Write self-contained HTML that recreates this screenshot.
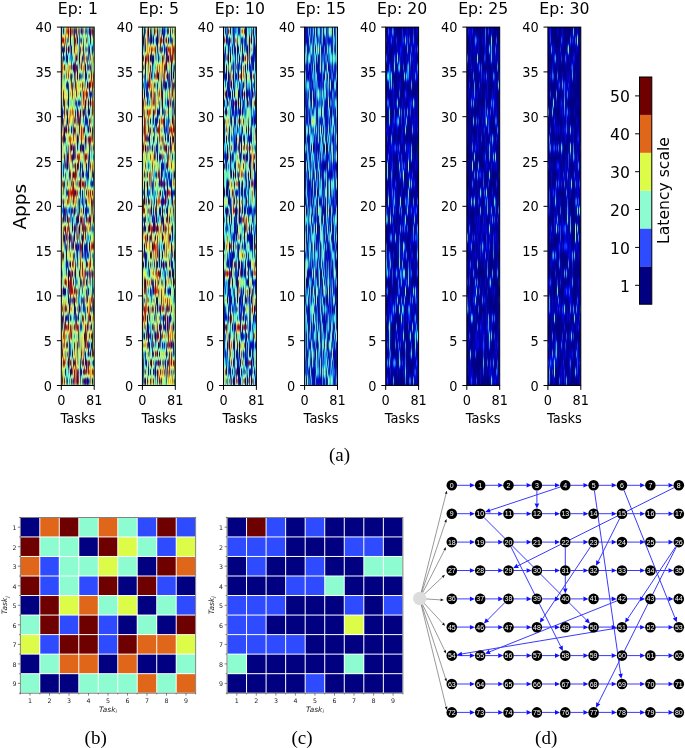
<!DOCTYPE html>
<html><head><meta charset="utf-8"><style>
html,body{margin:0;padding:0;background:#fff;width:685px;height:748px;overflow:hidden}
svg{display:block}
text{font-family:"DejaVu Sans","Liberation Sans",sans-serif;fill:#000}
.t{font-size:12.9px}
.ti{font-size:15.7px}
.tk{font-size:13px}
.ap{font-size:18.4px}
.cb{font-size:15.6px}
.cap{font-family:"Liberation Serif",serif;font-size:19px}
.g{font-size:6.3px;fill:#222}
.gl{font-size:7.4px;font-style:italic;fill:#222}
.n{font-family:"Liberation Sans",sans-serif;font-size:7px;fill:#fff}
</style></head><body>
<svg width="685" height="748" viewBox="0 0 685 748">
<defs>
<filter id="hb" x="-10%" y="-2%" width="120%" height="104%" color-interpolation-filters="sRGB"><feGaussianBlur stdDeviation="0.55 2.2"/><feComponentTransfer result="A"><feFuncR type="table" tableValues="0 0 0 0 0 0 0 0 0 0 0 0 0 0 0 0 0 0.012 0.082 0.149 0.216 0.282 0.349 0.416 0.482 0.553 0.62 0.686 0.753 0.82 0.886 0.953 1 1 1 1 1 1 1 1 1 1 1 0.973 0.878 0.784 0.69 0.596 0.502"/><feFuncG type="table" tableValues="0 0 0 0 0 0 0 0.082 0.165 0.251 0.333 0.416 0.502 0.584 0.667 0.749 0.831 0.918 1 1 1 1 1 1 1 1 1 1 1 1 1 0.976 0.902 0.824 0.745 0.671 0.592 0.514 0.439 0.361 0.282 0.208 0.129 0.051 0 0 0 0 0"/><feFuncB type="table" tableValues="0.502 0.596 0.69 0.784 0.878 0.973 1 1 1 1 1 1 1 1 1 1 1 0.953 0.886 0.82 0.753 0.686 0.62 0.553 0.482 0.416 0.349 0.282 0.216 0.149 0.082 0.012 0 0 0 0 0 0 0 0 0 0 0 0 0 0 0 0 0"/></feComponentTransfer><feColorMatrix in="A" type="matrix" values="0.299 0.587 0.114 0 0 0.299 0.587 0.114 0 0 0.299 0.587 0.114 0 0 0 0 0 1 0" result="L"/><feGaussianBlur in="A" stdDeviation="1.3 1.5" result="AB"/><feColorMatrix in="AB" type="matrix" values="0.299 0.587 0.114 0 0 0.299 0.587 0.114 0 0 0.299 0.587 0.114 0 0 0 0 0 1 0" result="LB"/><feComposite in="L" in2="LB" operator="arithmetic" k1="0" k2="1" k3="-1" k4="0.5" result="D"/><feComposite in="AB" in2="D" operator="arithmetic" k1="0" k2="1" k3="1" k4="-0.5" result="R"/><feGaussianBlur in="R" stdDeviation="0.3 0.3"/><feColorMatrix type="saturate" values="0.8"/></filter>
<filter id="hb2" x="-10%" y="-2%" width="120%" height="104%" color-interpolation-filters="sRGB"><feGaussianBlur stdDeviation="0.55 2.2"/><feComponentTransfer result="A"><feFuncR type="table" tableValues="0 0 0 0 0 0 0 0 0 0 0 0 0 0 0 0 0 0.012 0.082 0.149 0.216 0.282 0.349 0.416 0.482 0.553 0.62 0.686 0.753 0.82 0.886 0.953 1 1 1 1 1 1 1 1 1 1 1 0.973 0.878 0.784 0.69 0.596 0.502"/><feFuncG type="table" tableValues="0 0 0 0 0 0 0 0.082 0.165 0.251 0.333 0.416 0.502 0.584 0.667 0.749 0.831 0.918 1 1 1 1 1 1 1 1 1 1 1 1 1 0.976 0.902 0.824 0.745 0.671 0.592 0.514 0.439 0.361 0.282 0.208 0.129 0.051 0 0 0 0 0"/><feFuncB type="table" tableValues="0.502 0.596 0.69 0.784 0.878 0.973 1 1 1 1 1 1 1 1 1 1 1 0.953 0.886 0.82 0.753 0.686 0.62 0.553 0.482 0.416 0.349 0.282 0.216 0.149 0.082 0.012 0 0 0 0 0 0 0 0 0 0 0 0 0 0 0 0 0"/></feComponentTransfer><feColorMatrix in="A" type="matrix" values="0.299 0.587 0.114 0 0 0.299 0.587 0.114 0 0 0.299 0.587 0.114 0 0 0 0 0 1 0" result="L"/><feGaussianBlur in="A" stdDeviation="1.3 1.5" result="AB"/><feColorMatrix in="AB" type="matrix" values="0.299 0.587 0.114 0 0 0.299 0.587 0.114 0 0 0.299 0.587 0.114 0 0 0 0 0 1 0" result="LB"/><feComposite in="L" in2="LB" operator="arithmetic" k1="0" k2="1" k3="-1" k4="0.5" result="D"/><feComposite in="AB" in2="D" operator="arithmetic" k1="0" k2="1" k3="1" k4="-0.5" result="R"/><feGaussianBlur in="R" stdDeviation="0.3 0.3"/></filter>
<clipPath id="cp0"><rect x="61.3" y="27.1" width="32.9" height="358.4"/></clipPath>
<clipPath id="cp1"><rect x="142.4" y="27.1" width="32.9" height="358.4"/></clipPath>
<clipPath id="cp2"><rect x="223.5" y="27.1" width="32.9" height="358.4"/></clipPath>
<clipPath id="cp3"><rect x="304.6" y="27.1" width="32.9" height="358.4"/></clipPath>
<clipPath id="cp4"><rect x="385.7" y="27.1" width="32.9" height="358.4"/></clipPath>
<clipPath id="cp5"><rect x="466.8" y="27.1" width="32.9" height="358.4"/></clipPath>
<clipPath id="cp6"><rect x="547.9" y="27.1" width="32.9" height="358.4"/></clipPath>
</defs>
<g clip-path="url(#cp0)">
<g filter="url(#hb)"><g transform="translate(61,27.1) scale(1,8.96000)">
<rect x="-2" y="-2" width="37" height="44" fill="rgb(136,136,136)"/>
<path fill="#000000" d="M18 3h1v1h-1zM24 4h1v1h-1zM6 6h1v1h-1zM28 6h1v1h-1zM6 15h1v1h-1zM19 15h1v1h-1zM18 22h1v1h-1zM28 24h1v1h-1zM4 29h1v1h-1zM29 32h1v1h-1zM7 37h1v1h-1zM9 38h1v1h-1zM26 39h1v1h-1z"/>
<path fill="#040404" d="M9 0h1v1h-1zM29 1h1v1h-1zM16 5h1v1h-1zM26 6h1v1h-1zM24 8h1v1h-1zM28 9h1v1h-1zM10 11h1v1h-1zM16 12h1v1h-1zM19 13h1v1h-1zM21 13h2v1h-2zM12 16h1v1h-1zM31 17h1v1h-1zM22 20h1v1h-1zM24 20h1v1h-1zM17 21h1v1h-1zM13 23h1v1h-1zM21 23h1v1h-1zM8 27h1v1h-1zM0 29h1v1h-1zM2 29h1v1h-1zM7 30h1v1h-1zM8 31h1v1h-1zM4 38h1v1h-1z"/>
<path fill="#080808" d="M9 1h1v1h-1zM7 2h1v1h-1zM5 3h2v1h-2zM12 4h1v1h-1zM6 10h1v1h-1zM25 10h1v1h-1zM24 12h1v1h-1zM10 13h1v1h-1zM16 15h1v1h-1zM25 15h1v1h-1zM21 18h1v1h-1zM13 20h1v1h-1zM11 22h1v1h-1zM21 24h1v1h-1zM25 24h1v1h-1zM7 28h1v1h-1zM25 28h1v1h-1zM3 29h1v1h-1zM27 29h1v1h-1zM13 30h1v1h-1zM13 31h1v1h-1z"/>
<path fill="#0c0c0c" d="M16 1h1v1h-1zM10 2h1v1h-1zM27 8h1v1h-1zM16 9h1v1h-1zM24 10h1v1h-1zM3 11h1v1h-1zM27 11h1v1h-1zM3 12h1v1h-1zM12 14h1v1h-1zM21 19h1v1h-1zM25 20h1v1h-1zM3 23h1v1h-1zM8 23h1v1h-1zM6 26h1v1h-1zM9 26h1v1h-1zM7 27h1v1h-1zM25 37h1v1h-1zM32 37h1v1h-1zM24 39h1v1h-1z"/>
<path fill="#101010" d="M28 0h1v1h-1zM1 2h1v1h-1zM31 2h1v1h-1zM0 9h1v1h-1zM27 15h1v1h-1zM22 16h1v1h-1zM19 17h1v1h-1zM6 21h1v1h-1zM16 21h1v1h-1zM15 24h1v1h-1zM17 24h1v1h-1zM5 25h1v1h-1zM24 25h1v1h-1zM5 26h1v1h-1zM0 27h1v1h-1zM14 27h1v1h-1zM18 31h1v1h-1zM5 32h1v1h-1zM9 32h1v1h-1zM10 38h1v1h-1zM20 38h1v1h-1zM31 39h1v1h-1z"/>
<path fill="#141414" d="M28 2h1v1h-1zM15 3h1v1h-1zM13 4h1v1h-1zM24 5h2v1h-2zM29 7h1v1h-1zM7 8h1v1h-1zM19 9h1v1h-1zM27 9h1v1h-1zM13 11h1v1h-1zM11 14h1v1h-1zM21 16h1v1h-1zM14 18h1v1h-1zM0 19h1v1h-1zM3 20h1v1h-1zM20 21h1v1h-1zM28 21h1v1h-1zM4 22h1v1h-1zM24 24h1v1h-1zM18 27h1v1h-1zM30 33h1v1h-1zM23 34h1v1h-1zM30 35h1v1h-1zM27 36h1v1h-1zM16 39h1v1h-1z"/>
<path fill="#181818" d="M20 0h1v1h-1zM7 7h1v1h-1zM22 9h1v1h-1zM5 11h1v1h-1zM29 11h1v1h-1zM0 13h1v1h-1zM28 14h1v1h-1zM27 16h1v1h-1zM6 18h1v1h-1zM8 20h1v1h-1zM13 22h1v1h-1zM12 24h1v1h-1zM16 25h1v1h-1zM21 25h1v1h-1zM25 26h1v1h-1zM11 27h1v1h-1zM22 31h1v1h-1zM11 36h1v1h-1zM24 36h1v1h-1zM24 37h1v1h-1zM23 39h1v1h-1z"/>
<path fill="#1c1c1c" d="M2 0h1v1h-1zM2 2h1v1h-1zM17 8h1v1h-1zM29 8h1v1h-1zM1 9h1v1h-1zM1 10h1v1h-1zM6 14h1v1h-1zM19 18h1v1h-1zM25 19h1v1h-1zM2 21h1v1h-1zM26 25h1v1h-1zM14 31h1v1h-1zM1 32h1v1h-1zM17 32h1v1h-1zM29 36h1v1h-1zM13 37h1v1h-1zM27 39h1v1h-1z"/>
<path fill="#202020" d="M2 3h1v1h-1zM21 3h1v1h-1zM30 7h1v1h-1zM15 8h1v1h-1zM18 8h1v1h-1zM26 10h1v1h-1zM23 11h1v1h-1zM12 13h1v1h-1zM16 13h1v1h-1zM0 16h1v1h-1zM8 16h1v1h-1zM26 16h1v1h-1zM32 16h1v1h-1zM3 17h1v1h-1zM10 20h1v1h-1zM11 21h1v1h-1zM2 25h1v1h-1zM26 33h1v1h-1zM28 35h1v1h-1zM19 38h1v1h-1zM22 38h1v1h-1z"/>
<path fill="#242424" d="M29 0h1v1h-1zM29 4h1v1h-1zM5 6h1v1h-1zM6 9h1v1h-1zM14 9h1v1h-1zM28 12h1v1h-1zM3 14h1v1h-1zM30 17h1v1h-1zM26 20h1v1h-1zM25 21h1v1h-1zM14 22h1v1h-1zM23 24h1v1h-1zM26 27h1v1h-1zM31 27h1v1h-1zM12 28h1v1h-1zM26 30h1v1h-1zM4 32h1v1h-1zM6 32h1v1h-1zM20 33h1v1h-1zM6 35h1v1h-1zM28 37h1v1h-1zM12 39h1v1h-1z"/>
<path fill="#282828" d="M5 2h1v1h-1zM22 2h1v1h-1zM19 5h1v1h-1zM19 7h1v1h-1zM28 13h1v1h-1zM21 15h1v1h-1zM2 16h1v1h-1zM5 18h1v1h-1zM2 19h1v1h-1zM2 20h1v1h-1zM27 20h1v1h-1zM16 24h1v1h-1zM23 31h1v1h-1zM4 33h1v1h-1zM19 33h1v1h-1zM27 35h1v1h-1zM21 37h1v1h-1zM16 38h1v1h-1z"/>
<path fill="#2c2c2c" d="M14 0h1v1h-1zM3 3h1v1h-1zM16 4h1v1h-1zM7 6h1v1h-1zM4 12h1v1h-1zM17 12h1v1h-1zM25 16h1v1h-1zM10 17h1v1h-1zM31 19h1v1h-1zM23 22h1v1h-1zM4 24h2v1h-2zM13 25h1v1h-1zM27 25h1v1h-1zM24 27h1v1h-1zM20 28h1v1h-1zM11 30h1v1h-1zM20 30h1v1h-1zM22 30h1v1h-1zM1 33h1v1h-1zM19 37h1v1h-1zM25 38h1v1h-1zM6 39h1v1h-1z"/>
<path fill="#303030" d="M32 0h1v1h-1zM10 4h1v1h-1zM9 5h1v1h-1zM13 5h1v1h-1zM28 7h1v1h-1zM2 15h1v1h-1zM5 15h1v1h-1zM4 16h1v1h-1zM5 20h1v1h-1zM31 22h1v1h-1zM20 23h1v1h-1zM8 24h1v1h-1zM18 29h1v1h-1zM31 29h2v1h-2zM14 32h1v1h-1zM24 32h1v1h-1zM9 36h1v1h-1z"/>
<path fill="#343434" d="M21 0h1v1h-1zM25 0h1v1h-1zM27 2h1v1h-1zM22 3h1v1h-1zM27 3h1v1h-1zM26 4h1v1h-1zM19 10h1v1h-1zM32 17h1v1h-1zM1 20h1v1h-1zM10 23h1v1h-1zM29 23h1v1h-1zM14 26h1v1h-1zM16 26h1v1h-1zM5 27h1v1h-1zM31 28h1v1h-1zM21 29h1v1h-1zM8 30h1v1h-1zM30 31h1v1h-1zM0 32h1v1h-1z"/>
<path fill="#383838" d="M24 0h1v1h-1zM6 1h1v1h-1zM18 1h2v1h-2zM26 3h1v1h-1zM20 5h1v1h-1zM0 8h1v1h-1zM14 10h1v1h-1zM0 14h1v1h-1zM14 14h1v1h-1zM32 14h1v1h-1zM13 15h1v1h-1zM19 16h1v1h-1zM29 17h1v1h-1zM3 21h1v1h-1zM12 23h1v1h-1zM10 24h1v1h-1zM26 24h1v1h-1zM23 25h1v1h-1zM29 27h1v1h-1zM15 28h1v1h-1zM31 30h1v1h-1zM31 31h1v1h-1zM13 32h1v1h-1zM16 32h1v1h-1zM9 35h1v1h-1z"/>
<path fill="#3c3c3c" d="M32 1h1v1h-1zM18 2h1v1h-1zM11 3h1v1h-1zM28 4h1v1h-1zM24 9h1v1h-1zM5 13h1v1h-1zM0 15h1v1h-1zM3 15h1v1h-1zM18 16h1v1h-1zM23 17h1v1h-1zM17 19h1v1h-1zM7 20h1v1h-1zM31 20h1v1h-1zM8 22h1v1h-1zM32 22h1v1h-1zM16 23h1v1h-1zM27 23h1v1h-1zM32 26h1v1h-1zM7 29h1v1h-1zM14 29h1v1h-1zM10 30h1v1h-1zM24 31h1v1h-1zM31 37h1v1h-1zM5 39h1v1h-1zM19 39h1v1h-1zM21 39h1v1h-1z"/>
<path fill="#404040" d="M12 0h1v1h-1zM18 0h1v1h-1zM22 1h1v1h-1zM25 2h1v1h-1zM32 2h1v1h-1zM10 3h1v1h-1zM3 5h1v1h-1zM2 9h1v1h-1zM16 10h1v1h-1zM22 10h1v1h-1zM25 12h1v1h-1zM24 13h1v1h-1zM27 14h1v1h-1zM12 20h1v1h-1zM23 21h1v1h-1zM0 22h1v1h-1zM18 24h1v1h-1zM31 25h1v1h-1zM14 28h1v1h-1zM17 30h1v1h-1zM23 30h1v1h-1zM14 33h1v1h-1zM28 39h1v1h-1z"/>
<path fill="#444444" d="M24 2h1v1h-1zM11 5h1v1h-1zM21 5h1v1h-1zM26 11h1v1h-1zM20 15h1v1h-1zM24 16h1v1h-1zM16 17h1v1h-1zM26 17h1v1h-1zM18 18h1v1h-1zM20 19h1v1h-1zM22 19h1v1h-1zM9 20h1v1h-1zM9 21h1v1h-1zM22 25h1v1h-1zM32 25h1v1h-1zM27 27h1v1h-1zM29 28h1v1h-1zM0 30h1v1h-1zM13 34h1v1h-1zM2 35h1v1h-1zM23 36h1v1h-1zM8 39h1v1h-1zM11 39h1v1h-1z"/>
<path fill="#484848" d="M26 0h1v1h-1zM9 2h1v1h-1zM9 3h1v1h-1zM27 5h1v1h-1zM0 6h1v1h-1zM12 6h1v1h-1zM0 10h1v1h-1zM14 13h1v1h-1zM11 15h1v1h-1zM28 15h1v1h-1zM30 22h1v1h-1zM4 23h1v1h-1zM7 23h1v1h-1zM15 25h1v1h-1zM25 25h1v1h-1zM26 28h1v1h-1zM6 29h1v1h-1zM26 29h1v1h-1zM17 31h1v1h-1zM10 32h1v1h-1zM7 34h1v1h-1zM18 35h1v1h-1zM26 36h1v1h-1zM6 37h1v1h-1z"/>
<path fill="#4c4c4c" d="M8 11h1v1h-1zM30 13h1v1h-1zM5 14h1v1h-1zM8 15h1v1h-1zM15 17h1v1h-1zM23 18h1v1h-1zM6 20h1v1h-1zM17 20h1v1h-1zM26 23h1v1h-1zM3 24h1v1h-1zM1 27h1v1h-1zM16 28h1v1h-1zM3 31h1v1h-1zM12 32h1v1h-1zM7 38h1v1h-1z"/>
<path fill="#505050" d="M26 1h1v1h-1zM18 4h1v1h-1zM22 6h1v1h-1zM24 6h1v1h-1zM5 10h1v1h-1zM11 19h1v1h-1zM15 20h1v1h-1zM10 21h1v1h-1zM12 21h1v1h-1zM18 23h1v1h-1zM7 26h1v1h-1zM17 29h1v1h-1zM5 34h1v1h-1zM23 35h1v1h-1zM7 36h1v1h-1zM10 37h1v1h-1z"/>
<path fill="#545454" d="M30 2h1v1h-1zM8 3h1v1h-1zM20 8h1v1h-1zM11 11h1v1h-1zM32 11h1v1h-1zM19 19h1v1h-1zM23 19h1v1h-1zM0 20h1v1h-1zM4 26h1v1h-1z"/>
<path fill="#585858" d="M0 3h1v1h-1zM2 5h1v1h-1zM20 7h1v1h-1zM32 7h1v1h-1zM16 8h1v1h-1zM23 10h1v1h-1zM30 10h1v1h-1zM1 11h1v1h-1zM25 13h1v1h-1zM30 14h1v1h-1zM1 18h1v1h-1zM16 22h1v1h-1zM26 22h1v1h-1zM21 28h1v1h-1zM18 30h1v1h-1zM20 31h2v1h-2zM11 33h1v1h-1zM28 33h1v1h-1zM32 34h1v1h-1z"/>
<path fill="#5c5c5c" d="M3 0h1v1h-1zM28 3h1v1h-1zM13 8h1v1h-1zM25 9h1v1h-1zM30 9h1v1h-1zM11 10h1v1h-1zM22 14h1v1h-1zM9 19h1v1h-1zM16 19h1v1h-1zM16 20h1v1h-1zM18 25h1v1h-1zM19 30h1v1h-1zM21 33h1v1h-1zM32 33h1v1h-1zM18 34h1v1h-1zM10 35h1v1h-1zM5 36h1v1h-1zM17 37h1v1h-1z"/>
<path fill="#606060" d="M1 0h1v1h-1zM12 1h1v1h-1zM4 3h1v1h-1zM31 4h1v1h-1zM12 8h1v1h-1zM6 13h1v1h-1zM31 13h1v1h-1zM30 16h1v1h-1zM27 17h1v1h-1zM19 20h1v1h-1zM24 21h1v1h-1zM19 32h2v1h-2zM3 36h1v1h-1zM15 36h1v1h-1zM1 37h1v1h-1z"/>
<path fill="#646464" d="M5 1h1v1h-1zM27 1h1v1h-1zM17 2h1v1h-1zM4 4h1v1h-1zM13 6h1v1h-1zM1 8h1v1h-1zM9 8h1v1h-1zM1 15h1v1h-1zM7 16h1v1h-1zM25 17h1v1h-1zM5 21h1v1h-1zM25 23h1v1h-1zM17 26h1v1h-1zM28 29h1v1h-1zM16 30h1v1h-1zM15 35h1v1h-1zM19 35h1v1h-1zM5 38h1v1h-1z"/>
<path fill="#686868" d="M17 3h1v1h-1zM31 3h1v1h-1zM8 7h1v1h-1zM10 8h1v1h-1zM31 10h1v1h-1zM0 12h1v1h-1zM7 12h1v1h-1zM32 12h1v1h-1zM14 21h1v1h-1zM1 28h1v1h-1zM10 36h1v1h-1z"/>
<path fill="#6c6c6c" d="M16 0h1v1h-1zM8 13h1v1h-1zM8 17h1v1h-1zM26 18h1v1h-1zM28 23h1v1h-1zM28 25h1v1h-1zM24 26h1v1h-1zM26 32h1v1h-1zM18 33h1v1h-1zM15 34h1v1h-1zM11 35h1v1h-1zM30 36h1v1h-1z"/>
<path fill="#707070" d="M6 4h1v1h-1zM31 5h1v1h-1zM7 9h1v1h-1zM15 9h1v1h-1zM17 13h2v1h-2zM0 17h1v1h-1zM28 20h1v1h-1zM13 21h1v1h-1zM31 21h1v1h-1zM11 25h1v1h-1zM14 25h1v1h-1zM8 32h1v1h-1zM11 34h1v1h-1zM16 34h1v1h-1zM29 35h1v1h-1zM0 38h1v1h-1zM3 38h1v1h-1z"/>
<path fill="#747474" d="M30 1h1v1h-1zM13 3h1v1h-1zM13 7h1v1h-1zM4 8h2v1h-2zM26 8h1v1h-1zM4 13h1v1h-1zM1 16h1v1h-1zM5 17h1v1h-1zM22 18h1v1h-1zM23 20h1v1h-1zM4 27h1v1h-1zM24 29h1v1h-1zM0 33h1v1h-1zM19 36h1v1h-1zM30 37h1v1h-1zM18 38h1v1h-1z"/>
<path fill="#787878" d="M17 1h1v1h-1zM21 1h1v1h-1zM9 6h1v1h-1zM27 7h1v1h-1zM8 8h1v1h-1zM27 10h1v1h-1zM32 10h1v1h-1zM17 11h1v1h-1zM1 13h1v1h-1zM26 15h1v1h-1zM5 16h1v1h-1zM16 16h1v1h-1zM4 17h1v1h-1zM4 18h1v1h-1zM4 19h1v1h-1zM1 23h1v1h-1zM8 25h1v1h-1zM3 27h1v1h-1zM5 30h1v1h-1zM29 34h1v1h-1zM7 35h1v1h-1zM17 36h1v1h-1zM2 39h1v1h-1z"/>
<path fill="#7c7c7c" d="M11 1h1v1h-1zM20 2h1v1h-1zM17 4h1v1h-1zM4 5h1v1h-1zM17 6h1v1h-1zM20 9h1v1h-1zM9 11h1v1h-1zM16 11h1v1h-1zM15 14h1v1h-1zM29 14h1v1h-1zM31 14h1v1h-1zM17 16h1v1h-1zM20 22h1v1h-1zM1 24h1v1h-1zM9 24h1v1h-1zM20 26h1v1h-1zM15 27h1v1h-1zM2 28h1v1h-1zM32 28h1v1h-1zM23 29h1v1h-1zM29 29h1v1h-1zM6 31h1v1h-1zM12 34h1v1h-1zM27 34h1v1h-1zM9 39h1v1h-1zM32 39h1v1h-1z"/>
<path fill="#808080" d="M12 2h1v1h-1zM25 4h1v1h-1zM18 6h1v1h-1zM3 7h1v1h-1zM16 7h1v1h-1zM21 10h1v1h-1zM3 18h1v1h-1zM17 25h1v1h-1zM2 26h1v1h-1zM30 28h1v1h-1zM20 29h1v1h-1zM25 31h1v1h-1zM14 35h1v1h-1z"/>
<path fill="#848484" d="M21 4h1v1h-1zM15 5h1v1h-1zM23 5h1v1h-1zM3 6h1v1h-1zM7 17h1v1h-1zM17 18h1v1h-1zM3 26h1v1h-1zM0 34h1v1h-1zM19 34h1v1h-1zM26 34h1v1h-1z"/>
<path fill="#8c8c8c" d="M23 1h1v1h-1zM28 1h1v1h-1zM0 2h1v1h-1zM24 11h2v1h-2zM6 12h1v1h-1zM13 12h1v1h-1zM0 18h1v1h-1zM20 18h1v1h-1zM26 19h1v1h-1zM1 22h1v1h-1zM22 24h1v1h-1zM30 25h1v1h-1zM24 28h1v1h-1zM6 38h1v1h-1z"/>
<path fill="#909090" d="M8 1h1v1h-1zM7 3h1v1h-1zM12 3h1v1h-1zM8 5h1v1h-1zM6 7h1v1h-1zM13 9h1v1h-1zM20 14h1v1h-1zM13 17h1v1h-1zM24 18h1v1h-1zM29 20h1v1h-1zM31 23h1v1h-1zM0 26h1v1h-1zM30 26h1v1h-1zM13 28h1v1h-1zM23 32h1v1h-1zM8 33h1v1h-1zM4 35h1v1h-1zM11 37h1v1h-1zM18 37h1v1h-1z"/>
<path fill="#949494" d="M24 1h1v1h-1zM32 4h1v1h-1zM17 5h1v1h-1zM29 5h1v1h-1zM4 10h1v1h-1zM18 15h1v1h-1zM6 16h1v1h-1zM28 16h1v1h-1zM5 19h1v1h-1zM18 21h1v1h-1zM9 22h2v1h-2zM14 23h1v1h-1zM6 25h1v1h-1zM23 26h1v1h-1zM17 28h1v1h-1zM5 29h1v1h-1zM22 29h1v1h-1zM12 31h1v1h-1zM12 36h1v1h-1zM7 39h1v1h-1z"/>
<path fill="#989898" d="M10 1h1v1h-1zM11 2h1v1h-1zM12 5h1v1h-1zM14 7h1v1h-1zM20 10h1v1h-1zM26 13h1v1h-1zM22 15h1v1h-1zM30 18h1v1h-1zM0 21h1v1h-1zM10 26h1v1h-1zM11 32h1v1h-1zM6 34h1v1h-1zM32 35h1v1h-1z"/>
<path fill="#9c9c9c" d="M6 5h1v1h-1zM26 5h1v1h-1zM8 6h1v1h-1zM10 7h1v1h-1zM10 10h1v1h-1zM11 12h1v1h-1zM19 14h1v1h-1zM10 15h1v1h-1zM16 27h1v1h-1zM1 30h1v1h-1zM6 30h1v1h-1zM30 32h1v1h-1zM18 36h1v1h-1zM18 39h1v1h-1z"/>
<path fill="#a0a0a0" d="M31 1h1v1h-1zM19 3h1v1h-1zM11 8h1v1h-1zM19 11h1v1h-1zM18 12h1v1h-1zM8 14h1v1h-1zM9 15h1v1h-1zM29 16h1v1h-1zM28 17h1v1h-1zM30 23h1v1h-1zM2 27h1v1h-1zM18 28h1v1h-1zM27 30h1v1h-1zM0 31h1v1h-1zM11 31h1v1h-1zM14 34h1v1h-1zM22 34h1v1h-1zM25 36h1v1h-1zM20 39h1v1h-1z"/>
<path fill="#a4a4a4" d="M1 7h1v1h-1zM4 7h1v1h-1zM3 13h1v1h-1zM15 13h1v1h-1zM10 16h1v1h-1zM29 19h1v1h-1zM27 22h1v1h-1zM19 23h1v1h-1zM32 23h1v1h-1zM7 25h1v1h-1zM22 26h1v1h-1zM19 29h1v1h-1zM3 32h1v1h-1zM23 33h1v1h-1z"/>
<path fill="#a8a8a8" d="M14 2h1v1h-1zM29 2h1v1h-1zM16 6h1v1h-1zM25 6h1v1h-1zM9 10h1v1h-1zM15 11h1v1h-1zM30 11h1v1h-1zM27 13h1v1h-1zM5 22h1v1h-1zM13 24h1v1h-1zM27 24h1v1h-1zM0 25h1v1h-1zM10 25h1v1h-1zM6 28h1v1h-1zM27 31h1v1h-1zM22 35h1v1h-1zM0 36h1v1h-1zM14 36h1v1h-1zM15 37h1v1h-1zM12 38h1v1h-1z"/>
<path fill="#acacac" d="M23 2h1v1h-1zM5 4h1v1h-1zM4 6h1v1h-1zM18 7h1v1h-1zM14 12h1v1h-1zM2 13h1v1h-1zM23 15h1v1h-1zM30 15h1v1h-1zM23 16h1v1h-1zM21 20h1v1h-1zM1 26h1v1h-1zM11 28h1v1h-1zM7 31h1v1h-1zM31 33h1v1h-1zM20 34h2v1h-2zM21 35h1v1h-1zM30 38h1v1h-1zM4 39h1v1h-1z"/>
<path fill="#b0b0b0" d="M4 0h1v1h-1zM16 2h1v1h-1zM30 3h1v1h-1zM0 4h1v1h-1zM20 6h1v1h-1zM5 7h1v1h-1zM12 7h1v1h-1zM21 8h1v1h-1zM18 9h1v1h-1zM5 12h1v1h-1zM1 14h1v1h-1zM32 15h1v1h-1zM9 17h1v1h-1zM32 20h1v1h-1zM23 23h1v1h-1zM2 24h1v1h-1zM3 25h1v1h-1zM18 26h1v1h-1zM20 27h1v1h-1zM30 29h1v1h-1zM4 30h1v1h-1zM18 32h1v1h-1zM2 33h1v1h-1zM22 33h1v1h-1zM1 34h1v1h-1zM2 36h1v1h-1zM23 37h1v1h-1z"/>
<path fill="#b4b4b4" d="M23 0h1v1h-1zM15 2h1v1h-1zM1 6h1v1h-1zM8 9h1v1h-1zM10 9h1v1h-1zM3 10h1v1h-1zM21 14h1v1h-1zM15 15h1v1h-1zM3 16h1v1h-1zM32 18h1v1h-1zM0 23h1v1h-1zM27 26h1v1h-1zM31 26h1v1h-1zM2 30h1v1h-1zM8 38h1v1h-1zM21 38h1v1h-1zM30 39h1v1h-1z"/>
<path fill="#b8b8b8" d="M20 3h1v1h-1zM7 4h1v1h-1zM17 7h1v1h-1zM21 7h1v1h-1zM6 11h1v1h-1zM19 12h1v1h-1zM22 12h2v1h-2zM2 14h1v1h-1zM24 15h1v1h-1zM28 18h1v1h-1zM10 19h1v1h-1zM30 21h1v1h-1zM19 22h1v1h-1zM7 24h1v1h-1zM29 24h1v1h-1zM6 27h1v1h-1zM22 27h1v1h-1zM12 29h1v1h-1zM21 36h1v1h-1zM29 37h1v1h-1zM0 39h1v1h-1z"/>
<path fill="#bcbcbc" d="M8 0h1v1h-1zM3 1h1v1h-1zM24 3h1v1h-1zM21 12h1v1h-1zM26 12h1v1h-1zM4 14h1v1h-1zM27 19h1v1h-1zM15 26h1v1h-1zM27 28h1v1h-1zM24 30h1v1h-1zM12 33h1v1h-1zM20 35h1v1h-1zM1 38h1v1h-1zM29 38h1v1h-1z"/>
<path fill="#c0c0c0" d="M15 1h1v1h-1zM2 4h1v1h-1zM19 4h1v1h-1zM22 5h1v1h-1zM0 7h1v1h-1zM9 7h1v1h-1zM23 8h1v1h-1zM25 8h1v1h-1zM26 9h1v1h-1zM21 11h1v1h-1zM14 17h1v1h-1zM3 19h1v1h-1zM13 19h3v1h-3zM28 19h1v1h-1zM0 24h1v1h-1zM19 27h1v1h-1zM29 30h1v1h-1zM31 32h1v1h-1zM25 33h1v1h-1zM22 36h1v1h-1z"/>
<path fill="#c4c4c4" d="M6 2h1v1h-1zM1 5h1v1h-1zM23 6h1v1h-1zM30 6h1v1h-1zM32 9h1v1h-1zM12 10h1v1h-1zM10 12h1v1h-1zM15 12h1v1h-1zM23 13h1v1h-1zM9 14h1v1h-1zM20 16h1v1h-1zM8 19h1v1h-1zM12 22h1v1h-1zM28 28h1v1h-1zM28 30h1v1h-1zM2 31h1v1h-1zM9 31h2v1h-2zM16 37h1v1h-1zM14 38h1v1h-1zM26 38h1v1h-1z"/>
<path fill="#c8c8c8" d="M8 4h2v1h-2zM22 4h1v1h-1zM12 9h1v1h-1zM7 10h1v1h-1zM15 10h1v1h-1zM29 13h1v1h-1zM26 14h1v1h-1zM20 17h1v1h-1zM11 23h1v1h-1zM28 31h1v1h-1zM4 34h1v1h-1zM1 35h1v1h-1zM4 36h1v1h-1zM13 36h1v1h-1zM4 37h1v1h-1zM20 37h1v1h-1z"/>
<path fill="#cccccc" d="M27 0h1v1h-1zM21 2h1v1h-1zM26 2h1v1h-1zM32 3h1v1h-1zM23 4h1v1h-1zM15 6h1v1h-1zM23 7h1v1h-1zM28 8h1v1h-1zM30 8h1v1h-1zM32 8h1v1h-1zM2 11h1v1h-1zM17 17h1v1h-1zM15 23h1v1h-1zM19 25h2v1h-2zM16 29h1v1h-1zM15 30h1v1h-1zM10 33h1v1h-1z"/>
<path fill="#d0d0d0" d="M19 0h1v1h-1zM30 4h1v1h-1zM19 6h1v1h-1zM24 7h1v1h-1zM8 10h1v1h-1zM28 11h1v1h-1zM31 15h1v1h-1zM1 19h1v1h-1zM6 24h1v1h-1zM23 27h1v1h-1zM32 27h1v1h-1zM25 35h1v1h-1zM16 36h1v1h-1zM28 38h1v1h-1zM29 39h1v1h-1z"/>
<path fill="#d4d4d4" d="M5 0h1v1h-1zM22 0h1v1h-1zM11 4h1v1h-1zM14 5h1v1h-1zM32 6h1v1h-1zM6 8h1v1h-1zM9 9h1v1h-1zM21 9h1v1h-1zM7 15h1v1h-1zM21 21h1v1h-1zM28 22h1v1h-1zM6 23h1v1h-1zM17 23h1v1h-1zM9 25h1v1h-1zM29 25h1v1h-1zM28 26h1v1h-1zM3 28h1v1h-1zM1 29h1v1h-1zM25 30h1v1h-1zM16 31h1v1h-1zM32 32h1v1h-1zM27 33h1v1h-1zM17 35h1v1h-1zM14 39h1v1h-1z"/>
<path fill="#d8d8d8" d="M7 1h1v1h-1zM1 3h1v1h-1zM14 3h1v1h-1zM16 3h1v1h-1zM23 3h1v1h-1zM22 8h1v1h-1zM30 12h1v1h-1zM7 13h1v1h-1zM23 14h1v1h-1zM12 15h1v1h-1zM11 17h1v1h-1zM2 18h1v1h-1zM8 18h1v1h-1zM30 20h1v1h-1zM1 21h1v1h-1zM22 21h1v1h-1zM2 22h1v1h-1zM17 22h1v1h-1zM25 22h1v1h-1zM12 26h1v1h-1zM23 28h1v1h-1zM14 30h1v1h-1zM3 34h1v1h-1zM26 37h1v1h-1zM15 38h1v1h-1z"/>
<path fill="#dcdcdc" d="M10 0h1v1h-1zM1 4h1v1h-1zM5 5h1v1h-1zM28 5h1v1h-1zM27 6h1v1h-1zM11 9h1v1h-1zM29 10h1v1h-1zM9 12h1v1h-1zM11 16h1v1h-1zM15 18h1v1h-1zM7 19h1v1h-1zM32 19h1v1h-1zM20 20h1v1h-1zM15 22h1v1h-1zM29 22h1v1h-1zM13 27h1v1h-1zM6 33h1v1h-1zM9 34h1v1h-1zM3 35h1v1h-1zM28 36h1v1h-1zM32 38h1v1h-1z"/>
<path fill="#e0e0e0" d="M6 0h1v1h-1zM11 0h1v1h-1zM17 0h1v1h-1zM30 0h1v1h-1zM4 1h1v1h-1zM8 2h1v1h-1zM25 3h1v1h-1zM29 3h1v1h-1zM31 7h1v1h-1zM2 10h1v1h-1zM1 12h1v1h-1zM8 12h1v1h-1zM1 17h1v1h-1zM26 21h1v1h-1zM8 26h1v1h-1zM10 27h1v1h-1zM30 27h1v1h-1zM19 31h1v1h-1zM29 33h1v1h-1zM8 34h1v1h-1zM8 37h1v1h-1z"/>
<path fill="#e4e4e4" d="M19 8h1v1h-1zM5 9h1v1h-1zM17 9h1v1h-1zM12 12h1v1h-1zM11 13h1v1h-1zM17 14h1v1h-1zM15 16h1v1h-1zM6 17h1v1h-1zM9 18h1v1h-1zM14 20h1v1h-1zM7 21h2v1h-2zM27 21h1v1h-1zM6 22h1v1h-1zM30 24h1v1h-1zM5 28h1v1h-1zM8 28h1v1h-1zM27 32h1v1h-1zM15 33h1v1h-1zM17 33h1v1h-1zM6 36h1v1h-1zM17 38h1v1h-1zM13 39h1v1h-1zM15 39h1v1h-1z"/>
<path fill="#e8e8e8" d="M7 5h1v1h-1zM10 6h1v1h-1zM14 8h1v1h-1zM31 8h1v1h-1zM31 12h1v1h-1zM9 13h1v1h-1zM32 13h1v1h-1zM18 14h1v1h-1zM16 18h1v1h-1zM27 18h1v1h-1zM6 19h1v1h-1zM7 22h1v1h-1zM12 25h1v1h-1zM25 27h1v1h-1zM10 28h1v1h-1zM22 28h1v1h-1zM9 29h1v1h-1zM15 29h1v1h-1zM30 30h1v1h-1zM32 30h1v1h-1zM1 31h1v1h-1zM2 34h1v1h-1zM11 38h1v1h-1zM17 39h1v1h-1z"/>
<path fill="#ececec" d="M25 1h1v1h-1zM32 5h1v1h-1zM11 6h1v1h-1zM13 10h1v1h-1zM0 11h1v1h-1zM14 11h1v1h-1zM20 11h1v1h-1zM22 11h1v1h-1zM13 13h1v1h-1zM10 14h1v1h-1zM29 15h1v1h-1zM24 23h1v1h-1zM19 26h1v1h-1zM9 27h1v1h-1zM0 28h1v1h-1zM8 29h1v1h-1zM9 30h1v1h-1zM5 31h1v1h-1zM2 32h1v1h-1zM22 32h1v1h-1zM3 33h1v1h-1zM5 33h1v1h-1zM17 34h1v1h-1zM28 34h1v1h-1zM5 35h1v1h-1zM24 38h1v1h-1z"/>
<path fill="#f0f0f0" d="M1 1h1v1h-1zM20 1h1v1h-1zM19 2h1v1h-1zM20 4h1v1h-1zM11 7h1v1h-1zM26 7h1v1h-1zM12 11h1v1h-1zM20 12h1v1h-1zM27 12h1v1h-1zM20 13h1v1h-1zM7 14h1v1h-1zM13 14h1v1h-1zM16 14h1v1h-1zM4 15h1v1h-1zM9 16h1v1h-1zM2 17h1v1h-1zM10 18h2v1h-2zM24 19h1v1h-1zM4 20h1v1h-1zM19 21h1v1h-1zM3 22h1v1h-1zM22 22h1v1h-1zM1 25h1v1h-1zM11 26h1v1h-1zM28 27h1v1h-1zM25 29h1v1h-1zM12 30h1v1h-1zM21 30h1v1h-1zM20 36h1v1h-1zM3 37h1v1h-1zM14 37h1v1h-1zM27 38h1v1h-1zM3 39h1v1h-1zM22 39h1v1h-1z"/>
<path fill="#f4f4f4" d="M14 1h1v1h-1zM13 2h1v1h-1zM27 4h1v1h-1zM0 5h1v1h-1zM21 6h1v1h-1zM3 9h1v1h-1zM31 9h1v1h-1zM7 11h1v1h-1zM29 12h1v1h-1zM22 17h1v1h-1zM24 17h1v1h-1zM7 18h1v1h-1zM12 18h1v1h-1zM12 19h1v1h-1zM4 21h1v1h-1zM11 24h1v1h-1zM14 24h1v1h-1zM20 24h1v1h-1zM31 24h1v1h-1zM21 27h1v1h-1zM11 29h1v1h-1zM29 31h1v1h-1zM9 33h1v1h-1zM13 33h1v1h-1zM10 34h1v1h-1zM25 34h1v1h-1zM16 35h1v1h-1zM32 36h1v1h-1zM2 37h1v1h-1zM27 37h1v1h-1zM10 39h1v1h-1z"/>
<path fill="#f8f8f8" d="M0 1h1v1h-1zM30 5h1v1h-1zM14 6h1v1h-1zM29 6h1v1h-1zM2 7h1v1h-1zM15 7h1v1h-1zM2 8h1v1h-1zM17 10h1v1h-1zM25 14h1v1h-1zM14 16h1v1h-1zM24 22h1v1h-1zM22 23h1v1h-1zM32 24h1v1h-1zM21 26h1v1h-1zM26 26h1v1h-1zM10 29h1v1h-1zM4 31h1v1h-1zM15 32h1v1h-1zM28 32h1v1h-1zM16 33h1v1h-1zM24 33h1v1h-1zM0 35h1v1h-1zM8 35h1v1h-1zM13 35h1v1h-1zM26 35h1v1h-1zM31 38h1v1h-1z"/>
<path fill="#fcfcfc" d="M0 0h1v1h-1zM7 0h1v1h-1zM13 0h1v1h-1zM15 0h1v1h-1zM31 0h1v1h-1zM2 1h1v1h-1zM3 2h1v1h-1zM3 4h1v1h-1zM14 4h2v1h-2zM18 5h1v1h-1zM22 7h1v1h-1zM25 7h1v1h-1zM3 8h1v1h-1zM23 9h1v1h-1zM18 10h1v1h-1zM28 10h1v1h-1zM18 11h1v1h-1zM2 12h1v1h-1zM17 15h1v1h-1zM13 16h1v1h-1zM31 16h1v1h-1zM12 17h1v1h-1zM21 17h1v1h-1zM25 18h1v1h-1zM29 18h1v1h-1zM30 19h1v1h-1zM11 20h1v1h-1zM18 20h1v1h-1zM32 21h1v1h-1zM21 22h1v1h-1zM2 23h1v1h-1zM5 23h1v1h-1zM9 23h1v1h-1zM19 24h1v1h-1zM29 26h1v1h-1zM9 28h1v1h-1zM19 28h1v1h-1zM13 29h1v1h-1zM26 31h1v1h-1zM7 32h1v1h-1zM21 32h1v1h-1zM7 33h1v1h-1zM24 34h1v1h-1zM30 34h1v1h-1zM8 36h1v1h-1zM31 36h1v1h-1zM0 37h1v1h-1zM9 37h1v1h-1zM22 37h1v1h-1zM13 38h1v1h-1zM23 38h1v1h-1zM1 39h1v1h-1zM25 39h1v1h-1z"/>
<path fill="#ffffff" d="M13 1h1v1h-1zM10 5h1v1h-1zM31 6h1v1h-1zM4 11h1v1h-1zM31 11h1v1h-1zM24 14h1v1h-1zM14 15h1v1h-1zM18 17h1v1h-1zM13 18h1v1h-1zM31 18h1v1h-1zM18 19h1v1h-1zM15 21h1v1h-1zM29 21h1v1h-1zM4 28h1v1h-1zM32 31h1v1h-1zM31 34h1v1h-1zM24 35h1v1h-1zM31 35h1v1h-1zM1 36h1v1h-1zM12 37h1v1h-1z"/>
</g></g></g>
<g clip-path="url(#cp1)">
<g filter="url(#hb)"><g transform="translate(142,27.1) scale(1,8.96000)">
<rect x="-2" y="-2" width="37" height="44" fill="rgb(128,128,128)"/>
<path fill="#000000" d="M9 1h1v1h-1zM8 3h1v1h-1zM29 4h1v1h-1zM24 6h1v1h-1zM13 10h1v1h-1zM7 12h1v1h-1zM3 13h1v1h-1zM19 15h1v1h-1zM2 19h1v1h-1zM18 20h1v1h-1zM25 20h1v1h-1zM14 21h1v1h-1zM7 22h1v1h-1zM20 23h1v1h-1zM17 25h1v1h-1zM20 25h1v1h-1zM15 26h1v1h-1zM17 26h1v1h-1zM21 26h1v1h-1zM30 27h2v1h-2zM31 28h1v1h-1zM28 29h1v1h-1zM14 30h1v1h-1zM21 32h1v1h-1zM6 34h1v1h-1zM13 34h1v1h-1zM6 38h1v1h-1zM13 38h1v1h-1z"/>
<path fill="#040404" d="M6 0h1v1h-1zM20 0h1v1h-1zM15 1h1v1h-1zM3 4h1v1h-1zM16 5h1v1h-1zM23 6h1v1h-1zM2 7h1v1h-1zM20 8h1v1h-1zM15 9h1v1h-1zM11 10h1v1h-1zM26 12h1v1h-1zM28 17h1v1h-1zM29 18h1v1h-1zM20 20h1v1h-1zM12 22h1v1h-1zM30 23h1v1h-1zM30 26h1v1h-1zM7 27h1v1h-1zM15 30h1v1h-1zM18 31h1v1h-1zM7 35h1v1h-1zM16 35h1v1h-1zM29 35h1v1h-1zM9 37h1v1h-1zM23 37h1v1h-1zM8 38h1v1h-1zM11 38h1v1h-1z"/>
<path fill="#080808" d="M1 1h1v1h-1zM11 1h1v1h-1zM14 1h1v1h-1zM10 3h1v1h-1zM30 10h1v1h-1zM31 12h1v1h-1zM14 13h1v1h-1zM15 14h1v1h-1zM21 15h1v1h-1zM32 16h1v1h-1zM2 17h1v1h-1zM5 17h1v1h-1zM21 19h1v1h-1zM17 20h1v1h-1zM0 24h1v1h-1zM29 24h1v1h-1zM3 25h1v1h-1zM32 25h1v1h-1zM3 26h1v1h-1zM27 27h1v1h-1zM3 28h1v1h-1zM6 31h1v1h-1zM5 32h1v1h-1zM28 32h1v1h-1zM5 33h1v1h-1zM17 33h1v1h-1zM2 34h1v1h-1zM20 35h1v1h-1zM3 39h1v1h-1z"/>
<path fill="#0c0c0c" d="M2 0h1v1h-1zM26 1h1v1h-1zM11 3h1v1h-1zM26 3h1v1h-1zM29 5h1v1h-1zM31 5h1v1h-1zM14 10h1v1h-1zM19 16h1v1h-1zM25 17h1v1h-1zM2 18h1v1h-1zM5 18h1v1h-1zM9 20h1v1h-1zM10 21h1v1h-1zM20 21h1v1h-1zM3 22h1v1h-1zM11 22h1v1h-1zM21 22h1v1h-1zM5 23h1v1h-1zM10 24h1v1h-1zM8 29h1v1h-1zM32 29h1v1h-1z"/>
<path fill="#101010" d="M22 0h1v1h-1zM21 1h1v1h-1zM24 4h1v1h-1zM25 5h1v1h-1zM8 10h1v1h-1zM11 12h1v1h-1zM10 13h1v1h-1zM24 13h1v1h-1zM18 14h1v1h-1zM18 18h1v1h-1zM30 22h1v1h-1zM2 24h1v1h-1zM8 25h1v1h-1zM19 26h1v1h-1zM29 26h1v1h-1zM15 36h1v1h-1zM24 36h1v1h-1zM4 37h1v1h-1z"/>
<path fill="#141414" d="M22 2h1v1h-1zM24 2h1v1h-1zM16 3h1v1h-1zM26 8h1v1h-1zM17 9h1v1h-1zM23 18h1v1h-1zM25 18h1v1h-1zM32 18h1v1h-1zM24 20h1v1h-1zM15 22h1v1h-1zM28 23h1v1h-1zM11 29h1v1h-1zM26 29h1v1h-1zM27 32h1v1h-1zM23 33h1v1h-1zM25 33h1v1h-1zM31 33h1v1h-1zM18 34h1v1h-1zM22 35h1v1h-1zM17 36h1v1h-1zM16 37h1v1h-1z"/>
<path fill="#181818" d="M0 5h1v1h-1zM20 7h1v1h-1zM25 8h1v1h-1zM16 9h1v1h-1zM20 9h1v1h-1zM0 10h1v1h-1zM22 11h1v1h-1zM28 12h1v1h-1zM20 15h1v1h-1zM26 16h2v1h-2zM17 17h1v1h-1zM19 17h1v1h-1zM23 19h1v1h-1zM30 19h1v1h-1zM2 21h1v1h-1zM12 21h1v1h-1zM8 23h1v1h-1zM13 23h1v1h-1zM21 24h1v1h-1zM1 26h1v1h-1zM23 28h1v1h-1zM15 31h1v1h-1zM25 32h1v1h-1zM31 35h1v1h-1zM15 38h1v1h-1z"/>
<path fill="#1c1c1c" d="M9 5h1v1h-1zM15 6h1v1h-1zM4 7h1v1h-1zM11 9h1v1h-1zM6 12h1v1h-1zM23 12h1v1h-1zM15 13h1v1h-1zM17 14h1v1h-1zM25 15h1v1h-1zM29 17h1v1h-1zM6 19h1v1h-1zM19 19h1v1h-1zM26 19h1v1h-1zM21 21h1v1h-1zM2 22h1v1h-1zM4 25h1v1h-1zM24 26h1v1h-1zM18 27h1v1h-1zM27 29h1v1h-1zM22 33h1v1h-1zM10 36h2v1h-2zM18 37h1v1h-1z"/>
<path fill="#202020" d="M5 6h1v1h-1zM15 10h1v1h-1zM22 10h1v1h-1zM24 11h1v1h-1zM28 13h1v1h-1zM30 14h1v1h-1zM22 17h1v1h-1zM22 18h1v1h-1zM30 18h2v1h-2zM20 19h1v1h-1zM6 33h1v1h-1zM18 33h1v1h-1zM6 35h1v1h-1zM26 37h1v1h-1z"/>
<path fill="#242424" d="M15 0h1v1h-1zM25 0h1v1h-1zM20 2h1v1h-1zM3 3h1v1h-1zM5 7h1v1h-1zM5 8h1v1h-1zM26 10h1v1h-1zM14 16h1v1h-1zM23 16h1v1h-1zM21 17h1v1h-1zM11 20h1v1h-1zM25 21h1v1h-1zM2 25h1v1h-1zM6 26h1v1h-1zM10 28h1v1h-1zM23 29h1v1h-1zM23 32h1v1h-1zM8 34h1v1h-1zM27 35h1v1h-1zM31 36h1v1h-1zM14 37h1v1h-1zM5 39h1v1h-1z"/>
<path fill="#282828" d="M28 0h1v1h-1zM28 1h2v1h-2zM15 2h1v1h-1zM24 3h1v1h-1zM3 5h1v1h-1zM21 6h1v1h-1zM30 8h1v1h-1zM4 12h1v1h-1zM10 17h1v1h-1zM27 17h1v1h-1zM7 18h1v1h-1zM10 18h1v1h-1zM12 19h1v1h-1zM14 19h1v1h-1zM12 26h1v1h-1zM0 28h1v1h-1zM17 31h1v1h-1zM26 31h1v1h-1zM21 33h1v1h-1zM3 36h1v1h-1z"/>
<path fill="#2c2c2c" d="M21 0h1v1h-1zM19 2h1v1h-1zM32 4h1v1h-1zM26 6h1v1h-1zM21 9h1v1h-1zM26 9h1v1h-1zM32 9h1v1h-1zM15 12h1v1h-1zM25 12h1v1h-1zM6 15h1v1h-1zM17 16h1v1h-1zM20 18h1v1h-1zM14 20h1v1h-1zM11 21h1v1h-1zM23 27h1v1h-1zM11 28h1v1h-1zM16 28h1v1h-1zM12 32h1v1h-1zM10 34h1v1h-1zM1 37h1v1h-1zM3 37h1v1h-1zM1 38h1v1h-1z"/>
<path fill="#303030" d="M29 3h1v1h-1zM10 4h1v1h-1zM26 5h1v1h-1zM4 6h1v1h-1zM32 6h1v1h-1zM6 7h1v1h-1zM12 11h1v1h-1zM5 13h1v1h-1zM20 16h1v1h-1zM24 16h1v1h-1zM11 17h1v1h-1zM1 18h1v1h-1zM4 19h1v1h-1zM1 21h1v1h-1zM0 22h1v1h-1zM2 30h1v1h-1zM14 34h1v1h-1zM13 37h1v1h-1zM15 39h1v1h-1z"/>
<path fill="#343434" d="M30 0h1v1h-1zM12 5h1v1h-1zM1 6h1v1h-1zM3 6h1v1h-1zM8 7h1v1h-1zM12 7h1v1h-1zM23 11h1v1h-1zM25 14h1v1h-1zM13 16h1v1h-1zM29 16h1v1h-1zM6 18h1v1h-1zM4 26h1v1h-1zM3 29h1v1h-1zM11 31h1v1h-1zM11 33h1v1h-1zM27 33h1v1h-1zM19 34h1v1h-1zM9 35h2v1h-2z"/>
<path fill="#383838" d="M3 0h1v1h-1zM7 1h1v1h-1zM23 2h1v1h-1zM0 3h1v1h-1zM1 4h1v1h-1zM7 8h1v1h-1zM23 8h1v1h-1zM12 12h1v1h-1zM13 14h1v1h-1zM16 21h1v1h-1zM24 22h1v1h-1zM29 25h1v1h-1zM22 27h1v1h-1zM9 29h1v1h-1zM9 30h1v1h-1zM19 32h1v1h-1zM18 35h1v1h-1zM25 36h1v1h-1zM12 38h1v1h-1zM29 38h1v1h-1zM24 39h1v1h-1zM32 39h1v1h-1z"/>
<path fill="#3c3c3c" d="M6 1h1v1h-1zM2 5h1v1h-1zM28 6h1v1h-1zM12 8h1v1h-1zM17 8h1v1h-1zM22 9h1v1h-1zM0 11h1v1h-1zM25 11h1v1h-1zM20 14h1v1h-1zM22 20h1v1h-1zM6 21h1v1h-1zM17 24h1v1h-1zM19 28h1v1h-1zM10 29h1v1h-1zM32 30h1v1h-1zM1 31h1v1h-1zM20 32h1v1h-1zM0 34h2v1h-2zM5 34h1v1h-1zM24 35h1v1h-1zM20 37h1v1h-1zM31 38h1v1h-1zM1 39h1v1h-1z"/>
<path fill="#404040" d="M9 0h1v1h-1zM10 1h1v1h-1zM24 10h2v1h-2zM27 10h1v1h-1zM14 11h1v1h-1zM8 13h1v1h-1zM13 18h1v1h-1zM9 19h1v1h-1zM19 24h1v1h-1zM22 26h1v1h-1zM6 29h1v1h-1zM25 29h1v1h-1zM18 32h1v1h-1zM29 32h1v1h-1zM6 37h1v1h-1zM18 39h1v1h-1z"/>
<path fill="#444444" d="M23 0h1v1h-1zM0 2h1v1h-1zM31 4h1v1h-1zM21 5h1v1h-1zM13 6h1v1h-1zM30 9h1v1h-1zM5 10h1v1h-1zM19 13h1v1h-1zM22 15h1v1h-1zM24 17h1v1h-1zM0 18h1v1h-1zM15 18h1v1h-1zM29 19h1v1h-1zM7 20h1v1h-1zM32 23h1v1h-1zM29 28h1v1h-1zM3 33h1v1h-1zM13 35h1v1h-1zM1 36h1v1h-1zM22 37h1v1h-1zM24 38h1v1h-1z"/>
<path fill="#484848" d="M2 1h1v1h-1zM13 1h1v1h-1zM17 3h1v1h-1zM2 6h1v1h-1zM0 9h1v1h-1zM7 11h1v1h-1zM0 12h1v1h-1zM7 13h1v1h-1zM21 13h1v1h-1zM8 16h1v1h-1zM11 18h1v1h-1zM29 21h1v1h-1zM16 25h1v1h-1zM13 27h1v1h-1zM5 30h1v1h-1zM14 32h1v1h-1zM2 36h1v1h-1zM32 36h1v1h-1z"/>
<path fill="#4c4c4c" d="M17 0h1v1h-1zM10 5h1v1h-1zM10 10h1v1h-1zM26 11h1v1h-1zM21 12h1v1h-1zM0 15h1v1h-1zM22 16h1v1h-1zM0 21h1v1h-1zM15 21h1v1h-1zM5 27h2v1h-2zM20 27h1v1h-1zM25 27h1v1h-1zM1 30h1v1h-1zM31 30h1v1h-1zM7 33h1v1h-1zM21 35h1v1h-1zM7 36h1v1h-1zM0 38h1v1h-1zM2 38h1v1h-1zM23 38h1v1h-1z"/>
<path fill="#505050" d="M27 1h1v1h-1zM2 2h1v1h-1zM14 3h1v1h-1zM13 4h1v1h-1zM20 6h1v1h-1zM15 7h1v1h-1zM25 7h1v1h-1zM29 7h1v1h-1zM19 11h1v1h-1zM13 13h1v1h-1zM7 15h1v1h-1zM23 15h1v1h-1zM3 16h1v1h-1zM8 17h1v1h-1zM16 17h1v1h-1zM12 18h1v1h-1zM5 20h1v1h-1zM32 21h1v1h-1zM16 24h1v1h-1zM26 25h1v1h-1zM28 25h1v1h-1zM10 26h1v1h-1zM23 31h1v1h-1zM8 33h1v1h-1zM0 35h1v1h-1zM13 39h1v1h-1z"/>
<path fill="#545454" d="M22 1h1v1h-1zM1 2h1v1h-1zM27 13h1v1h-1zM12 15h1v1h-1zM11 16h2v1h-2zM28 26h1v1h-1zM22 31h1v1h-1zM30 36h1v1h-1zM0 39h1v1h-1zM9 39h1v1h-1z"/>
<path fill="#585858" d="M18 0h1v1h-1zM24 0h1v1h-1zM22 3h1v1h-1zM29 6h1v1h-1zM23 7h1v1h-1zM29 8h1v1h-1zM32 8h1v1h-1zM22 14h1v1h-1zM24 14h1v1h-1zM17 15h1v1h-1zM4 16h1v1h-1zM30 16h1v1h-1zM8 18h1v1h-1zM25 19h1v1h-1zM18 21h1v1h-1zM32 24h1v1h-1zM9 26h1v1h-1zM12 30h1v1h-1zM8 31h1v1h-1zM32 33h1v1h-1zM9 34h1v1h-1zM12 35h1v1h-1zM23 35h1v1h-1z"/>
<path fill="#5c5c5c" d="M18 3h1v1h-1zM11 4h1v1h-1zM6 8h1v1h-1zM24 8h1v1h-1zM4 9h1v1h-1zM18 12h1v1h-1zM25 16h1v1h-1zM7 21h1v1h-1zM16 26h1v1h-1zM21 27h1v1h-1zM17 29h1v1h-1zM10 32h1v1h-1zM25 34h1v1h-1zM12 37h1v1h-1z"/>
<path fill="#606060" d="M1 0h1v1h-1zM17 1h1v1h-1zM28 5h1v1h-1zM18 8h1v1h-1zM9 12h1v1h-1zM28 14h1v1h-1zM32 14h1v1h-1zM5 15h1v1h-1zM8 15h1v1h-1zM11 19h1v1h-1zM17 23h1v1h-1zM31 23h1v1h-1zM23 25h1v1h-1zM32 26h1v1h-1zM8 32h1v1h-1zM9 33h1v1h-1zM19 38h1v1h-1z"/>
<path fill="#646464" d="M16 2h1v1h-1zM25 4h1v1h-1zM28 4h1v1h-1zM5 5h1v1h-1zM18 5h1v1h-1zM14 6h1v1h-1zM12 10h1v1h-1zM13 11h1v1h-1zM20 11h1v1h-1zM16 13h1v1h-1zM32 20h1v1h-1zM28 21h1v1h-1zM5 25h1v1h-1zM21 28h1v1h-1zM5 29h1v1h-1zM14 35h1v1h-1z"/>
<path fill="#686868" d="M25 6h1v1h-1zM2 8h1v1h-1zM10 11h1v1h-1zM5 14h1v1h-1zM1 15h1v1h-1zM28 19h1v1h-1zM5 21h1v1h-1zM30 21h1v1h-1zM32 22h1v1h-1zM31 32h1v1h-1zM28 38h1v1h-1zM23 39h1v1h-1z"/>
<path fill="#6c6c6c" d="M11 0h1v1h-1zM31 1h1v1h-1zM5 4h1v1h-1zM21 18h1v1h-1zM8 19h1v1h-1zM9 21h1v1h-1zM31 22h1v1h-1zM18 26h1v1h-1zM24 27h1v1h-1zM23 34h1v1h-1zM4 35h1v1h-1zM5 36h1v1h-1zM8 36h1v1h-1z"/>
<path fill="#707070" d="M10 0h1v1h-1zM7 3h1v1h-1zM12 3h1v1h-1zM15 3h1v1h-1zM11 5h1v1h-1zM29 9h1v1h-1zM18 10h1v1h-1zM11 13h1v1h-1zM0 16h1v1h-1zM28 16h1v1h-1zM26 17h1v1h-1zM25 23h1v1h-1zM29 23h1v1h-1zM12 25h1v1h-1zM19 25h1v1h-1zM1 33h1v1h-1zM32 35h1v1h-1z"/>
<path fill="#747474" d="M14 2h1v1h-1zM16 6h1v1h-1zM18 6h1v1h-1zM10 9h1v1h-1zM31 14h1v1h-1zM21 16h1v1h-1zM6 17h1v1h-1zM4 18h1v1h-1zM19 20h1v1h-1zM30 20h1v1h-1zM17 21h1v1h-1zM27 22h1v1h-1zM31 25h1v1h-1zM22 28h1v1h-1zM31 29h1v1h-1zM14 31h1v1h-1zM28 31h1v1h-1zM14 33h1v1h-1zM11 34h1v1h-1zM19 35h1v1h-1zM21 36h1v1h-1zM26 36h1v1h-1zM2 37h1v1h-1zM7 38h1v1h-1z"/>
<path fill="#787878" d="M12 1h1v1h-1zM7 4h1v1h-1zM10 6h1v1h-1zM16 12h1v1h-1zM2 14h1v1h-1zM14 14h1v1h-1zM15 15h1v1h-1zM20 22h1v1h-1zM25 24h1v1h-1zM8 27h1v1h-1zM7 30h1v1h-1zM10 30h1v1h-1zM31 31h1v1h-1zM4 32h1v1h-1zM24 37h1v1h-1zM9 38h1v1h-1z"/>
<path fill="#7c7c7c" d="M9 4h1v1h-1zM12 4h1v1h-1zM8 8h1v1h-1zM28 9h1v1h-1zM4 10h1v1h-1zM23 10h1v1h-1zM29 10h1v1h-1zM27 19h1v1h-1zM20 24h1v1h-1zM25 26h1v1h-1zM32 27h1v1h-1zM7 29h1v1h-1zM8 30h1v1h-1z"/>
<path fill="#848484" d="M0 6h1v1h-1zM3 7h1v1h-1zM10 20h1v1h-1zM17 22h1v1h-1zM18 24h1v1h-1zM29 27h1v1h-1zM6 28h1v1h-1zM30 30h1v1h-1zM0 36h1v1h-1zM12 39h1v1h-1zM14 39h1v1h-1z"/>
<path fill="#888888" d="M4 2h1v1h-1zM19 3h1v1h-1zM22 8h1v1h-1zM9 15h1v1h-1zM27 15h1v1h-1zM15 17h1v1h-1zM14 18h1v1h-1zM0 19h1v1h-1zM29 20h1v1h-1zM4 21h1v1h-1zM23 21h1v1h-1zM4 27h1v1h-1zM8 28h1v1h-1zM20 29h1v1h-1zM30 31h1v1h-1zM16 32h1v1h-1zM13 33h1v1h-1zM28 36h1v1h-1zM4 38h1v1h-1zM22 39h1v1h-1z"/>
<path fill="#8c8c8c" d="M32 1h1v1h-1zM21 4h1v1h-1zM21 7h1v1h-1zM7 10h1v1h-1zM27 12h1v1h-1zM17 13h1v1h-1zM1 14h1v1h-1zM6 14h1v1h-1zM13 19h1v1h-1zM26 20h1v1h-1zM4 22h1v1h-1zM9 24h1v1h-1zM23 24h1v1h-1zM10 25h1v1h-1zM2 26h1v1h-1zM13 26h1v1h-1zM9 32h1v1h-1zM31 34h1v1h-1zM8 35h1v1h-1zM5 38h1v1h-1z"/>
<path fill="#909090" d="M32 5h1v1h-1zM14 7h1v1h-1zM21 8h1v1h-1zM25 13h1v1h-1zM9 14h1v1h-1zM18 15h1v1h-1zM4 20h1v1h-1zM12 20h1v1h-1zM15 20h2v1h-2zM5 22h1v1h-1zM18 23h1v1h-1zM7 26h1v1h-1zM9 27h1v1h-1zM1 28h1v1h-1zM14 28h1v1h-1zM30 29h1v1h-1zM22 30h1v1h-1zM3 34h1v1h-1zM21 39h1v1h-1z"/>
<path fill="#949494" d="M1 7h1v1h-1zM22 7h1v1h-1zM27 9h1v1h-1zM9 10h1v1h-1zM8 12h1v1h-1zM22 12h1v1h-1zM14 17h1v1h-1zM3 20h1v1h-1zM15 35h1v1h-1zM12 36h1v1h-1z"/>
<path fill="#989898" d="M6 2h1v1h-1zM18 7h1v1h-1zM14 9h1v1h-1zM18 9h1v1h-1zM1 10h1v1h-1zM29 12h1v1h-1zM3 14h1v1h-1zM7 14h1v1h-1zM2 15h1v1h-1zM27 20h1v1h-1zM11 23h1v1h-1zM6 24h1v1h-1zM7 25h1v1h-1zM5 26h1v1h-1zM0 27h2v1h-2zM12 28h1v1h-1zM18 28h1v1h-1zM21 29h1v1h-1zM26 30h1v1h-1zM12 31h1v1h-1zM29 39h1v1h-1z"/>
<path fill="#9c9c9c" d="M29 2h1v1h-1zM4 5h1v1h-1zM19 9h1v1h-1zM14 15h1v1h-1zM32 15h1v1h-1zM6 16h1v1h-1zM19 18h1v1h-1zM22 21h1v1h-1zM14 23h1v1h-1zM22 23h1v1h-1zM25 28h1v1h-1zM18 30h1v1h-1zM24 30h1v1h-1zM11 32h1v1h-1zM15 32h1v1h-1zM22 36h1v1h-1zM5 37h1v1h-1zM7 37h1v1h-1zM27 39h1v1h-1z"/>
<path fill="#a0a0a0" d="M27 0h1v1h-1zM29 0h1v1h-1zM4 1h1v1h-1zM4 4h1v1h-1zM7 7h1v1h-1zM32 7h1v1h-1zM1 12h1v1h-1zM13 12h1v1h-1zM31 13h1v1h-1zM28 15h1v1h-1zM1 17h1v1h-1zM2 27h1v1h-1zM1 29h1v1h-1zM29 29h1v1h-1zM13 30h1v1h-1zM32 32h1v1h-1zM16 33h1v1h-1zM20 33h1v1h-1zM28 33h1v1h-1zM19 37h1v1h-1z"/>
<path fill="#a4a4a4" d="M0 0h1v1h-1zM7 0h1v1h-1zM2 3h1v1h-1zM16 4h1v1h-1zM26 4h1v1h-1zM23 5h1v1h-1zM26 7h1v1h-1zM14 12h1v1h-1zM30 13h1v1h-1zM10 14h1v1h-1zM16 14h1v1h-1zM11 15h1v1h-1zM31 15h1v1h-1zM30 17h1v1h-1zM16 23h1v1h-1zM24 23h1v1h-1zM28 24h1v1h-1zM26 26h1v1h-1zM12 27h1v1h-1zM19 27h1v1h-1zM28 30h1v1h-1zM10 37h1v1h-1zM10 38h1v1h-1zM17 38h1v1h-1z"/>
<path fill="#a8a8a8" d="M4 0h1v1h-1zM8 2h1v1h-1zM18 4h1v1h-1zM17 6h1v1h-1zM24 7h1v1h-1zM5 11h1v1h-1zM29 14h1v1h-1zM30 15h1v1h-1zM5 19h1v1h-1zM5 24h1v1h-1zM6 25h1v1h-1zM30 28h1v1h-1zM18 29h1v1h-1zM16 30h1v1h-1zM30 32h1v1h-1zM29 34h1v1h-1zM4 39h1v1h-1zM7 39h1v1h-1zM25 39h1v1h-1z"/>
<path fill="#acacac" d="M6 5h1v1h-1zM9 9h1v1h-1zM3 18h1v1h-1zM9 18h1v1h-1zM27 25h1v1h-1zM11 26h1v1h-1zM17 34h1v1h-1zM9 36h1v1h-1zM18 36h1v1h-1z"/>
<path fill="#b0b0b0" d="M25 1h1v1h-1zM14 4h1v1h-1zM19 4h1v1h-1zM30 4h1v1h-1zM10 12h1v1h-1zM20 13h1v1h-1zM16 18h1v1h-1zM25 22h1v1h-1zM28 22h1v1h-1zM1 23h1v1h-1zM8 24h1v1h-1zM27 24h1v1h-1zM18 25h1v1h-1zM25 25h1v1h-1zM3 27h1v1h-1zM24 32h1v1h-1zM16 36h1v1h-1zM16 39h1v1h-1z"/>
<path fill="#b4b4b4" d="M31 0h1v1h-1zM27 4h1v1h-1zM10 7h1v1h-1zM28 7h1v1h-1zM15 8h1v1h-1zM28 10h1v1h-1zM18 11h1v1h-1zM24 12h1v1h-1zM16 15h1v1h-1zM8 21h1v1h-1zM19 23h1v1h-1zM23 23h1v1h-1zM3 24h1v1h-1zM31 24h1v1h-1zM21 25h1v1h-1zM21 34h1v1h-1zM4 36h1v1h-1zM20 36h1v1h-1zM10 39h1v1h-1z"/>
<path fill="#b8b8b8" d="M23 3h1v1h-1zM30 5h1v1h-1zM21 11h1v1h-1zM2 13h1v1h-1zM13 15h1v1h-1zM18 16h1v1h-1zM32 17h1v1h-1zM26 21h1v1h-1zM26 27h1v1h-1zM17 28h1v1h-1zM0 30h1v1h-1zM32 31h1v1h-1zM21 38h1v1h-1zM6 39h1v1h-1z"/>
<path fill="#bcbcbc" d="M14 0h1v1h-1zM5 2h1v1h-1zM27 3h1v1h-1zM17 5h1v1h-1zM11 6h1v1h-1zM31 7h1v1h-1zM25 9h1v1h-1zM1 16h1v1h-1zM31 19h1v1h-1zM13 21h1v1h-1zM2 23h1v1h-1zM0 25h1v1h-1zM14 25h1v1h-1zM10 27h1v1h-1zM4 28h1v1h-1zM28 28h1v1h-1zM3 30h1v1h-1zM4 33h1v1h-1zM24 33h1v1h-1zM24 34h1v1h-1zM27 34h1v1h-1zM26 39h1v1h-1zM28 39h1v1h-1z"/>
<path fill="#c0c0c0" d="M16 0h1v1h-1zM11 2h1v1h-1zM0 4h1v1h-1zM19 5h1v1h-1zM4 8h1v1h-1zM32 12h1v1h-1zM9 13h1v1h-1zM27 14h1v1h-1zM10 16h1v1h-1zM15 16h1v1h-1zM31 21h1v1h-1zM12 23h1v1h-1zM22 25h1v1h-1zM7 31h1v1h-1zM30 38h1v1h-1zM31 39h1v1h-1z"/>
<path fill="#c4c4c4" d="M19 0h1v1h-1zM0 1h1v1h-1zM31 3h1v1h-1zM2 4h1v1h-1zM8 5h1v1h-1zM9 6h1v1h-1zM16 7h1v1h-1zM9 8h1v1h-1zM27 8h1v1h-1zM11 14h1v1h-1zM26 15h1v1h-1zM9 16h1v1h-1zM10 19h1v1h-1zM30 24h1v1h-1zM11 25h1v1h-1zM26 28h1v1h-1zM19 31h1v1h-1zM2 32h1v1h-1zM2 35h2v1h-2zM28 37h1v1h-1z"/>
<path fill="#c8c8c8" d="M32 0h1v1h-1zM13 3h1v1h-1zM32 3h1v1h-1zM1 5h1v1h-1zM20 5h1v1h-1zM11 7h1v1h-1zM10 8h1v1h-1zM16 8h1v1h-1zM19 8h1v1h-1zM32 10h1v1h-1zM4 13h1v1h-1zM3 19h1v1h-1zM15 19h1v1h-1zM19 22h1v1h-1zM26 24h1v1h-1zM0 26h1v1h-1zM15 28h1v1h-1zM21 30h1v1h-1zM16 31h1v1h-1zM1 35h1v1h-1zM23 36h1v1h-1zM14 38h1v1h-1zM26 38h1v1h-1zM32 38h1v1h-1z"/>
<path fill="#cccccc" d="M20 1h1v1h-1zM12 2h1v1h-1zM17 2h1v1h-1zM20 4h1v1h-1zM8 6h1v1h-1zM4 14h1v1h-1zM4 17h1v1h-1zM31 17h1v1h-1zM21 20h1v1h-1zM4 23h1v1h-1zM24 24h1v1h-1zM4 30h1v1h-1zM11 30h1v1h-1zM9 31h1v1h-1zM29 33h1v1h-1zM22 34h1v1h-1zM28 34h1v1h-1z"/>
<path fill="#d0d0d0" d="M13 0h1v1h-1zM5 1h1v1h-1zM23 1h1v1h-1zM6 4h1v1h-1zM13 7h1v1h-1zM3 8h1v1h-1zM31 9h1v1h-1zM1 11h1v1h-1zM30 11h1v1h-1zM2 12h1v1h-1zM23 17h1v1h-1zM28 18h1v1h-1zM18 19h1v1h-1zM24 19h1v1h-1zM32 19h1v1h-1zM26 23h1v1h-1zM14 24h1v1h-1zM13 25h1v1h-1zM11 27h1v1h-1zM24 28h1v1h-1zM0 31h1v1h-1zM13 32h1v1h-1zM26 32h1v1h-1zM30 33h1v1h-1zM30 34h1v1h-1zM32 34h1v1h-1zM20 38h1v1h-1zM30 39h1v1h-1z"/>
<path fill="#d4d4d4" d="M15 4h1v1h-1zM13 8h1v1h-1zM6 9h1v1h-1zM13 9h1v1h-1zM19 12h1v1h-1zM12 13h1v1h-1zM0 14h1v1h-1zM31 16h1v1h-1zM17 18h1v1h-1zM0 23h1v1h-1zM7 24h1v1h-1zM15 27h1v1h-1zM7 28h1v1h-1zM4 29h1v1h-1zM15 29h1v1h-1zM27 30h1v1h-1zM4 31h2v1h-2zM2 33h1v1h-1zM12 33h1v1h-1zM16 38h1v1h-1z"/>
<path fill="#d8d8d8" d="M7 2h1v1h-1zM10 2h1v1h-1zM25 2h1v1h-1zM30 2h1v1h-1zM27 7h1v1h-1zM1 9h2v1h-2zM23 9h1v1h-1zM20 10h1v1h-1zM21 14h1v1h-1zM7 17h1v1h-1zM16 19h2v1h-2zM18 22h1v1h-1zM22 29h1v1h-1zM17 32h1v1h-1z"/>
<path fill="#dcdcdc" d="M5 0h1v1h-1zM3 1h1v1h-1zM5 3h1v1h-1zM17 4h1v1h-1zM13 5h2v1h-2zM24 5h1v1h-1zM8 9h1v1h-1zM3 10h1v1h-1zM6 10h1v1h-1zM18 13h1v1h-1zM0 17h1v1h-1zM24 18h1v1h-1zM28 20h1v1h-1zM8 22h1v1h-1zM22 22h1v1h-1zM26 22h1v1h-1zM7 23h1v1h-1zM15 24h1v1h-1zM24 25h1v1h-1zM20 28h1v1h-1zM6 30h1v1h-1zM23 30h1v1h-1zM6 36h1v1h-1zM14 36h1v1h-1zM11 37h1v1h-1z"/>
<path fill="#e0e0e0" d="M16 1h1v1h-1zM27 2h1v1h-1zM32 2h1v1h-1zM21 3h1v1h-1zM22 5h1v1h-1zM3 11h1v1h-1zM6 13h1v1h-1zM9 17h1v1h-1zM13 17h1v1h-1zM6 20h1v1h-1zM8 20h1v1h-1zM13 24h1v1h-1zM14 27h1v1h-1zM5 28h1v1h-1zM12 34h1v1h-1zM21 37h1v1h-1zM32 37h1v1h-1z"/>
<path fill="#e4e4e4" d="M28 2h1v1h-1zM17 7h1v1h-1zM19 10h1v1h-1zM31 10h1v1h-1zM28 11h1v1h-1zM20 12h1v1h-1zM32 13h1v1h-1zM0 20h1v1h-1zM16 22h1v1h-1zM1 25h1v1h-1zM14 29h1v1h-1zM16 29h1v1h-1zM19 29h1v1h-1zM3 31h1v1h-1zM27 31h1v1h-1zM15 33h1v1h-1zM26 33h1v1h-1zM26 35h1v1h-1zM27 37h1v1h-1zM22 38h1v1h-1zM25 38h1v1h-1z"/>
<path fill="#e8e8e8" d="M30 1h1v1h-1zM4 3h1v1h-1zM7 9h1v1h-1zM12 9h1v1h-1zM17 12h1v1h-1zM8 14h1v1h-1zM26 14h1v1h-1zM3 15h1v1h-1zM10 15h1v1h-1zM7 16h1v1h-1zM27 18h1v1h-1zM1 22h1v1h-1zM9 22h1v1h-1zM21 23h1v1h-1zM20 26h1v1h-1zM12 29h1v1h-1zM25 30h1v1h-1zM20 31h2v1h-2zM0 32h1v1h-1zM20 34h1v1h-1zM28 35h1v1h-1zM3 38h1v1h-1zM27 38h1v1h-1z"/>
<path fill="#ececec" d="M30 6h1v1h-1zM11 8h1v1h-1zM17 11h1v1h-1zM32 11h1v1h-1zM26 13h1v1h-1zM29 13h1v1h-1zM29 15h1v1h-1zM7 19h1v1h-1zM31 20h1v1h-1zM29 22h1v1h-1zM15 23h1v1h-1zM4 24h1v1h-1zM30 25h1v1h-1zM8 26h1v1h-1zM24 31h1v1h-1zM5 35h1v1h-1zM11 35h1v1h-1zM25 35h1v1h-1zM30 35h1v1h-1zM29 36h1v1h-1zM15 37h1v1h-1zM17 37h1v1h-1z"/>
<path fill="#f0f0f0" d="M18 1h1v1h-1zM9 2h1v1h-1zM13 2h1v1h-1zM26 2h1v1h-1zM31 2h1v1h-1zM27 5h1v1h-1zM12 6h1v1h-1zM0 7h1v1h-1zM0 8h2v1h-2zM28 8h1v1h-1zM2 10h1v1h-1zM3 12h1v1h-1zM5 12h1v1h-1zM0 13h1v1h-1zM19 14h1v1h-1zM26 18h1v1h-1zM13 22h1v1h-1zM23 22h1v1h-1zM3 23h1v1h-1zM9 23h1v1h-1zM15 25h1v1h-1zM9 28h1v1h-1zM2 29h1v1h-1zM13 29h1v1h-1zM1 32h1v1h-1zM7 32h1v1h-1zM7 34h1v1h-1zM26 34h1v1h-1z"/>
<path fill="#f4f4f4" d="M8 0h1v1h-1zM3 2h1v1h-1zM28 3h1v1h-1zM30 3h1v1h-1zM22 4h2v1h-2zM7 6h1v1h-1zM9 7h1v1h-1zM30 7h1v1h-1zM17 10h1v1h-1zM27 11h1v1h-1zM22 13h1v1h-1zM1 20h1v1h-1zM10 22h1v1h-1zM11 24h1v1h-1zM14 26h1v1h-1zM32 28h1v1h-1zM2 31h1v1h-1zM10 31h1v1h-1zM27 36h1v1h-1zM0 37h1v1h-1zM2 39h1v1h-1z"/>
<path fill="#f8f8f8" d="M26 0h1v1h-1zM19 1h1v1h-1zM18 2h1v1h-1zM1 3h1v1h-1zM8 4h1v1h-1zM7 5h1v1h-1zM31 8h1v1h-1zM5 9h1v1h-1zM6 11h1v1h-1zM11 11h1v1h-1zM15 11h2v1h-2zM29 11h1v1h-1zM2 16h1v1h-1zM16 16h1v1h-1zM18 17h1v1h-1zM22 19h1v1h-1zM24 21h1v1h-1zM12 24h1v1h-1zM23 26h1v1h-1zM28 27h1v1h-1zM19 30h1v1h-1zM13 31h1v1h-1zM3 32h1v1h-1zM22 32h1v1h-1zM0 33h1v1h-1zM19 33h1v1h-1zM16 34h1v1h-1zM17 35h1v1h-1zM13 36h1v1h-1zM31 37h1v1h-1zM18 38h1v1h-1zM8 39h1v1h-1zM11 39h1v1h-1zM19 39h1v1h-1z"/>
<path fill="#fcfcfc" d="M8 1h1v1h-1zM24 1h1v1h-1zM6 3h1v1h-1zM9 3h1v1h-1zM15 5h1v1h-1zM6 6h1v1h-1zM19 6h1v1h-1zM22 6h1v1h-1zM27 6h1v1h-1zM31 6h1v1h-1zM19 7h1v1h-1zM21 10h1v1h-1zM2 11h1v1h-1zM8 11h1v1h-1zM31 11h1v1h-1zM30 12h1v1h-1zM1 13h1v1h-1zM12 14h1v1h-1zM24 15h1v1h-1zM5 16h1v1h-1zM20 17h1v1h-1zM1 19h1v1h-1zM2 20h1v1h-1zM13 20h1v1h-1zM3 21h1v1h-1zM19 21h1v1h-1zM27 21h1v1h-1zM6 22h1v1h-1zM14 22h1v1h-1zM27 23h1v1h-1zM9 25h1v1h-1zM27 26h1v1h-1zM16 27h2v1h-2zM2 28h1v1h-1zM13 28h1v1h-1zM0 29h1v1h-1zM25 31h1v1h-1zM29 31h1v1h-1zM10 33h1v1h-1zM4 34h1v1h-1zM15 34h1v1h-1zM8 37h1v1h-1zM25 37h1v1h-1zM29 37h1v1h-1zM17 39h1v1h-1z"/>
<path fill="#ffffff" d="M12 0h1v1h-1zM20 3h1v1h-1zM25 3h1v1h-1zM23 13h1v1h-1zM22 24h1v1h-1z"/>
</g></g></g>
<g clip-path="url(#cp2)">
<g filter="url(#hb)"><g transform="translate(224,27.1) scale(1,8.96000)">
<rect x="-2" y="-2" width="37" height="44" fill="rgb(76,76,76)"/>
<path fill="#000000" d="M9 0h1v1h-1zM32 0h1v1h-1zM21 1h1v1h-1zM27 1h1v1h-1zM4 2h1v1h-1zM8 2h1v1h-1zM4 3h1v1h-1zM6 3h1v1h-1zM19 3h1v1h-1zM0 4h1v1h-1zM9 4h1v1h-1zM7 6h1v1h-1zM27 6h1v1h-1zM2 7h1v1h-1zM6 7h1v1h-1zM10 7h1v1h-1zM14 7h1v1h-1zM18 7h1v1h-1zM16 8h1v1h-1zM23 8h1v1h-1zM8 9h1v1h-1zM28 10h1v1h-1zM30 10h1v1h-1zM18 11h1v1h-1zM2 12h1v1h-1zM12 12h1v1h-1zM17 12h1v1h-1zM27 12h1v1h-1zM10 13h1v1h-1zM3 14h1v1h-1zM8 14h1v1h-1zM16 14h1v1h-1zM22 14h2v1h-2zM30 15h1v1h-1zM7 16h1v1h-1zM11 16h1v1h-1zM26 16h1v1h-1zM32 16h1v1h-1zM3 17h1v1h-1zM3 18h1v1h-1zM12 18h1v1h-1zM5 21h1v1h-1zM6 22h1v1h-1zM13 22h1v1h-1zM27 22h1v1h-1zM12 23h1v1h-1zM24 23h1v1h-1zM26 23h1v1h-1zM30 23h1v1h-1zM0 24h1v1h-1zM5 24h1v1h-1zM8 25h1v1h-1zM4 26h1v1h-1zM7 26h1v1h-1zM21 26h1v1h-1zM14 27h1v1h-1zM32 27h1v1h-1zM4 28h2v1h-2zM8 28h1v1h-1zM23 28h1v1h-1zM4 29h1v1h-1zM25 29h1v1h-1zM15 30h1v1h-1zM27 30h1v1h-1zM30 31h1v1h-1zM6 32h1v1h-1zM31 32h1v1h-1zM17 34h1v1h-1zM22 34h1v1h-1zM15 35h1v1h-1zM21 35h1v1h-1zM12 36h1v1h-1zM16 37h1v1h-1zM22 37h1v1h-1zM15 38h1v1h-1zM25 38h2v1h-2zM21 39h1v1h-1z"/>
<path fill="#040404" d="M18 2h1v1h-1zM23 2h1v1h-1zM15 3h1v1h-1zM21 4h1v1h-1zM2 5h1v1h-1zM4 5h1v1h-1zM9 5h1v1h-1zM14 5h1v1h-1zM17 5h1v1h-1zM9 6h1v1h-1zM15 6h1v1h-1zM4 7h2v1h-2zM8 7h1v1h-1zM15 7h1v1h-1zM25 7h1v1h-1zM0 8h1v1h-1zM14 8h1v1h-1zM31 8h1v1h-1zM16 9h1v1h-1zM15 10h1v1h-1zM31 10h1v1h-1zM20 12h1v1h-1zM25 12h1v1h-1zM6 14h1v1h-1zM32 14h1v1h-1zM15 17h1v1h-1zM18 17h1v1h-1zM25 17h1v1h-1zM5 18h1v1h-1zM17 18h1v1h-1zM21 18h1v1h-1zM4 19h1v1h-1zM22 19h1v1h-1zM18 20h1v1h-1zM23 20h1v1h-1zM25 20h2v1h-2zM7 21h1v1h-1zM15 21h1v1h-1zM11 22h1v1h-1zM9 23h1v1h-1zM23 23h1v1h-1zM9 24h1v1h-1zM6 26h1v1h-1zM15 26h1v1h-1zM7 30h1v1h-1zM21 30h1v1h-1zM8 33h1v1h-1zM18 34h1v1h-1zM13 36h1v1h-1zM25 36h2v1h-2zM21 37h1v1h-1zM27 37h1v1h-1zM6 38h1v1h-1zM14 38h1v1h-1zM17 38h1v1h-1zM9 39h1v1h-1zM23 39h1v1h-1zM27 39h1v1h-1zM32 39h1v1h-1z"/>
<path fill="#080808" d="M21 0h1v1h-1zM18 1h1v1h-1zM13 2h1v1h-1zM19 6h1v1h-1zM28 7h1v1h-1zM7 10h1v1h-1zM26 12h1v1h-1zM17 13h1v1h-1zM9 16h1v1h-1zM31 17h1v1h-1zM0 18h1v1h-1zM2 18h1v1h-1zM10 21h1v1h-1zM25 23h1v1h-1zM28 23h1v1h-1zM27 24h1v1h-1zM17 26h1v1h-1zM24 26h1v1h-1zM13 28h1v1h-1zM24 28h1v1h-1zM31 28h1v1h-1zM5 30h2v1h-2zM10 30h1v1h-1zM16 30h1v1h-1zM18 30h1v1h-1zM0 33h1v1h-1zM26 33h1v1h-1zM9 35h1v1h-1zM26 35h1v1h-1zM21 36h1v1h-1zM2 38h1v1h-1zM13 38h1v1h-1z"/>
<path fill="#0c0c0c" d="M5 1h1v1h-1zM25 1h1v1h-1zM31 3h1v1h-1zM17 4h1v1h-1zM29 4h1v1h-1zM12 5h1v1h-1zM23 7h1v1h-1zM18 9h1v1h-1zM0 11h1v1h-1zM26 14h1v1h-1zM5 19h1v1h-1zM12 20h1v1h-1zM15 20h1v1h-1zM20 23h1v1h-1zM27 23h1v1h-1zM32 23h1v1h-1zM20 24h1v1h-1zM26 24h1v1h-1zM6 25h1v1h-1zM9 25h1v1h-1zM7 27h1v1h-1zM20 27h1v1h-1zM12 28h1v1h-1zM13 30h1v1h-1zM16 32h1v1h-1zM29 32h1v1h-1zM15 36h1v1h-1zM28 36h1v1h-1zM13 37h1v1h-1zM29 37h1v1h-1z"/>
<path fill="#101010" d="M14 0h1v1h-1zM30 2h1v1h-1zM0 3h1v1h-1zM29 3h1v1h-1zM0 5h1v1h-1zM20 7h1v1h-1zM7 8h1v1h-1zM9 8h1v1h-1zM19 8h1v1h-1zM27 8h1v1h-1zM2 9h1v1h-1zM15 9h1v1h-1zM5 11h1v1h-1zM24 11h1v1h-1zM0 12h1v1h-1zM6 15h1v1h-1zM25 15h1v1h-1zM24 16h1v1h-1zM22 17h1v1h-1zM30 17h1v1h-1zM13 18h1v1h-1zM18 18h1v1h-1zM20 18h1v1h-1zM2 20h2v1h-2zM20 20h1v1h-1zM16 21h1v1h-1zM28 21h1v1h-1zM10 22h1v1h-1zM10 23h1v1h-1zM14 24h1v1h-1zM26 26h1v1h-1zM17 27h1v1h-1zM6 29h1v1h-1zM3 30h1v1h-1zM0 31h1v1h-1zM19 32h1v1h-1zM11 33h1v1h-1zM25 33h1v1h-1zM23 35h1v1h-1zM9 37h1v1h-1zM15 39h2v1h-2z"/>
<path fill="#141414" d="M6 0h1v1h-1zM2 1h1v1h-1zM10 2h1v1h-1zM25 4h1v1h-1zM31 4h1v1h-1zM11 5h1v1h-1zM3 6h1v1h-1zM12 8h1v1h-1zM12 9h1v1h-1zM16 12h1v1h-1zM3 13h1v1h-1zM11 13h1v1h-1zM1 14h1v1h-1zM19 14h1v1h-1zM2 15h1v1h-1zM11 15h1v1h-1zM21 16h1v1h-1zM15 18h1v1h-1zM15 19h1v1h-1zM11 20h1v1h-1zM21 20h1v1h-1zM32 22h1v1h-1zM16 23h1v1h-1zM3 26h1v1h-1zM21 27h1v1h-1zM0 32h1v1h-1zM21 32h1v1h-1zM5 35h1v1h-1zM28 35h2v1h-2zM10 36h1v1h-1zM10 39h1v1h-1z"/>
<path fill="#181818" d="M22 0h1v1h-1zM29 0h1v1h-1zM14 2h1v1h-1zM2 4h1v1h-1zM14 4h1v1h-1zM1 5h1v1h-1zM22 5h1v1h-1zM27 5h1v1h-1zM30 6h1v1h-1zM3 8h1v1h-1zM11 8h1v1h-1zM9 9h1v1h-1zM10 10h2v1h-2zM13 11h1v1h-1zM6 19h1v1h-1zM10 19h1v1h-1zM27 20h1v1h-1zM20 22h1v1h-1zM25 26h1v1h-1zM0 28h1v1h-1zM28 28h1v1h-1zM19 29h1v1h-1zM17 31h1v1h-1zM19 31h1v1h-1zM10 33h1v1h-1zM3 35h1v1h-1zM10 35h1v1h-1zM27 35h1v1h-1zM31 35h1v1h-1zM1 36h1v1h-1zM19 36h1v1h-1zM31 39h1v1h-1z"/>
<path fill="#1c1c1c" d="M1 0h1v1h-1zM15 0h1v1h-1zM17 1h1v1h-1zM1 2h1v1h-1zM11 2h1v1h-1zM11 3h1v1h-1zM18 3h1v1h-1zM27 3h1v1h-1zM23 4h1v1h-1zM22 7h1v1h-1zM1 9h1v1h-1zM11 9h1v1h-1zM24 12h1v1h-1zM32 12h1v1h-1zM25 13h1v1h-1zM31 16h1v1h-1zM4 17h1v1h-1zM32 19h1v1h-1zM30 20h1v1h-1zM28 24h1v1h-1zM22 25h1v1h-1zM17 29h1v1h-1zM1 32h1v1h-1zM5 34h1v1h-1zM27 38h1v1h-1zM30 38h1v1h-1z"/>
<path fill="#202020" d="M9 1h1v1h-1zM30 1h1v1h-1zM25 2h1v1h-1zM31 2h1v1h-1zM28 3h1v1h-1zM26 4h1v1h-1zM26 5h1v1h-1zM32 7h1v1h-1zM22 11h1v1h-1zM10 15h1v1h-1zM10 17h1v1h-1zM30 18h1v1h-1zM25 22h1v1h-1zM21 24h1v1h-1zM14 25h1v1h-1zM24 25h1v1h-1zM18 27h1v1h-1zM28 27h1v1h-1zM29 28h1v1h-1zM31 29h1v1h-1zM22 30h1v1h-1zM6 31h1v1h-1zM8 31h1v1h-1zM15 31h1v1h-1zM2 32h1v1h-1zM4 32h1v1h-1zM16 33h1v1h-1zM18 33h1v1h-1zM19 34h1v1h-1zM0 35h1v1h-1zM14 37h1v1h-1zM8 38h1v1h-1z"/>
<path fill="#242424" d="M3 1h1v1h-1zM6 2h1v1h-1zM28 4h1v1h-1zM4 6h1v1h-1zM24 7h1v1h-1zM32 9h1v1h-1zM0 10h1v1h-1zM10 12h1v1h-1zM15 12h1v1h-1zM19 12h1v1h-1zM0 14h1v1h-1zM28 17h1v1h-1zM1 20h1v1h-1zM12 21h1v1h-1zM18 24h1v1h-1zM30 24h1v1h-1zM10 25h1v1h-1zM14 26h1v1h-1zM5 27h1v1h-1zM22 28h1v1h-1zM5 29h1v1h-1zM4 31h1v1h-1zM20 31h1v1h-1zM21 33h1v1h-1zM0 34h1v1h-1zM13 35h1v1h-1zM32 35h1v1h-1zM5 37h1v1h-1zM23 37h1v1h-1zM5 38h1v1h-1zM14 39h1v1h-1z"/>
<path fill="#282828" d="M22 2h1v1h-1zM5 5h1v1h-1zM14 9h1v1h-1zM9 11h1v1h-1zM32 11h1v1h-1zM7 12h1v1h-1zM15 13h1v1h-1zM31 13h1v1h-1zM2 14h1v1h-1zM14 16h1v1h-1zM24 18h1v1h-1zM24 20h1v1h-1zM31 20h1v1h-1zM2 21h1v1h-1zM3 22h1v1h-1zM15 24h1v1h-1zM18 26h1v1h-1zM23 26h1v1h-1zM0 27h1v1h-1zM27 27h1v1h-1zM30 28h1v1h-1zM32 28h1v1h-1zM1 29h1v1h-1zM13 29h1v1h-1zM25 30h1v1h-1zM32 31h1v1h-1zM15 32h1v1h-1zM22 32h1v1h-1zM28 33h1v1h-1zM24 34h1v1h-1zM29 34h1v1h-1zM10 37h1v1h-1zM24 37h1v1h-1z"/>
<path fill="#2c2c2c" d="M22 6h1v1h-1zM26 8h1v1h-1zM31 9h1v1h-1zM27 10h1v1h-1zM5 12h1v1h-1zM12 13h1v1h-1zM9 14h1v1h-1zM14 17h1v1h-1zM11 18h1v1h-1zM6 20h2v1h-2zM17 21h1v1h-1zM2 22h1v1h-1zM31 22h1v1h-1zM7 25h1v1h-1zM11 26h1v1h-1zM31 26h1v1h-1zM11 27h2v1h-2zM24 27h1v1h-1zM25 32h1v1h-1zM3 36h1v1h-1zM32 38h1v1h-1zM25 39h1v1h-1z"/>
<path fill="#303030" d="M4 1h1v1h-1zM20 1h1v1h-1zM29 2h1v1h-1zM23 3h1v1h-1zM30 3h1v1h-1zM5 6h1v1h-1zM29 6h1v1h-1zM8 8h1v1h-1zM6 9h1v1h-1zM6 10h1v1h-1zM27 11h1v1h-1zM4 12h1v1h-1zM15 14h1v1h-1zM26 15h1v1h-1zM32 15h1v1h-1zM6 16h1v1h-1zM30 16h1v1h-1zM11 21h1v1h-1zM24 21h1v1h-1zM12 22h1v1h-1zM7 24h1v1h-1zM8 26h1v1h-1zM13 27h1v1h-1zM1 31h1v1h-1zM5 31h1v1h-1zM12 31h1v1h-1zM21 34h1v1h-1zM23 36h1v1h-1zM4 38h1v1h-1zM7 39h1v1h-1z"/>
<path fill="#343434" d="M3 0h1v1h-1zM10 0h1v1h-1zM10 1h1v1h-1zM3 3h1v1h-1zM13 3h1v1h-1zM7 4h1v1h-1zM13 4h1v1h-1zM15 4h1v1h-1zM1 6h1v1h-1zM17 7h1v1h-1zM21 9h1v1h-1zM5 13h1v1h-1zM2 17h1v1h-1zM24 19h1v1h-1zM8 23h1v1h-1zM13 24h1v1h-1zM3 25h1v1h-1zM5 25h1v1h-1zM12 26h1v1h-1zM9 29h2v1h-2zM11 30h1v1h-1zM9 31h1v1h-1zM11 31h1v1h-1zM26 31h1v1h-1zM30 32h1v1h-1zM2 37h1v1h-1z"/>
<path fill="#383838" d="M11 0h1v1h-1zM31 0h1v1h-1zM22 1h1v1h-1zM20 2h1v1h-1zM30 5h1v1h-1zM32 5h1v1h-1zM26 7h2v1h-2zM20 8h1v1h-1zM27 9h1v1h-1zM29 9h1v1h-1zM26 11h1v1h-1zM11 12h1v1h-1zM20 13h1v1h-1zM7 14h1v1h-1zM4 15h1v1h-1zM13 16h1v1h-1zM18 19h1v1h-1zM13 20h1v1h-1zM29 20h1v1h-1zM29 21h1v1h-1zM7 23h1v1h-1zM13 25h1v1h-1zM30 25h1v1h-1zM17 30h1v1h-1zM25 31h1v1h-1zM13 32h1v1h-1zM26 32h1v1h-1zM1 34h1v1h-1zM20 34h1v1h-1zM25 35h1v1h-1zM0 36h1v1h-1zM20 36h1v1h-1zM22 36h1v1h-1zM11 38h1v1h-1zM20 38h1v1h-1zM28 38h1v1h-1z"/>
<path fill="#3c3c3c" d="M27 0h1v1h-1zM16 2h1v1h-1zM1 3h1v1h-1zM25 3h1v1h-1zM8 4h1v1h-1zM16 4h1v1h-1zM27 4h1v1h-1zM10 6h1v1h-1zM16 6h1v1h-1zM18 6h1v1h-1zM16 7h1v1h-1zM30 7h1v1h-1zM13 9h1v1h-1zM30 9h1v1h-1zM24 10h1v1h-1zM29 10h1v1h-1zM32 10h1v1h-1zM23 12h1v1h-1zM23 13h1v1h-1zM17 14h1v1h-1zM21 14h1v1h-1zM17 17h1v1h-1zM32 17h1v1h-1zM0 21h1v1h-1zM1 22h1v1h-1zM29 22h1v1h-1zM28 25h1v1h-1zM2 26h1v1h-1zM5 26h1v1h-1zM29 29h1v1h-1zM32 29h1v1h-1zM18 31h1v1h-1zM17 32h1v1h-1zM10 34h1v1h-1zM25 34h1v1h-1zM19 38h1v1h-1z"/>
<path fill="#404040" d="M13 1h1v1h-1zM3 7h1v1h-1zM31 7h1v1h-1zM19 9h1v1h-1zM14 11h1v1h-1zM9 12h1v1h-1zM25 14h1v1h-1zM1 15h1v1h-1zM24 17h1v1h-1zM14 18h1v1h-1zM12 19h1v1h-1zM31 19h1v1h-1zM26 27h1v1h-1zM24 30h1v1h-1zM3 32h1v1h-1zM6 34h1v1h-1zM16 34h1v1h-1zM2 36h1v1h-1zM29 39h1v1h-1z"/>
<path fill="#444444" d="M29 1h1v1h-1zM21 2h1v1h-1zM11 4h1v1h-1zM13 6h1v1h-1zM25 8h1v1h-1zM10 9h1v1h-1zM20 9h1v1h-1zM17 11h1v1h-1zM8 12h1v1h-1zM30 13h1v1h-1zM19 16h1v1h-1zM23 18h1v1h-1zM21 19h1v1h-1zM28 20h1v1h-1zM2 28h1v1h-1zM10 31h1v1h-1zM23 33h1v1h-1zM10 38h1v1h-1zM3 39h1v1h-1z"/>
<path fill="#484848" d="M2 0h1v1h-1zM8 0h1v1h-1zM19 1h1v1h-1zM5 2h1v1h-1zM28 6h1v1h-1zM18 8h1v1h-1zM1 13h1v1h-1zM20 16h1v1h-1zM22 16h1v1h-1zM17 23h1v1h-1zM11 24h1v1h-1zM19 26h1v1h-1zM10 27h1v1h-1zM19 27h1v1h-1zM3 29h1v1h-1zM16 29h1v1h-1zM18 29h1v1h-1zM32 30h1v1h-1zM16 31h1v1h-1zM9 32h1v1h-1zM23 32h1v1h-1zM3 33h1v1h-1zM6 33h1v1h-1zM29 36h1v1h-1zM28 37h1v1h-1z"/>
<path fill="#505050" d="M12 0h1v1h-1zM16 0h1v1h-1zM17 3h1v1h-1zM24 6h1v1h-1zM5 8h1v1h-1zM10 11h2v1h-2zM9 13h1v1h-1zM13 13h1v1h-1zM21 15h1v1h-1zM21 17h1v1h-1zM4 18h1v1h-1zM7 19h1v1h-1zM26 19h1v1h-1zM4 22h1v1h-1zM18 22h2v1h-2zM0 23h1v1h-1zM25 24h1v1h-1zM11 28h1v1h-1zM0 29h1v1h-1zM21 29h1v1h-1zM26 30h1v1h-1zM20 32h1v1h-1zM9 33h1v1h-1zM32 33h1v1h-1zM30 35h1v1h-1zM5 36h1v1h-1zM3 37h2v1h-2zM15 37h1v1h-1zM18 38h1v1h-1z"/>
<path fill="#545454" d="M7 1h1v1h-1zM21 5h1v1h-1zM11 6h1v1h-1zM7 9h1v1h-1zM22 9h1v1h-1zM1 11h1v1h-1zM16 15h1v1h-1zM20 21h1v1h-1zM1 28h1v1h-1zM3 28h1v1h-1zM24 33h1v1h-1zM22 35h1v1h-1zM22 38h1v1h-1zM31 38h1v1h-1z"/>
<path fill="#585858" d="M24 0h2v1h-2zM0 2h1v1h-1zM9 3h1v1h-1zM32 4h1v1h-1zM23 6h1v1h-1zM2 8h1v1h-1zM13 10h1v1h-1zM29 12h1v1h-1zM31 14h1v1h-1zM16 18h1v1h-1zM17 20h1v1h-1zM30 22h1v1h-1zM6 23h1v1h-1zM4 25h1v1h-1zM21 28h1v1h-1zM0 30h1v1h-1zM32 32h1v1h-1zM29 33h2v1h-2zM9 34h1v1h-1zM18 36h1v1h-1zM18 39h1v1h-1z"/>
<path fill="#5c5c5c" d="M13 0h1v1h-1zM22 8h1v1h-1zM4 9h1v1h-1zM0 13h1v1h-1zM7 15h1v1h-1zM30 21h1v1h-1zM1 25h1v1h-1zM12 25h1v1h-1zM28 34h1v1h-1z"/>
<path fill="#606060" d="M9 2h1v1h-1zM10 3h1v1h-1zM20 4h1v1h-1zM26 9h1v1h-1zM7 11h1v1h-1zM12 11h1v1h-1zM19 18h1v1h-1zM22 18h1v1h-1zM27 18h1v1h-1zM23 22h1v1h-1zM26 22h1v1h-1zM2 23h1v1h-1zM31 23h1v1h-1zM20 26h1v1h-1zM8 29h1v1h-1zM27 29h1v1h-1zM19 37h1v1h-1zM1 39h1v1h-1zM22 39h1v1h-1z"/>
<path fill="#646464" d="M1 8h1v1h-1zM21 10h1v1h-1zM4 11h1v1h-1zM11 14h1v1h-1zM0 17h1v1h-1zM27 19h1v1h-1zM22 20h1v1h-1zM3 21h1v1h-1zM13 23h1v1h-1zM2 31h1v1h-1zM14 32h1v1h-1zM13 34h1v1h-1z"/>
<path fill="#686868" d="M26 0h1v1h-1zM7 2h1v1h-1zM26 2h1v1h-1zM8 3h1v1h-1zM24 4h1v1h-1zM10 5h1v1h-1zM31 5h1v1h-1zM5 9h1v1h-1zM17 10h1v1h-1zM20 10h1v1h-1zM16 11h1v1h-1zM29 13h1v1h-1zM5 15h1v1h-1zM0 16h1v1h-1zM3 16h1v1h-1zM8 17h1v1h-1zM10 18h1v1h-1zM9 21h1v1h-1zM5 22h1v1h-1zM18 23h1v1h-1zM2 29h1v1h-1zM20 30h1v1h-1zM8 36h1v1h-1z"/>
<path fill="#6c6c6c" d="M8 1h1v1h-1zM31 1h1v1h-1zM6 8h1v1h-1zM17 8h1v1h-1zM30 11h1v1h-1zM22 15h1v1h-1zM2 16h1v1h-1zM20 17h1v1h-1zM20 19h1v1h-1zM7 22h2v1h-2zM22 23h1v1h-1zM16 24h1v1h-1zM19 25h1v1h-1zM8 30h2v1h-2zM4 33h1v1h-1zM27 33h1v1h-1zM1 35h1v1h-1zM24 35h1v1h-1zM12 37h1v1h-1zM20 37h1v1h-1zM7 38h1v1h-1z"/>
<path fill="#707070" d="M32 3h1v1h-1zM3 10h1v1h-1zM6 13h1v1h-1zM28 16h1v1h-1zM17 22h1v1h-1zM22 24h2v1h-2zM21 25h1v1h-1zM23 25h1v1h-1zM19 28h1v1h-1zM29 30h1v1h-1zM14 31h1v1h-1zM31 33h1v1h-1zM14 34h1v1h-1zM30 37h1v1h-1zM32 37h1v1h-1zM24 38h1v1h-1z"/>
<path fill="#747474" d="M3 2h1v1h-1zM28 9h1v1h-1zM22 12h1v1h-1zM12 14h1v1h-1zM8 15h2v1h-2zM28 15h1v1h-1zM9 17h1v1h-1zM32 18h1v1h-1zM19 19h1v1h-1zM5 20h1v1h-1zM32 20h1v1h-1zM25 21h1v1h-1zM4 23h1v1h-1zM21 23h1v1h-1zM24 29h1v1h-1zM4 30h1v1h-1zM11 32h1v1h-1zM3 34h1v1h-1zM27 34h1v1h-1zM6 37h1v1h-1z"/>
<path fill="#787878" d="M30 0h1v1h-1zM28 2h1v1h-1zM14 3h1v1h-1zM14 6h1v1h-1zM21 8h1v1h-1zM29 8h1v1h-1zM22 10h1v1h-1zM29 11h1v1h-1zM21 12h1v1h-1zM3 15h1v1h-1zM7 18h1v1h-1zM25 18h1v1h-1zM14 19h1v1h-1zM30 19h1v1h-1zM9 22h1v1h-1zM5 23h1v1h-1zM25 25h1v1h-1zM29 25h1v1h-1zM25 27h1v1h-1zM16 28h1v1h-1zM11 36h1v1h-1zM4 39h1v1h-1z"/>
<path fill="#7c7c7c" d="M7 0h1v1h-1zM12 3h1v1h-1zM11 7h1v1h-1zM25 10h1v1h-1zM27 13h1v1h-1zM4 16h1v1h-1zM23 17h1v1h-1zM26 18h1v1h-1zM25 19h1v1h-1zM19 20h1v1h-1zM29 26h1v1h-1zM22 27h1v1h-1zM7 29h1v1h-1zM7 31h1v1h-1zM22 31h1v1h-1zM10 32h1v1h-1zM17 35h1v1h-1zM9 36h1v1h-1zM30 36h1v1h-1zM11 37h1v1h-1z"/>
<path fill="#808080" d="M23 1h1v1h-1zM7 5h1v1h-1zM21 6h1v1h-1zM25 9h1v1h-1zM12 10h1v1h-1zM13 21h1v1h-1zM31 21h1v1h-1zM1 24h1v1h-1zM12 29h1v1h-1zM30 29h1v1h-1zM15 34h1v1h-1z"/>
<path fill="#848484" d="M0 0h1v1h-1zM31 6h1v1h-1zM9 10h1v1h-1zM19 11h1v1h-1zM28 12h1v1h-1zM2 13h1v1h-1zM10 14h1v1h-1zM13 15h1v1h-1zM23 15h1v1h-1zM12 16h1v1h-1zM11 25h1v1h-1zM24 31h1v1h-1zM27 36h1v1h-1zM0 37h1v1h-1zM3 38h1v1h-1zM9 38h1v1h-1zM11 39h1v1h-1z"/>
<path fill="#888888" d="M23 0h1v1h-1zM5 10h1v1h-1zM29 16h1v1h-1zM8 21h1v1h-1zM27 21h1v1h-1zM15 22h1v1h-1zM29 23h1v1h-1zM10 24h1v1h-1zM29 24h1v1h-1zM26 25h1v1h-1zM1 26h1v1h-1zM8 27h1v1h-1zM15 27h1v1h-1zM27 28h1v1h-1zM5 33h1v1h-1zM30 39h1v1h-1z"/>
<path fill="#8c8c8c" d="M19 2h1v1h-1zM25 5h1v1h-1zM2 6h1v1h-1zM32 8h1v1h-1zM24 9h1v1h-1zM14 14h1v1h-1zM18 14h1v1h-1zM24 14h1v1h-1zM26 17h1v1h-1zM8 19h1v1h-1zM1 23h1v1h-1zM7 28h1v1h-1zM9 28h1v1h-1zM17 28h1v1h-1zM12 32h1v1h-1zM7 36h1v1h-1zM16 36h1v1h-1zM17 39h1v1h-1z"/>
<path fill="#909090" d="M15 1h1v1h-1zM28 1h1v1h-1zM2 2h1v1h-1zM8 6h1v1h-1zM9 7h1v1h-1zM28 11h1v1h-1zM6 12h1v1h-1zM8 13h1v1h-1zM5 14h1v1h-1zM1 16h1v1h-1zM8 16h1v1h-1zM3 19h1v1h-1zM2 25h1v1h-1zM27 25h1v1h-1zM10 28h1v1h-1zM15 28h1v1h-1zM28 32h1v1h-1zM7 33h1v1h-1zM7 34h1v1h-1zM26 34h1v1h-1zM2 35h1v1h-1zM11 35h1v1h-1zM19 35h1v1h-1z"/>
<path fill="#949494" d="M26 6h1v1h-1zM20 11h1v1h-1zM32 13h1v1h-1zM17 15h1v1h-1zM1 17h1v1h-1zM6 18h1v1h-1zM0 19h1v1h-1zM29 19h1v1h-1zM6 21h1v1h-1zM16 22h1v1h-1zM12 30h1v1h-1zM11 34h1v1h-1zM31 36h1v1h-1z"/>
<path fill="#989898" d="M15 2h1v1h-1zM5 4h1v1h-1zM18 4h1v1h-1zM30 4h1v1h-1zM12 6h1v1h-1zM23 9h1v1h-1zM26 10h1v1h-1zM23 11h1v1h-1zM16 13h1v1h-1zM18 15h1v1h-1zM31 15h1v1h-1zM16 16h1v1h-1zM0 22h1v1h-1zM27 32h1v1h-1zM12 35h1v1h-1zM18 35h1v1h-1zM4 36h1v1h-1zM24 36h1v1h-1z"/>
<path fill="#9c9c9c" d="M0 6h1v1h-1zM30 12h1v1h-1zM12 15h1v1h-1zM5 16h1v1h-1zM6 17h1v1h-1zM16 17h1v1h-1zM0 20h1v1h-1zM32 24h1v1h-1zM20 28h1v1h-1zM25 28h1v1h-1zM8 34h1v1h-1zM31 34h1v1h-1zM8 35h1v1h-1z"/>
<path fill="#a0a0a0" d="M19 0h1v1h-1zM17 2h1v1h-1zM22 3h1v1h-1zM1 4h1v1h-1zM28 8h1v1h-1zM21 11h1v1h-1zM1 12h1v1h-1zM18 12h1v1h-1zM20 15h1v1h-1zM16 19h1v1h-1zM14 22h1v1h-1zM18 28h1v1h-1zM11 29h1v1h-1z"/>
<path fill="#a4a4a4" d="M14 1h1v1h-1zM12 2h1v1h-1zM7 7h1v1h-1zM8 20h1v1h-1zM4 24h1v1h-1zM15 25h2v1h-2zM0 26h1v1h-1zM17 33h1v1h-1z"/>
<path fill="#a8a8a8" d="M3 5h1v1h-1zM28 14h1v1h-1zM1 19h1v1h-1zM23 21h1v1h-1zM22 26h1v1h-1zM27 26h1v1h-1zM14 30h1v1h-1zM19 30h1v1h-1zM30 30h1v1h-1zM3 31h1v1h-1zM8 32h1v1h-1zM24 32h1v1h-1zM8 37h1v1h-1z"/>
<path fill="#acacac" d="M5 3h1v1h-1zM22 4h1v1h-1zM18 5h1v1h-1zM23 5h1v1h-1zM12 7h2v1h-2zM18 10h1v1h-1zM3 12h1v1h-1zM14 12h1v1h-1zM18 13h1v1h-1zM4 21h1v1h-1zM9 26h1v1h-1zM16 26h1v1h-1zM26 28h1v1h-1zM20 29h1v1h-1zM23 31h1v1h-1zM0 38h1v1h-1zM16 38h1v1h-1z"/>
<path fill="#b0b0b0" d="M7 3h1v1h-1zM3 4h1v1h-1zM24 5h1v1h-1zM6 11h1v1h-1zM8 11h1v1h-1zM21 13h1v1h-1zM25 16h1v1h-1zM29 18h1v1h-1zM2 19h1v1h-1zM11 19h1v1h-1zM1 21h1v1h-1zM17 25h1v1h-1zM13 26h1v1h-1zM28 26h1v1h-1zM2 30h1v1h-1zM29 31h1v1h-1zM6 35h1v1h-1zM26 39h1v1h-1z"/>
<path fill="#b4b4b4" d="M24 1h1v1h-1zM6 4h1v1h-1zM28 5h1v1h-1zM32 6h1v1h-1zM15 8h1v1h-1zM2 10h1v1h-1zM8 10h1v1h-1zM4 13h1v1h-1zM23 16h1v1h-1zM1 18h1v1h-1zM26 21h1v1h-1zM3 24h1v1h-1zM8 24h1v1h-1zM2 34h1v1h-1zM32 34h1v1h-1zM17 37h1v1h-1zM0 39h1v1h-1z"/>
<path fill="#b8b8b8" d="M21 7h1v1h-1zM23 10h1v1h-1zM13 12h1v1h-1zM27 15h1v1h-1zM19 17h1v1h-1zM24 24h1v1h-1zM22 29h1v1h-1zM1 30h1v1h-1zM14 35h1v1h-1z"/>
<path fill="#bcbcbc" d="M12 1h1v1h-1zM26 3h1v1h-1zM20 5h1v1h-1zM0 7h1v1h-1zM3 11h1v1h-1zM25 11h1v1h-1zM24 15h1v1h-1zM27 16h1v1h-1zM11 17h1v1h-1zM28 19h1v1h-1zM14 20h1v1h-1zM9 27h1v1h-1zM12 33h1v1h-1zM31 37h1v1h-1zM29 38h1v1h-1z"/>
<path fill="#c0c0c0" d="M5 0h1v1h-1zM17 0h1v1h-1zM24 2h1v1h-1zM16 3h1v1h-1zM13 8h1v1h-1zM21 21h1v1h-1zM15 23h1v1h-1zM19 23h1v1h-1zM17 24h1v1h-1z"/>
<path fill="#c4c4c4" d="M17 9h1v1h-1zM4 10h1v1h-1zM24 13h1v1h-1zM13 14h1v1h-1zM28 22h1v1h-1zM27 31h1v1h-1z"/>
<path fill="#c8c8c8" d="M1 1h1v1h-1zM26 1h1v1h-1zM27 2h1v1h-1zM15 5h1v1h-1zM20 6h1v1h-1zM0 9h1v1h-1zM3 9h1v1h-1zM31 12h1v1h-1zM23 19h1v1h-1zM14 21h1v1h-1zM24 22h1v1h-1zM0 25h1v1h-1zM29 27h1v1h-1zM6 28h1v1h-1z"/>
<path fill="#cccccc" d="M32 2h1v1h-1zM20 3h1v1h-1zM24 3h1v1h-1zM8 5h1v1h-1zM5 17h1v1h-1zM20 25h1v1h-1zM32 25h1v1h-1zM30 26h1v1h-1zM14 29h1v1h-1zM23 34h1v1h-1zM16 35h1v1h-1zM8 39h1v1h-1zM19 39h1v1h-1z"/>
<path fill="#d0d0d0" d="M19 5h1v1h-1zM1 10h1v1h-1zM10 16h1v1h-1zM17 19h1v1h-1zM14 23h1v1h-1zM12 24h1v1h-1zM15 29h1v1h-1zM28 30h1v1h-1zM21 31h1v1h-1zM5 32h1v1h-1z"/>
<path fill="#d4d4d4" d="M28 0h1v1h-1zM11 1h1v1h-1zM2 3h1v1h-1zM19 7h1v1h-1zM28 13h1v1h-1zM4 14h1v1h-1zM29 14h1v1h-1zM15 15h1v1h-1zM12 17h1v1h-1zM3 23h1v1h-1zM2 24h1v1h-1zM31 27h1v1h-1zM26 29h1v1h-1zM23 30h1v1h-1zM31 30h1v1h-1zM13 31h1v1h-1zM4 34h1v1h-1zM13 39h1v1h-1zM24 39h1v1h-1z"/>
<path fill="#d8d8d8" d="M18 0h1v1h-1zM19 4h1v1h-1zM14 15h1v1h-1zM18 16h1v1h-1zM7 17h1v1h-1zM13 17h1v1h-1zM28 18h1v1h-1zM9 19h1v1h-1zM13 19h1v1h-1zM30 27h1v1h-1zM18 32h1v1h-1zM4 35h1v1h-1zM18 37h1v1h-1zM2 39h1v1h-1z"/>
<path fill="#dcdcdc" d="M12 4h1v1h-1zM4 8h1v1h-1zM14 10h1v1h-1zM16 10h1v1h-1zM2 11h1v1h-1zM27 14h1v1h-1zM29 17h1v1h-1zM9 18h1v1h-1zM22 22h1v1h-1zM4 27h1v1h-1zM23 27h1v1h-1zM23 29h1v1h-1zM30 34h1v1h-1zM7 35h1v1h-1zM21 38h1v1h-1zM5 39h1v1h-1z"/>
<path fill="#e0e0e0" d="M6 5h1v1h-1zM29 7h1v1h-1zM19 13h1v1h-1zM22 13h1v1h-1zM26 13h1v1h-1zM15 16h1v1h-1zM32 21h1v1h-1zM32 26h1v1h-1zM20 39h1v1h-1zM28 39h1v1h-1z"/>
<path fill="#e4e4e4" d="M6 6h1v1h-1zM10 8h1v1h-1zM24 8h1v1h-1zM17 16h1v1h-1zM4 20h1v1h-1zM16 20h1v1h-1zM18 21h1v1h-1zM22 21h1v1h-1zM18 25h1v1h-1zM1 27h2v1h-2zM19 33h1v1h-1zM20 35h1v1h-1zM17 36h1v1h-1zM1 38h1v1h-1zM12 39h1v1h-1z"/>
<path fill="#e8e8e8" d="M6 1h1v1h-1zM16 5h1v1h-1zM30 8h1v1h-1zM7 13h1v1h-1zM13 33h1v1h-1zM22 33h1v1h-1zM6 36h1v1h-1zM7 37h1v1h-1z"/>
<path fill="#ececec" d="M0 1h1v1h-1zM31 11h1v1h-1zM29 15h1v1h-1zM27 17h1v1h-1zM10 20h1v1h-1zM31 24h1v1h-1zM16 27h1v1h-1zM31 31h1v1h-1z"/>
<path fill="#f0f0f0" d="M29 5h1v1h-1zM19 10h1v1h-1zM14 13h1v1h-1zM9 20h1v1h-1zM19 21h1v1h-1zM14 28h1v1h-1zM15 33h1v1h-1zM12 34h1v1h-1zM26 37h1v1h-1z"/>
<path fill="#f4f4f4" d="M21 3h1v1h-1zM30 14h1v1h-1zM6 24h1v1h-1zM3 27h1v1h-1zM7 32h1v1h-1zM1 33h1v1h-1zM14 33h1v1h-1zM25 37h1v1h-1zM12 38h1v1h-1z"/>
<path fill="#f8f8f8" d="M4 0h1v1h-1zM20 0h1v1h-1zM32 1h1v1h-1zM1 7h1v1h-1zM0 15h1v1h-1zM6 27h1v1h-1zM20 33h1v1h-1z"/>
<path fill="#fcfcfc" d="M20 14h1v1h-1zM19 15h1v1h-1zM8 18h1v1h-1zM21 22h1v1h-1zM10 26h1v1h-1zM28 29h1v1h-1zM28 31h1v1h-1z"/>
<path fill="#ffffff" d="M2 33h1v1h-1z"/>
</g></g></g>
<g clip-path="url(#cp3)">
<g filter="url(#hb)"><g transform="translate(305,27.1) scale(1,8.96000)">
<rect x="-2" y="-2" width="37" height="44" fill="rgb(52,52,52)"/>
<path fill="#000000" d="M11 0h1v1h-1zM32 0h1v1h-1zM18 1h2v1h-2zM13 3h1v1h-1zM4 4h1v1h-1zM11 4h1v1h-1zM23 4h1v1h-1zM3 5h1v1h-1zM7 6h1v1h-1zM5 7h1v1h-1zM8 7h1v1h-1zM26 7h1v1h-1zM24 8h1v1h-1zM1 9h1v1h-1zM25 9h2v1h-2zM12 10h1v1h-1zM0 12h1v1h-1zM21 12h1v1h-1zM8 13h1v1h-1zM13 13h1v1h-1zM18 13h1v1h-1zM21 13h2v1h-2zM18 15h3v1h-3zM22 15h1v1h-1zM8 16h1v1h-1zM17 16h1v1h-1zM26 16h1v1h-1zM4 17h1v1h-1zM7 17h1v1h-1zM18 17h1v1h-1zM0 19h1v1h-1zM3 19h1v1h-1zM6 19h1v1h-1zM1 20h1v1h-1zM7 20h1v1h-1zM12 20h1v1h-1zM17 20h1v1h-1zM20 20h1v1h-1zM6 21h1v1h-1zM13 21h1v1h-1zM27 21h1v1h-1zM1 22h1v1h-1zM7 22h1v1h-1zM12 22h1v1h-1zM19 23h1v1h-1zM15 24h1v1h-1zM20 24h1v1h-1zM28 24h1v1h-1zM12 26h1v1h-1zM24 26h1v1h-1zM27 26h1v1h-1zM31 26h1v1h-1zM3 27h1v1h-1zM15 27h2v1h-2zM1 28h2v1h-2zM32 28h1v1h-1zM17 29h1v1h-1zM24 29h1v1h-1zM10 30h1v1h-1zM12 30h1v1h-1zM19 30h1v1h-1zM21 30h2v1h-2zM30 30h1v1h-1zM3 31h1v1h-1zM13 31h1v1h-1zM27 31h1v1h-1zM29 31h1v1h-1zM31 31h1v1h-1zM8 32h1v1h-1zM17 32h1v1h-1zM19 32h1v1h-1zM3 33h1v1h-1zM6 33h1v1h-1zM15 33h1v1h-1zM20 33h1v1h-1zM12 34h1v1h-1zM15 34h1v1h-1zM12 35h1v1h-1zM22 35h1v1h-1zM10 36h1v1h-1zM23 36h1v1h-1zM29 37h1v1h-1zM4 38h1v1h-1zM7 38h1v1h-1zM16 38h1v1h-1zM9 39h1v1h-1zM16 39h1v1h-1z"/>
<path fill="#0c0c0c" d="M1 5h1v1h-1zM28 12h1v1h-1zM19 13h1v1h-1zM12 18h1v1h-1zM25 18h1v1h-1zM20 19h1v1h-1zM11 24h1v1h-1zM23 24h1v1h-1zM6 29h1v1h-1zM4 32h1v1h-1zM19 33h1v1h-1zM6 37h1v1h-1zM32 38h1v1h-1z"/>
<path fill="#101010" d="M0 0h1v1h-1zM15 1h1v1h-1zM30 4h1v1h-1zM13 5h1v1h-1zM27 6h2v1h-2zM32 6h1v1h-1zM21 7h1v1h-1zM9 8h1v1h-1zM19 9h1v1h-1zM30 9h1v1h-1zM15 10h1v1h-1zM21 10h1v1h-1zM16 11h1v1h-1zM18 11h1v1h-1zM3 12h1v1h-1zM11 13h1v1h-1zM28 13h1v1h-1zM1 14h1v1h-1zM21 14h1v1h-1zM0 15h1v1h-1zM31 15h1v1h-1zM3 16h1v1h-1zM11 16h1v1h-1zM0 17h1v1h-1zM3 17h1v1h-1zM22 17h1v1h-1zM25 17h1v1h-1zM6 18h1v1h-1zM15 19h1v1h-1zM18 19h1v1h-1zM18 20h1v1h-1zM25 20h1v1h-1zM17 21h1v1h-1zM19 21h2v1h-2zM10 22h1v1h-1zM14 22h1v1h-1zM25 22h1v1h-1zM28 22h1v1h-1zM1 23h1v1h-1zM12 23h1v1h-1zM21 23h1v1h-1zM6 24h1v1h-1zM15 25h1v1h-1zM21 25h1v1h-1zM23 25h1v1h-1zM30 25h1v1h-1zM20 26h1v1h-1zM12 27h1v1h-1zM24 27h1v1h-1zM27 27h1v1h-1zM7 28h1v1h-1zM30 29h1v1h-1zM32 29h1v1h-1zM23 31h1v1h-1zM2 32h1v1h-1zM13 32h1v1h-1zM21 32h1v1h-1zM24 34h1v1h-1zM4 35h1v1h-1zM2 36h1v1h-1zM16 36h1v1h-1zM18 36h1v1h-1zM28 36h1v1h-1zM30 37h2v1h-2zM9 38h1v1h-1zM21 39h1v1h-1z"/>
<path fill="#141414" d="M4 0h1v1h-1zM18 0h1v1h-1zM27 0h1v1h-1zM2 1h1v1h-1zM24 1h1v1h-1zM20 2h1v1h-1zM6 3h1v1h-1zM11 3h1v1h-1zM27 4h1v1h-1zM12 5h1v1h-1zM15 5h1v1h-1zM19 5h1v1h-1zM25 5h1v1h-1zM28 5h1v1h-1zM14 6h1v1h-1zM26 6h1v1h-1zM6 8h1v1h-1zM20 9h1v1h-1zM5 10h1v1h-1zM20 10h1v1h-1zM26 10h1v1h-1zM32 11h1v1h-1zM4 12h1v1h-1zM9 12h1v1h-1zM25 13h1v1h-1zM0 14h1v1h-1zM5 14h1v1h-1zM15 14h1v1h-1zM2 15h1v1h-1zM0 16h1v1h-1zM24 16h1v1h-1zM32 16h1v1h-1zM9 18h1v1h-1zM14 19h1v1h-1zM22 19h1v1h-1zM26 19h1v1h-1zM28 19h1v1h-1zM28 20h1v1h-1zM24 21h1v1h-1zM27 23h1v1h-1zM2 24h1v1h-1zM32 25h1v1h-1zM7 26h1v1h-1zM32 26h1v1h-1zM5 27h1v1h-1zM15 28h1v1h-1zM28 28h1v1h-1zM24 30h1v1h-1zM8 33h1v1h-1zM25 33h1v1h-1zM28 33h1v1h-1zM28 34h1v1h-1zM29 35h1v1h-1zM30 36h1v1h-1zM2 37h1v1h-1zM24 37h1v1h-1zM7 39h1v1h-1z"/>
<path fill="#181818" d="M9 0h1v1h-1zM3 2h1v1h-1zM10 2h1v1h-1zM30 2h1v1h-1zM22 3h1v1h-1zM32 3h1v1h-1zM1 4h1v1h-1zM7 4h1v1h-1zM12 4h2v1h-2zM6 7h1v1h-1zM25 7h1v1h-1zM21 8h1v1h-1zM16 9h1v1h-1zM17 10h1v1h-1zM22 10h1v1h-1zM32 10h1v1h-1zM3 11h1v1h-1zM12 11h1v1h-1zM24 11h1v1h-1zM28 11h1v1h-1zM14 12h1v1h-1zM6 13h1v1h-1zM11 14h1v1h-1zM22 14h1v1h-1zM17 15h1v1h-1zM28 15h1v1h-1zM30 15h1v1h-1zM22 16h2v1h-2zM25 16h1v1h-1zM13 18h1v1h-1zM30 18h2v1h-2zM12 19h1v1h-1zM16 19h1v1h-1zM31 19h1v1h-1zM10 20h1v1h-1zM29 20h1v1h-1zM27 22h1v1h-1zM11 23h1v1h-1zM13 23h1v1h-1zM28 23h1v1h-1zM32 23h1v1h-1zM22 24h1v1h-1zM22 26h1v1h-1zM4 27h1v1h-1zM20 27h1v1h-1zM3 28h1v1h-1zM8 28h1v1h-1zM12 28h1v1h-1zM4 29h1v1h-1zM28 29h1v1h-1zM31 29h1v1h-1zM3 30h1v1h-1zM18 30h1v1h-1zM32 30h1v1h-1zM14 32h1v1h-1zM6 34h1v1h-1zM23 34h1v1h-1zM32 34h1v1h-1zM1 35h1v1h-1zM9 35h1v1h-1zM31 35h1v1h-1zM14 37h1v1h-1zM8 38h1v1h-1zM8 39h1v1h-1zM11 39h1v1h-1zM15 39h1v1h-1zM18 39h1v1h-1zM29 39h1v1h-1z"/>
<path fill="#1c1c1c" d="M1 0h2v1h-2zM15 0h1v1h-1zM0 1h2v1h-2zM8 1h1v1h-1zM12 1h1v1h-1zM2 2h1v1h-1zM17 2h1v1h-1zM5 4h1v1h-1zM16 4h1v1h-1zM20 4h1v1h-1zM2 5h1v1h-1zM5 5h2v1h-2zM14 5h1v1h-1zM22 5h1v1h-1zM13 6h1v1h-1zM18 6h1v1h-1zM10 7h1v1h-1zM24 7h1v1h-1zM12 8h1v1h-1zM20 8h1v1h-1zM12 9h1v1h-1zM1 10h2v1h-2zM4 10h1v1h-1zM0 11h1v1h-1zM2 12h1v1h-1zM17 12h1v1h-1zM27 12h1v1h-1zM32 12h1v1h-1zM3 13h1v1h-1zM13 14h1v1h-1zM15 16h1v1h-1zM13 17h1v1h-1zM22 18h1v1h-1zM8 19h1v1h-1zM19 20h1v1h-1zM12 21h1v1h-1zM3 23h1v1h-1zM30 23h1v1h-1zM31 24h1v1h-1zM24 25h1v1h-1zM2 27h1v1h-1zM11 27h1v1h-1zM26 27h1v1h-1zM31 27h2v1h-2zM6 30h1v1h-1zM1 31h1v1h-1zM25 31h1v1h-1zM18 33h1v1h-1zM29 33h1v1h-1zM1 34h1v1h-1zM3 34h1v1h-1zM5 35h1v1h-1zM1 36h1v1h-1zM16 37h1v1h-1zM30 38h1v1h-1zM12 39h2v1h-2zM19 39h1v1h-1z"/>
<path fill="#202020" d="M6 0h1v1h-1zM29 0h1v1h-1zM3 1h1v1h-1zM23 1h1v1h-1zM18 2h1v1h-1zM26 2h2v1h-2zM2 4h1v1h-1zM9 4h1v1h-1zM19 4h1v1h-1zM24 4h1v1h-1zM32 4h1v1h-1zM16 5h1v1h-1zM18 5h1v1h-1zM31 6h1v1h-1zM30 7h1v1h-1zM2 8h1v1h-1zM22 8h1v1h-1zM4 9h1v1h-1zM7 9h1v1h-1zM11 9h1v1h-1zM21 9h1v1h-1zM24 10h1v1h-1zM30 10h1v1h-1zM11 12h1v1h-1zM9 13h1v1h-1zM12 13h1v1h-1zM14 13h1v1h-1zM32 13h1v1h-1zM23 14h1v1h-1zM10 15h2v1h-2zM16 15h1v1h-1zM26 15h1v1h-1zM32 15h1v1h-1zM29 16h1v1h-1zM9 17h1v1h-1zM7 18h1v1h-1zM10 18h1v1h-1zM32 19h1v1h-1zM30 20h1v1h-1zM32 20h1v1h-1zM9 21h2v1h-2zM4 22h1v1h-1zM23 22h1v1h-1zM32 22h1v1h-1zM22 23h1v1h-1zM9 24h1v1h-1zM29 24h1v1h-1zM13 25h1v1h-1zM25 25h1v1h-1zM14 26h1v1h-1zM30 26h1v1h-1zM6 27h1v1h-1zM18 27h1v1h-1zM21 28h1v1h-1zM22 29h1v1h-1zM27 30h1v1h-1zM4 31h1v1h-1zM10 31h1v1h-1zM16 31h1v1h-1zM3 32h1v1h-1zM18 32h1v1h-1zM4 33h1v1h-1zM27 34h1v1h-1zM8 35h1v1h-1zM11 35h1v1h-1zM16 35h1v1h-1zM29 36h1v1h-1zM31 36h1v1h-1zM9 37h1v1h-1zM22 37h1v1h-1zM6 38h1v1h-1zM1 39h1v1h-1zM14 39h1v1h-1z"/>
<path fill="#242424" d="M21 0h1v1h-1zM6 1h1v1h-1zM25 1h2v1h-2zM16 2h1v1h-1zM21 2h1v1h-1zM14 3h1v1h-1zM24 5h1v1h-1zM29 5h2v1h-2zM0 7h1v1h-1zM0 8h1v1h-1zM10 8h1v1h-1zM32 8h1v1h-1zM28 9h1v1h-1zM11 10h1v1h-1zM29 10h1v1h-1zM6 11h1v1h-1zM22 11h1v1h-1zM4 14h1v1h-1zM5 15h1v1h-1zM15 15h1v1h-1zM29 15h1v1h-1zM13 16h1v1h-1zM27 16h1v1h-1zM5 17h1v1h-1zM17 17h1v1h-1zM20 17h1v1h-1zM3 18h1v1h-1zM17 18h1v1h-1zM24 20h1v1h-1zM3 22h1v1h-1zM13 22h1v1h-1zM18 22h1v1h-1zM21 22h1v1h-1zM14 23h1v1h-1zM26 23h1v1h-1zM13 24h1v1h-1zM3 25h1v1h-1zM20 25h1v1h-1zM5 26h1v1h-1zM17 26h1v1h-1zM26 29h1v1h-1zM0 30h1v1h-1zM14 31h1v1h-1zM28 31h1v1h-1zM31 32h1v1h-1zM9 33h1v1h-1zM7 34h1v1h-1zM19 35h1v1h-1zM27 37h1v1h-1zM10 38h1v1h-1zM24 38h1v1h-1zM22 39h1v1h-1z"/>
<path fill="#282828" d="M20 1h1v1h-1zM27 1h1v1h-1zM30 1h1v1h-1zM19 3h1v1h-1zM29 4h1v1h-1zM5 6h1v1h-1zM16 6h1v1h-1zM24 6h1v1h-1zM3 7h1v1h-1zM29 7h1v1h-1zM1 8h1v1h-1zM2 9h1v1h-1zM16 10h1v1h-1zM10 11h1v1h-1zM14 11h1v1h-1zM21 11h1v1h-1zM30 11h1v1h-1zM12 12h1v1h-1zM4 13h1v1h-1zM28 14h1v1h-1zM12 15h1v1h-1zM21 15h1v1h-1zM18 16h1v1h-1zM2 17h1v1h-1zM10 17h1v1h-1zM30 17h1v1h-1zM2 18h1v1h-1zM4 18h1v1h-1zM4 19h1v1h-1zM27 19h1v1h-1zM16 21h1v1h-1zM5 23h1v1h-1zM0 25h1v1h-1zM9 25h1v1h-1zM22 25h1v1h-1zM17 28h1v1h-1zM10 29h1v1h-1zM14 29h1v1h-1zM13 30h1v1h-1zM31 30h1v1h-1zM2 31h1v1h-1zM11 31h1v1h-1zM11 33h1v1h-1zM13 33h1v1h-1zM31 33h2v1h-2zM3 38h1v1h-1zM23 38h1v1h-1zM32 39h1v1h-1z"/>
<path fill="#2c2c2c" d="M5 1h1v1h-1zM22 1h1v1h-1zM4 2h1v1h-1zM8 2h1v1h-1zM2 3h1v1h-1zM4 5h1v1h-1zM15 6h1v1h-1zM17 6h1v1h-1zM1 7h1v1h-1zM31 7h2v1h-2zM17 8h1v1h-1zM27 8h1v1h-1zM8 9h1v1h-1zM22 9h1v1h-1zM20 12h1v1h-1zM30 12h1v1h-1zM10 13h1v1h-1zM30 13h1v1h-1zM10 14h1v1h-1zM24 15h1v1h-1zM11 19h1v1h-1zM22 20h1v1h-1zM19 22h1v1h-1zM24 24h1v1h-1zM27 24h1v1h-1zM15 26h1v1h-1zM8 27h1v1h-1zM16 28h1v1h-1zM19 28h1v1h-1zM9 29h1v1h-1zM29 29h1v1h-1zM9 31h1v1h-1zM32 31h1v1h-1zM24 32h1v1h-1zM19 34h1v1h-1zM30 34h1v1h-1zM27 35h1v1h-1zM12 36h1v1h-1zM15 36h1v1h-1zM24 36h1v1h-1zM26 36h1v1h-1zM5 37h1v1h-1zM14 38h1v1h-1zM21 38h1v1h-1zM28 39h1v1h-1zM30 39h1v1h-1z"/>
<path fill="#303030" d="M29 2h1v1h-1zM16 3h1v1h-1zM0 4h1v1h-1zM14 4h1v1h-1zM25 4h1v1h-1zM6 6h1v1h-1zM21 6h1v1h-1zM22 7h1v1h-1zM8 8h1v1h-1zM29 9h1v1h-1zM14 10h1v1h-1zM8 11h1v1h-1zM23 12h1v1h-1zM9 14h1v1h-1zM8 15h1v1h-1zM25 15h1v1h-1zM16 16h1v1h-1zM5 18h1v1h-1zM18 18h2v1h-2zM29 19h2v1h-2zM4 20h1v1h-1zM2 25h1v1h-1zM19 26h1v1h-1zM22 27h1v1h-1zM13 28h1v1h-1zM25 28h1v1h-1zM30 28h1v1h-1zM14 30h1v1h-1zM24 31h1v1h-1zM22 32h1v1h-1zM24 33h1v1h-1zM20 34h1v1h-1zM22 34h1v1h-1zM3 35h1v1h-1zM25 36h1v1h-1zM8 37h1v1h-1zM25 37h1v1h-1zM0 38h2v1h-2zM5 39h1v1h-1z"/>
<path fill="#383838" d="M16 0h1v1h-1zM22 0h1v1h-1zM30 0h1v1h-1zM13 1h1v1h-1zM32 1h1v1h-1zM23 2h1v1h-1zM17 3h1v1h-1zM26 4h1v1h-1zM26 5h1v1h-1zM9 7h1v1h-1zM16 7h1v1h-1zM18 7h1v1h-1zM5 8h1v1h-1zM28 8h1v1h-1zM7 11h1v1h-1zM31 11h1v1h-1zM15 12h1v1h-1zM26 12h1v1h-1zM1 13h1v1h-1zM24 13h1v1h-1zM24 14h1v1h-1zM32 14h1v1h-1zM27 15h1v1h-1zM1 16h1v1h-1zM5 16h1v1h-1zM9 16h1v1h-1zM19 17h1v1h-1zM29 17h1v1h-1zM2 20h1v1h-1zM11 21h1v1h-1zM5 22h1v1h-1zM8 22h1v1h-1zM30 22h2v1h-2zM1 24h1v1h-1zM12 24h1v1h-1zM32 24h1v1h-1zM9 26h1v1h-1zM25 27h1v1h-1zM24 28h1v1h-1zM26 28h1v1h-1zM2 29h1v1h-1zM20 30h1v1h-1zM25 30h2v1h-2zM19 31h1v1h-1zM26 31h1v1h-1zM10 32h2v1h-2zM8 34h1v1h-1zM26 35h1v1h-1zM32 35h1v1h-1zM9 36h1v1h-1zM18 37h1v1h-1zM3 39h1v1h-1z"/>
<path fill="#3c3c3c" d="M9 1h1v1h-1zM14 1h1v1h-1zM7 2h1v1h-1zM18 3h1v1h-1zM31 4h1v1h-1zM2 7h1v1h-1zM28 7h1v1h-1zM13 8h1v1h-1zM29 8h1v1h-1zM25 11h1v1h-1zM10 12h1v1h-1zM29 12h1v1h-1zM26 14h1v1h-1zM2 16h1v1h-1zM7 16h1v1h-1zM28 16h1v1h-1zM32 17h1v1h-1zM29 18h1v1h-1zM32 18h1v1h-1zM1 19h1v1h-1zM5 19h1v1h-1zM23 21h1v1h-1zM32 21h1v1h-1zM20 22h1v1h-1zM19 25h1v1h-1zM8 26h1v1h-1zM26 26h1v1h-1zM21 27h1v1h-1zM1 29h1v1h-1zM16 29h1v1h-1zM12 31h1v1h-1zM17 31h1v1h-1zM25 32h2v1h-2zM23 35h1v1h-1zM3 36h1v1h-1zM5 36h1v1h-1zM21 36h1v1h-1zM10 37h1v1h-1zM17 37h1v1h-1zM28 38h2v1h-2zM4 39h1v1h-1z"/>
<path fill="#404040" d="M16 1h1v1h-1zM23 3h2v1h-2zM6 4h1v1h-1zM8 6h1v1h-1zM11 8h1v1h-1zM15 8h1v1h-1zM26 8h1v1h-1zM23 9h1v1h-1zM27 9h1v1h-1zM23 10h1v1h-1zM20 14h1v1h-1zM29 14h1v1h-1zM6 15h1v1h-1zM27 20h1v1h-1zM8 21h1v1h-1zM22 21h1v1h-1zM18 23h1v1h-1zM3 24h1v1h-1zM7 24h1v1h-1zM18 24h1v1h-1zM5 25h3v1h-3zM26 25h1v1h-1zM28 27h1v1h-1zM6 28h1v1h-1zM29 28h1v1h-1zM15 32h1v1h-1zM7 33h1v1h-1zM11 34h1v1h-1zM7 35h1v1h-1zM15 35h1v1h-1zM28 35h1v1h-1zM6 36h1v1h-1zM12 37h2v1h-2zM28 37h1v1h-1z"/>
<path fill="#444444" d="M12 0h1v1h-1zM0 2h1v1h-1zM20 3h1v1h-1zM3 4h1v1h-1zM10 6h1v1h-1zM12 6h1v1h-1zM22 6h1v1h-1zM23 7h1v1h-1zM31 10h1v1h-1zM30 14h1v1h-1zM12 16h1v1h-1zM30 16h1v1h-1zM6 17h1v1h-1zM11 17h1v1h-1zM23 18h1v1h-1zM19 19h1v1h-1zM24 19h1v1h-1zM16 20h1v1h-1zM29 21h1v1h-1zM0 22h1v1h-1zM24 22h1v1h-1zM16 24h1v1h-1zM1 25h1v1h-1zM29 25h1v1h-1zM3 26h2v1h-2zM10 26h1v1h-1zM21 26h1v1h-1zM23 26h1v1h-1zM13 27h1v1h-1zM10 28h1v1h-1zM27 28h1v1h-1zM21 31h1v1h-1zM28 32h1v1h-1zM21 33h1v1h-1zM19 37h1v1h-1z"/>
<path fill="#484848" d="M23 0h1v1h-1zM5 3h1v1h-1zM27 3h1v1h-1zM17 5h1v1h-1zM21 5h1v1h-1zM27 5h1v1h-1zM0 6h1v1h-1zM9 6h1v1h-1zM11 6h1v1h-1zM15 7h1v1h-1zM0 9h1v1h-1zM5 9h1v1h-1zM25 10h1v1h-1zM4 15h1v1h-1zM7 15h1v1h-1zM20 16h1v1h-1zM15 17h1v1h-1zM26 18h1v1h-1zM23 19h1v1h-1zM3 20h1v1h-1zM9 20h1v1h-1zM11 20h1v1h-1zM10 24h1v1h-1zM30 24h1v1h-1zM6 26h1v1h-1zM21 29h1v1h-1zM4 30h2v1h-2zM6 32h1v1h-1zM27 32h1v1h-1zM16 33h1v1h-1zM0 34h1v1h-1zM5 34h1v1h-1zM17 34h1v1h-1zM17 39h1v1h-1z"/>
<path fill="#4c4c4c" d="M7 1h1v1h-1zM12 2h1v1h-1zM1 3h1v1h-1zM9 3h1v1h-1zM21 3h1v1h-1zM1 6h1v1h-1zM20 6h1v1h-1zM11 7h1v1h-1zM14 7h1v1h-1zM25 8h1v1h-1zM6 9h1v1h-1zM19 10h1v1h-1zM5 11h1v1h-1zM8 12h1v1h-1zM18 12h1v1h-1zM7 14h1v1h-1zM12 14h1v1h-1zM19 14h1v1h-1zM12 17h1v1h-1zM23 17h1v1h-1zM7 19h1v1h-1zM26 21h1v1h-1zM10 23h1v1h-1zM25 24h1v1h-1zM16 25h1v1h-1zM11 26h1v1h-1zM9 28h1v1h-1zM20 28h1v1h-1zM20 29h1v1h-1zM25 29h1v1h-1zM5 32h1v1h-1zM12 32h1v1h-1zM14 33h1v1h-1zM22 33h1v1h-1zM0 35h1v1h-1zM10 35h1v1h-1zM21 35h1v1h-1zM20 36h1v1h-1zM22 36h1v1h-1zM20 37h1v1h-1zM18 38h1v1h-1zM25 38h1v1h-1zM27 38h1v1h-1zM10 39h1v1h-1z"/>
<path fill="#505050" d="M5 0h1v1h-1zM19 2h1v1h-1zM28 4h1v1h-1zM8 5h1v1h-1zM27 7h1v1h-1zM3 8h1v1h-1zM3 10h1v1h-1zM13 10h1v1h-1zM1 12h1v1h-1zM16 13h1v1h-1zM2 14h1v1h-1zM14 14h1v1h-1zM25 14h1v1h-1zM14 17h1v1h-1zM25 19h1v1h-1zM4 23h1v1h-1zM14 25h1v1h-1zM18 26h1v1h-1zM28 26h1v1h-1zM22 28h1v1h-1zM0 29h1v1h-1zM18 29h1v1h-1zM15 30h1v1h-1zM23 30h1v1h-1zM1 33h1v1h-1zM4 34h1v1h-1zM30 35h1v1h-1zM13 36h2v1h-2zM20 39h1v1h-1z"/>
<path fill="#545454" d="M11 1h1v1h-1zM12 3h1v1h-1zM30 3h1v1h-1zM17 4h1v1h-1zM7 5h1v1h-1zM13 11h1v1h-1zM7 12h1v1h-1zM27 18h1v1h-1zM6 20h1v1h-1zM8 20h1v1h-1zM28 21h1v1h-1zM16 22h1v1h-1zM2 23h1v1h-1zM6 23h1v1h-1zM9 23h1v1h-1zM23 23h2v1h-2zM21 24h1v1h-1zM31 28h1v1h-1zM7 30h1v1h-1zM0 33h1v1h-1zM18 34h1v1h-1zM8 36h1v1h-1zM17 36h1v1h-1zM19 36h1v1h-1zM13 38h1v1h-1zM31 39h1v1h-1z"/>
<path fill="#585858" d="M3 0h1v1h-1zM17 1h1v1h-1zM28 1h2v1h-2zM5 2h1v1h-1zM10 5h1v1h-1zM32 5h1v1h-1zM23 6h1v1h-1zM3 14h1v1h-1zM1 17h1v1h-1zM16 18h1v1h-1zM9 19h1v1h-1zM17 19h1v1h-1zM2 21h1v1h-1zM21 21h1v1h-1zM29 22h1v1h-1zM20 23h1v1h-1zM4 24h1v1h-1zM12 25h1v1h-1zM29 26h1v1h-1zM19 27h1v1h-1zM5 28h1v1h-1zM11 28h1v1h-1zM0 32h1v1h-1zM32 32h1v1h-1zM27 33h1v1h-1zM10 34h1v1h-1zM12 38h1v1h-1zM20 38h1v1h-1zM6 39h1v1h-1zM25 39h1v1h-1z"/>
<path fill="#5c5c5c" d="M19 7h1v1h-1zM31 8h1v1h-1zM9 9h1v1h-1zM19 11h1v1h-1zM26 11h1v1h-1zM22 12h1v1h-1zM15 13h1v1h-1zM16 14h1v1h-1zM8 18h1v1h-1zM4 21h1v1h-1zM14 24h1v1h-1zM10 25h1v1h-1zM13 26h1v1h-1zM23 27h1v1h-1zM1 30h1v1h-1zM23 32h1v1h-1zM29 34h1v1h-1zM0 36h1v1h-1zM23 37h1v1h-1z"/>
<path fill="#606060" d="M8 0h1v1h-1zM24 2h1v1h-1zM3 3h1v1h-1zM10 4h1v1h-1zM31 5h1v1h-1zM12 7h1v1h-1zM18 9h1v1h-1zM10 10h1v1h-1zM27 11h1v1h-1zM5 12h1v1h-1zM2 13h1v1h-1zM5 13h1v1h-1zM17 13h1v1h-1zM21 16h1v1h-1zM14 18h1v1h-1zM2 19h1v1h-1zM19 24h1v1h-1zM31 25h1v1h-1zM4 28h1v1h-1zM5 31h1v1h-1zM20 31h1v1h-1zM30 31h1v1h-1zM30 32h1v1h-1zM2 35h1v1h-1zM4 37h1v1h-1zM15 38h1v1h-1z"/>
<path fill="#646464" d="M14 0h1v1h-1zM19 0h1v1h-1zM25 2h1v1h-1zM11 11h1v1h-1zM0 13h1v1h-1zM9 15h1v1h-1zM27 17h1v1h-1zM1 21h1v1h-1zM31 21h1v1h-1zM6 22h1v1h-1zM17 22h1v1h-1zM29 23h1v1h-1zM30 27h1v1h-1zM27 29h1v1h-1zM0 31h1v1h-1zM16 32h1v1h-1zM2 33h1v1h-1zM14 34h1v1h-1zM25 34h1v1h-1zM27 39h1v1h-1z"/>
<path fill="#686868" d="M10 1h1v1h-1zM31 1h1v1h-1zM31 2h1v1h-1zM25 3h1v1h-1zM31 3h1v1h-1zM11 5h1v1h-1zM2 6h1v1h-1zM29 6h1v1h-1zM30 8h1v1h-1zM10 9h1v1h-1zM32 9h1v1h-1zM18 10h1v1h-1zM29 11h1v1h-1zM27 13h1v1h-1zM6 14h1v1h-1zM8 14h1v1h-1zM19 16h1v1h-1zM15 18h1v1h-1zM21 19h1v1h-1zM15 20h1v1h-1zM7 21h1v1h-1zM14 21h1v1h-1zM15 23h1v1h-1zM31 23h1v1h-1zM5 24h1v1h-1zM8 25h1v1h-1zM0 26h1v1h-1zM3 29h1v1h-1zM5 29h1v1h-1zM1 32h1v1h-1zM5 33h1v1h-1zM17 33h1v1h-1zM23 33h1v1h-1zM11 37h1v1h-1zM24 39h1v1h-1z"/>
<path fill="#6c6c6c" d="M13 0h1v1h-1zM17 0h1v1h-1zM26 0h1v1h-1zM31 0h1v1h-1zM1 2h1v1h-1zM29 3h1v1h-1zM8 4h1v1h-1zM0 5h1v1h-1zM4 7h1v1h-1zM7 7h1v1h-1zM20 7h1v1h-1zM13 9h1v1h-1zM24 12h1v1h-1zM23 13h1v1h-1zM26 13h1v1h-1zM3 15h1v1h-1zM23 15h1v1h-1zM6 16h1v1h-1zM16 17h1v1h-1zM1 18h1v1h-1zM10 19h1v1h-1zM31 20h1v1h-1zM2 22h1v1h-1zM7 23h1v1h-1zM17 23h1v1h-1zM17 25h1v1h-1zM28 25h1v1h-1zM29 30h1v1h-1zM6 31h1v1h-1zM29 32h1v1h-1zM12 33h1v1h-1zM21 34h1v1h-1zM18 35h1v1h-1zM26 37h1v1h-1zM5 38h1v1h-1zM17 38h1v1h-1z"/>
<path fill="#707070" d="M28 2h1v1h-1zM18 4h1v1h-1zM3 6h1v1h-1zM17 7h1v1h-1zM18 8h1v1h-1zM14 9h1v1h-1zM24 9h1v1h-1zM31 9h1v1h-1zM6 10h1v1h-1zM2 11h1v1h-1zM9 11h1v1h-1zM5 20h1v1h-1zM26 24h1v1h-1zM27 25h1v1h-1zM14 27h1v1h-1zM17 30h1v1h-1zM15 31h1v1h-1zM21 37h1v1h-1z"/>
<path fill="#747474" d="M9 2h1v1h-1zM32 2h1v1h-1zM10 3h1v1h-1zM15 3h1v1h-1zM26 3h1v1h-1zM28 10h1v1h-1zM17 11h1v1h-1zM13 12h1v1h-1zM8 17h1v1h-1zM1 27h1v1h-1zM17 27h1v1h-1zM9 30h1v1h-1zM18 31h1v1h-1zM2 34h1v1h-1zM9 34h1v1h-1zM11 38h1v1h-1z"/>
<path fill="#787878" d="M4 1h1v1h-1zM27 10h1v1h-1zM6 12h1v1h-1zM24 17h1v1h-1zM26 17h1v1h-1zM28 17h1v1h-1zM13 19h1v1h-1zM14 20h1v1h-1zM9 22h1v1h-1zM8 23h1v1h-1zM11 25h1v1h-1zM2 26h1v1h-1zM16 26h1v1h-1zM7 32h1v1h-1zM10 33h1v1h-1zM26 33h1v1h-1zM17 35h1v1h-1zM4 36h1v1h-1zM15 37h1v1h-1z"/>
<path fill="#7c7c7c" d="M22 2h1v1h-1zM19 6h1v1h-1zM30 6h1v1h-1zM23 11h1v1h-1zM16 12h1v1h-1zM31 12h1v1h-1zM13 15h1v1h-1zM21 17h1v1h-1zM26 20h1v1h-1zM0 21h1v1h-1zM18 21h1v1h-1zM17 24h1v1h-1zM24 35h1v1h-1zM3 37h1v1h-1zM22 38h1v1h-1z"/>
<path fill="#808080" d="M10 0h1v1h-1zM0 3h1v1h-1zM4 11h1v1h-1zM14 16h1v1h-1zM20 18h1v1h-1zM4 25h1v1h-1zM23 28h1v1h-1zM12 29h1v1h-1zM28 30h1v1h-1zM32 37h1v1h-1z"/>
<path fill="#848484" d="M28 3h1v1h-1zM15 9h1v1h-1zM1 15h1v1h-1zM4 16h1v1h-1zM31 17h1v1h-1zM22 22h1v1h-1zM0 23h1v1h-1zM13 34h1v1h-1zM6 35h1v1h-1zM7 37h1v1h-1z"/>
<path fill="#888888" d="M20 0h1v1h-1zM1 11h1v1h-1zM21 20h1v1h-1zM7 27h1v1h-1zM2 30h1v1h-1zM11 30h1v1h-1z"/>
<path fill="#8c8c8c" d="M25 0h1v1h-1zM4 8h1v1h-1zM19 12h1v1h-1zM5 21h1v1h-1zM15 21h1v1h-1zM30 21h1v1h-1zM15 22h1v1h-1zM18 25h1v1h-1zM8 31h1v1h-1zM9 32h1v1h-1zM30 33h1v1h-1zM26 34h1v1h-1zM2 39h1v1h-1z"/>
<path fill="#909090" d="M4 3h1v1h-1zM15 4h1v1h-1zM23 5h1v1h-1zM11 18h1v1h-1zM21 18h1v1h-1zM26 22h1v1h-1zM14 28h1v1h-1zM7 31h1v1h-1z"/>
<path fill="#949494" d="M28 0h1v1h-1zM6 2h1v1h-1zM11 2h1v1h-1zM8 10h1v1h-1zM27 14h1v1h-1zM31 14h1v1h-1zM0 24h1v1h-1zM1 26h1v1h-1zM0 28h1v1h-1zM14 35h1v1h-1zM11 36h1v1h-1zM0 39h1v1h-1z"/>
<path fill="#989898" d="M15 2h1v1h-1zM20 5h1v1h-1zM16 23h1v1h-1zM11 29h1v1h-1zM25 35h1v1h-1zM26 39h1v1h-1z"/>
<path fill="#9c9c9c" d="M22 4h1v1h-1zM9 10h1v1h-1zM10 16h1v1h-1zM24 18h1v1h-1zM18 28h1v1h-1zM31 34h1v1h-1zM7 36h1v1h-1zM23 39h1v1h-1z"/>
<path fill="#a0a0a0" d="M13 2h1v1h-1zM25 6h1v1h-1zM17 9h1v1h-1zM0 27h1v1h-1zM29 27h1v1h-1zM8 29h1v1h-1zM23 29h1v1h-1z"/>
<path fill="#a4a4a4" d="M13 7h1v1h-1zM13 20h1v1h-1zM11 22h1v1h-1zM9 27h1v1h-1z"/>
<path fill="#a8a8a8" d="M7 8h1v1h-1zM23 8h1v1h-1zM15 11h1v1h-1zM0 20h1v1h-1zM8 24h1v1h-1z"/>
<path fill="#acacac" d="M24 0h1v1h-1zM7 13h1v1h-1z"/>
<path fill="#b0b0b0" d="M20 13h1v1h-1zM25 23h1v1h-1zM20 35h1v1h-1z"/>
<path fill="#b4b4b4" d="M7 10h1v1h-1zM19 29h1v1h-1zM27 36h1v1h-1zM19 38h1v1h-1z"/>
<path fill="#b8b8b8" d="M23 20h1v1h-1z"/>
</g></g></g>
<g clip-path="url(#cp4)">
<g filter="url(#hb2)"><g transform="translate(386,27.1) scale(1,8.96000)">
<rect x="-2" y="-2" width="37" height="44" fill="rgb(0,0,0)"/>
<path fill="#040404" d="M5 0h1v1h-1zM9 0h1v1h-1zM14 0h1v1h-1zM3 2h1v1h-1zM26 2h1v1h-1zM10 3h1v1h-1zM18 3h1v1h-1zM23 3h1v1h-1zM0 5h1v1h-1zM23 6h1v1h-1zM0 7h1v1h-1zM25 7h1v1h-1zM6 8h1v1h-1zM23 10h1v1h-1zM9 11h1v1h-1zM27 12h1v1h-1zM7 13h1v1h-1zM5 14h1v1h-1zM8 14h1v1h-1zM10 16h1v1h-1zM15 16h1v1h-1zM28 16h1v1h-1zM30 16h1v1h-1zM8 17h1v1h-1zM12 17h1v1h-1zM15 17h1v1h-1zM7 18h1v1h-1zM9 18h1v1h-1zM11 18h1v1h-1zM18 18h1v1h-1zM32 19h1v1h-1zM26 20h1v1h-1zM22 21h1v1h-1zM25 21h1v1h-1zM29 21h1v1h-1zM2 22h1v1h-1zM12 23h1v1h-1zM7 24h1v1h-1zM15 24h1v1h-1zM26 24h1v1h-1zM10 25h1v1h-1zM14 25h1v1h-1zM2 26h1v1h-1zM27 27h1v1h-1zM29 28h1v1h-1zM5 29h2v1h-2zM18 33h1v1h-1zM24 33h1v1h-1zM26 34h1v1h-1zM18 35h1v1h-1zM22 35h1v1h-1zM26 37h1v1h-1zM28 37h1v1h-1zM18 38h1v1h-1zM13 39h1v1h-1zM28 39h1v1h-1z"/>
<path fill="#080808" d="M2 1h1v1h-1zM11 1h1v1h-1zM15 1h1v1h-1zM17 2h1v1h-1zM24 5h1v1h-1zM21 7h1v1h-1zM24 7h1v1h-1zM19 8h1v1h-1zM1 10h1v1h-1zM13 10h1v1h-1zM10 11h1v1h-1zM23 11h1v1h-1zM4 12h1v1h-1zM22 12h1v1h-1zM0 13h1v1h-1zM4 13h1v1h-1zM12 13h1v1h-1zM1 14h1v1h-1zM13 14h1v1h-1zM11 15h1v1h-1zM28 15h1v1h-1zM3 17h1v1h-1zM28 18h1v1h-1zM23 19h1v1h-1zM32 20h1v1h-1zM23 21h1v1h-1zM26 21h1v1h-1zM10 23h1v1h-1zM15 23h1v1h-1zM10 24h1v1h-1zM25 24h1v1h-1zM21 26h1v1h-1zM29 26h1v1h-1zM7 27h1v1h-1zM20 27h1v1h-1zM5 28h1v1h-1zM11 28h1v1h-1zM21 28h1v1h-1zM8 29h1v1h-1zM10 30h1v1h-1zM20 30h1v1h-1zM12 31h1v1h-1zM18 31h1v1h-1zM27 33h1v1h-1zM5 35h1v1h-1zM10 37h1v1h-1zM1 38h1v1h-1zM7 38h1v1h-1zM22 38h1v1h-1z"/>
<path fill="#0c0c0c" d="M4 0h1v1h-1zM12 1h1v1h-1zM7 2h1v1h-1zM10 2h1v1h-1zM11 5h1v1h-1zM14 5h1v1h-1zM20 6h1v1h-1zM18 8h1v1h-1zM22 8h1v1h-1zM2 9h1v1h-1zM15 11h1v1h-1zM27 11h1v1h-1zM6 12h1v1h-1zM0 14h1v1h-1zM0 16h1v1h-1zM25 16h1v1h-1zM2 17h1v1h-1zM1 18h1v1h-1zM19 18h1v1h-1zM2 20h1v1h-1zM10 20h1v1h-1zM14 20h1v1h-1zM23 20h1v1h-1zM12 21h1v1h-1zM31 21h1v1h-1zM6 22h1v1h-1zM30 22h1v1h-1zM11 25h1v1h-1zM10 29h1v1h-1zM25 29h1v1h-1zM8 30h1v1h-1zM21 30h1v1h-1zM19 32h1v1h-1zM28 33h1v1h-1zM0 34h1v1h-1zM13 34h1v1h-1zM4 35h1v1h-1zM17 35h1v1h-1zM2 37h1v1h-1zM13 38h1v1h-1zM30 38h1v1h-1zM4 39h1v1h-1z"/>
<path fill="#101010" d="M23 0h1v1h-1zM30 0h1v1h-1zM20 1h1v1h-1zM12 2h1v1h-1zM16 2h1v1h-1zM28 2h1v1h-1zM6 3h1v1h-1zM29 3h1v1h-1zM9 4h1v1h-1zM11 6h1v1h-1zM1 7h1v1h-1zM6 7h1v1h-1zM8 7h1v1h-1zM18 7h1v1h-1zM31 7h1v1h-1zM17 9h1v1h-1zM6 10h1v1h-1zM24 10h1v1h-1zM10 12h1v1h-1zM4 14h1v1h-1zM16 14h1v1h-1zM4 15h1v1h-1zM8 15h1v1h-1zM21 16h1v1h-1zM18 17h1v1h-1zM5 19h1v1h-1zM9 19h2v1h-2zM3 23h1v1h-1zM20 23h1v1h-1zM16 25h1v1h-1zM30 25h1v1h-1zM12 26h1v1h-1zM17 28h1v1h-1zM19 28h1v1h-1zM17 29h1v1h-1zM25 31h1v1h-1zM30 31h1v1h-1zM0 37h1v1h-1zM6 37h1v1h-1zM18 37h1v1h-1zM2 39h1v1h-1zM29 39h1v1h-1z"/>
<path fill="#141414" d="M20 0h1v1h-1zM7 1h1v1h-1zM28 1h1v1h-1zM11 2h1v1h-1zM24 2h1v1h-1zM28 3h1v1h-1zM7 4h1v1h-1zM28 4h1v1h-1zM4 6h1v1h-1zM31 9h1v1h-1zM29 10h1v1h-1zM7 11h1v1h-1zM17 13h1v1h-1zM22 13h1v1h-1zM20 14h1v1h-1zM24 14h1v1h-1zM19 15h1v1h-1zM31 15h1v1h-1zM10 18h1v1h-1zM1 20h1v1h-1zM9 21h1v1h-1zM17 21h1v1h-1zM16 29h1v1h-1zM5 31h1v1h-1zM15 31h1v1h-1zM20 31h1v1h-1zM6 32h1v1h-1zM1 34h1v1h-1zM12 36h1v1h-1zM21 38h1v1h-1z"/>
<path fill="#181818" d="M26 1h1v1h-1zM16 3h1v1h-1zM25 5h1v1h-1zM13 6h1v1h-1zM7 7h1v1h-1zM3 8h1v1h-1zM23 9h1v1h-1zM2 10h1v1h-1zM28 10h1v1h-1zM31 10h1v1h-1zM1 11h2v1h-2zM27 14h1v1h-1zM30 14h1v1h-1zM32 15h1v1h-1zM6 17h1v1h-1zM10 17h1v1h-1zM24 17h1v1h-1zM21 18h1v1h-1zM24 20h1v1h-1zM27 20h1v1h-1zM26 23h1v1h-1zM16 27h1v1h-1zM18 28h1v1h-1zM28 29h1v1h-1zM2 31h2v1h-2zM8 31h1v1h-1zM14 31h1v1h-1zM7 32h1v1h-1zM20 32h1v1h-1zM14 33h1v1h-1zM31 33h1v1h-1zM14 34h1v1h-1zM28 36h1v1h-1zM30 39h1v1h-1z"/>
<path fill="#1c1c1c" d="M3 0h1v1h-1zM21 0h1v1h-1zM31 0h1v1h-1zM1 3h1v1h-1zM22 3h1v1h-1zM27 5h1v1h-1zM14 6h1v1h-1zM20 7h1v1h-1zM23 8h1v1h-1zM31 8h1v1h-1zM28 9h1v1h-1zM19 10h1v1h-1zM26 10h1v1h-1zM11 11h1v1h-1zM5 13h1v1h-1zM6 14h1v1h-1zM5 15h1v1h-1zM20 15h1v1h-1zM22 16h2v1h-2zM13 19h1v1h-1zM11 22h1v1h-1zM19 22h1v1h-1zM11 24h1v1h-1zM14 24h1v1h-1zM2 25h1v1h-1zM19 25h1v1h-1zM1 26h1v1h-1zM6 26h1v1h-1zM28 26h1v1h-1zM2 27h1v1h-1zM30 27h1v1h-1zM24 28h1v1h-1zM5 30h1v1h-1zM27 31h1v1h-1zM29 33h1v1h-1zM31 35h1v1h-1zM4 37h1v1h-1zM31 37h1v1h-1zM0 39h1v1h-1z"/>
<path fill="#202020" d="M4 1h1v1h-1zM2 2h1v1h-1zM14 3h1v1h-1zM20 3h1v1h-1zM27 4h1v1h-1zM30 5h2v1h-2zM16 8h1v1h-1zM32 10h1v1h-1zM28 11h1v1h-1zM16 12h1v1h-1zM23 14h1v1h-1zM29 15h1v1h-1zM27 17h1v1h-1zM5 18h1v1h-1zM15 21h1v1h-1zM7 23h1v1h-1zM15 25h1v1h-1zM14 28h1v1h-1zM24 29h1v1h-1zM32 29h1v1h-1zM4 30h1v1h-1zM15 33h1v1h-1zM9 34h1v1h-1zM15 34h1v1h-1zM11 38h1v1h-1z"/>
<path fill="#242424" d="M15 2h1v1h-1zM9 3h1v1h-1zM4 4h1v1h-1zM7 8h1v1h-1zM18 10h1v1h-1zM16 11h1v1h-1zM15 12h1v1h-1zM3 13h1v1h-1zM6 13h1v1h-1zM21 13h1v1h-1zM23 13h1v1h-1zM13 16h1v1h-1zM15 18h1v1h-1zM20 20h1v1h-1zM28 20h2v1h-2zM32 22h1v1h-1zM25 23h1v1h-1zM19 24h1v1h-1zM25 25h1v1h-1zM9 27h1v1h-1zM31 29h1v1h-1zM22 32h1v1h-1zM17 38h1v1h-1z"/>
<path fill="#282828" d="M0 1h1v1h-1zM16 1h1v1h-1zM14 2h1v1h-1zM29 2h1v1h-1zM26 3h1v1h-1zM24 8h1v1h-1zM7 10h1v1h-1zM0 11h1v1h-1zM6 11h1v1h-1zM31 11h1v1h-1zM15 15h1v1h-1zM6 16h1v1h-1zM6 19h1v1h-1zM20 19h1v1h-1zM9 20h1v1h-1zM7 22h1v1h-1zM24 24h1v1h-1zM4 25h1v1h-1zM7 25h1v1h-1zM26 25h1v1h-1zM3 26h1v1h-1zM24 26h1v1h-1zM31 26h1v1h-1zM9 30h1v1h-1zM17 32h1v1h-1zM24 32h1v1h-1zM17 33h1v1h-1zM4 34h1v1h-1zM4 38h1v1h-1z"/>
<path fill="#2c2c2c" d="M16 0h1v1h-1zM27 0h1v1h-1zM21 1h1v1h-1zM13 3h1v1h-1zM24 4h1v1h-1zM10 8h1v1h-1zM8 10h1v1h-1zM10 10h1v1h-1zM15 10h1v1h-1zM1 12h1v1h-1zM32 12h1v1h-1zM11 13h1v1h-1zM6 15h1v1h-1zM5 17h1v1h-1zM28 17h1v1h-1zM32 18h1v1h-1zM18 21h1v1h-1zM30 23h1v1h-1zM32 24h1v1h-1zM11 27h1v1h-1zM24 27h1v1h-1zM6 28h1v1h-1zM6 31h1v1h-1zM4 32h1v1h-1zM23 32h1v1h-1zM4 33h1v1h-1zM23 34h1v1h-1zM32 34h1v1h-1zM3 36h1v1h-1z"/>
<path fill="#303030" d="M10 1h1v1h-1zM17 1h1v1h-1zM7 6h1v1h-1zM25 8h1v1h-1zM28 8h1v1h-1zM8 13h1v1h-1zM22 14h1v1h-1zM16 16h1v1h-1zM26 16h1v1h-1zM2 18h1v1h-1zM4 20h1v1h-1zM31 24h1v1h-1zM0 29h1v1h-1zM30 30h1v1h-1zM0 32h1v1h-1zM3 32h1v1h-1zM28 34h1v1h-1zM1 35h1v1h-1zM14 35h1v1h-1zM25 35h1v1h-1zM24 36h1v1h-1zM16 37h1v1h-1zM28 38h1v1h-1z"/>
<path fill="#343434" d="M19 7h1v1h-1zM12 14h1v1h-1zM15 14h1v1h-1zM9 17h1v1h-1zM17 17h1v1h-1zM7 19h1v1h-1zM21 19h1v1h-1zM16 22h1v1h-1zM31 23h1v1h-1zM28 32h1v1h-1zM22 33h1v1h-1zM11 34h1v1h-1zM30 34h1v1h-1zM19 36h1v1h-1zM30 37h1v1h-1zM1 39h1v1h-1z"/>
<path fill="#383838" d="M5 1h1v1h-1zM8 9h1v1h-1zM24 9h1v1h-1zM18 15h1v1h-1zM0 20h1v1h-1zM25 20h1v1h-1zM6 21h1v1h-1zM29 23h1v1h-1zM22 26h1v1h-1zM6 27h1v1h-1zM31 27h1v1h-1zM20 28h1v1h-1zM12 29h1v1h-1zM29 30h1v1h-1zM2 33h1v1h-1zM29 36h1v1h-1zM14 37h1v1h-1zM29 38h1v1h-1z"/>
<path fill="#3c3c3c" d="M2 0h1v1h-1zM7 0h1v1h-1zM23 1h1v1h-1zM25 2h1v1h-1zM31 2h1v1h-1zM17 4h1v1h-1zM4 5h1v1h-1zM2 8h1v1h-1zM18 9h1v1h-1zM9 13h1v1h-1zM2 14h1v1h-1zM8 18h1v1h-1zM31 19h1v1h-1zM30 20h1v1h-1zM21 22h1v1h-1zM13 23h1v1h-1zM17 25h1v1h-1zM3 27h1v1h-1zM25 27h1v1h-1zM32 32h1v1h-1zM9 37h1v1h-1z"/>
<path fill="#404040" d="M27 1h1v1h-1zM0 3h1v1h-1zM3 4h1v1h-1zM32 4h1v1h-1zM21 5h1v1h-1zM13 7h1v1h-1zM1 8h1v1h-1zM15 9h1v1h-1zM13 13h1v1h-1zM16 15h1v1h-1zM14 16h1v1h-1zM13 20h1v1h-1zM18 22h1v1h-1zM27 23h1v1h-1zM0 24h1v1h-1zM15 27h1v1h-1zM12 28h1v1h-1zM13 29h1v1h-1zM24 30h1v1h-1zM7 37h1v1h-1zM19 37h1v1h-1zM23 39h2v1h-2z"/>
<path fill="#444444" d="M8 3h1v1h-1zM21 4h1v1h-1zM3 5h1v1h-1zM22 5h1v1h-1zM6 18h1v1h-1zM15 20h1v1h-1zM4 23h1v1h-1zM0 25h1v1h-1zM0 27h1v1h-1zM1 29h1v1h-1zM9 35h1v1h-1zM12 35h1v1h-1zM4 36h1v1h-1zM19 39h1v1h-1z"/>
<path fill="#484848" d="M31 4h1v1h-1zM5 16h1v1h-1zM22 19h1v1h-1zM3 25h1v1h-1zM15 30h1v1h-1zM26 30h1v1h-1zM22 31h1v1h-1z"/>
<path fill="#4c4c4c" d="M24 3h1v1h-1zM12 4h1v1h-1zM29 5h1v1h-1zM11 10h1v1h-1zM19 13h1v1h-1zM19 19h1v1h-1zM27 19h1v1h-1zM5 23h1v1h-1zM18 24h1v1h-1zM20 25h1v1h-1zM9 31h1v1h-1zM5 32h1v1h-1zM10 33h1v1h-1zM30 33h1v1h-1zM1 37h1v1h-1zM32 38h1v1h-1z"/>
<path fill="#505050" d="M6 0h1v1h-1zM21 2h1v1h-1zM1 21h1v1h-1zM14 22h1v1h-1zM27 22h1v1h-1zM14 27h1v1h-1zM17 31h1v1h-1zM23 31h1v1h-1zM29 32h1v1h-1zM19 35h1v1h-1z"/>
<path fill="#545454" d="M3 6h1v1h-1zM25 6h1v1h-1zM21 9h1v1h-1zM26 11h1v1h-1zM25 13h1v1h-1zM32 14h1v1h-1zM7 20h1v1h-1zM31 22h1v1h-1zM16 26h1v1h-1zM10 27h1v1h-1zM15 28h1v1h-1zM32 30h1v1h-1zM13 36h1v1h-1zM8 37h1v1h-1z"/>
<path fill="#585858" d="M5 12h1v1h-1zM13 24h1v1h-1zM13 25h1v1h-1zM31 25h1v1h-1zM22 27h1v1h-1zM18 30h1v1h-1zM7 31h1v1h-1zM32 31h1v1h-1zM7 39h1v1h-1z"/>
<path fill="#5c5c5c" d="M22 4h1v1h-1zM1 5h1v1h-1zM20 5h1v1h-1zM5 6h1v1h-1zM12 10h1v1h-1zM8 19h1v1h-1zM28 21h1v1h-1zM32 23h1v1h-1zM4 26h1v1h-1zM27 39h1v1h-1z"/>
<path fill="#606060" d="M19 1h1v1h-1zM13 4h1v1h-1zM20 10h1v1h-1zM13 15h1v1h-1zM25 17h1v1h-1zM9 23h1v1h-1zM11 30h1v1h-1zM3 34h1v1h-1zM3 37h1v1h-1z"/>
<path fill="#646464" d="M3 9h1v1h-1zM21 20h1v1h-1zM0 26h1v1h-1zM1 27h1v1h-1zM22 28h1v1h-1zM25 36h1v1h-1zM19 38h1v1h-1z"/>
<path fill="#686868" d="M18 5h1v1h-1zM11 8h1v1h-1zM3 10h1v1h-1zM27 29h1v1h-1zM26 33h1v1h-1zM3 35h1v1h-1zM29 35h1v1h-1zM13 37h1v1h-1z"/>
<path fill="#6c6c6c" d="M8 4h1v1h-1zM13 9h1v1h-1zM19 11h1v1h-1zM32 13h1v1h-1zM25 14h1v1h-1zM1 16h1v1h-1zM4 21h1v1h-1zM29 29h1v1h-1zM17 34h1v1h-1zM29 34h1v1h-1z"/>
<path fill="#707070" d="M5 5h1v1h-1zM27 8h1v1h-1zM1 15h1v1h-1zM22 18h1v1h-1zM17 27h2v1h-2zM15 32h1v1h-1z"/>
<path fill="#747474" d="M23 17h1v1h-1zM2 19h1v1h-1zM0 21h1v1h-1zM13 26h1v1h-1zM24 34h1v1h-1z"/>
<path fill="#787878" d="M2 5h1v1h-1z"/>
<path fill="#7c7c7c" d="M13 31h1v1h-1zM16 31h1v1h-1z"/>
<path fill="#808080" d="M11 3h1v1h-1zM19 21h1v1h-1zM17 24h1v1h-1z"/>
<path fill="#848484" d="M31 34h1v1h-1z"/>
<path fill="#8c8c8c" d="M14 19h1v1h-1zM19 29h1v1h-1z"/>
<path fill="#949494" d="M3 33h1v1h-1z"/>
<path fill="#989898" d="M17 16h1v1h-1zM32 33h1v1h-1z"/>
<path fill="#a0a0a0" d="M22 15h1v1h-1z"/>
</g></g></g>
<g clip-path="url(#cp5)">
<g filter="url(#hb2)"><g transform="translate(467,27.1) scale(1,8.96000)">
<rect x="-2" y="-2" width="37" height="44" fill="rgb(0,0,0)"/>
<path fill="#040404" d="M4 0h1v1h-1zM8 0h1v1h-1zM14 0h1v1h-1zM19 0h1v1h-1zM29 0h1v1h-1zM2 1h1v1h-1zM19 2h1v1h-1zM30 2h1v1h-1zM6 3h1v1h-1zM2 4h1v1h-1zM20 4h1v1h-1zM13 5h1v1h-1zM24 5h1v1h-1zM9 7h1v1h-1zM12 7h1v1h-1zM30 8h1v1h-1zM8 9h1v1h-1zM15 9h1v1h-1zM30 9h1v1h-1zM16 10h1v1h-1zM11 11h1v1h-1zM29 11h1v1h-1zM2 12h1v1h-1zM4 12h1v1h-1zM4 13h1v1h-1zM6 16h1v1h-1zM8 16h1v1h-1zM12 18h1v1h-1zM16 18h1v1h-1zM23 18h1v1h-1zM27 18h1v1h-1zM3 21h1v1h-1zM13 22h1v1h-1zM21 22h1v1h-1zM27 22h1v1h-1zM1 24h1v1h-1zM1 25h2v1h-2zM20 25h1v1h-1zM28 25h1v1h-1zM27 26h1v1h-1zM27 27h1v1h-1zM7 28h1v1h-1zM16 28h1v1h-1zM24 28h1v1h-1zM1 29h1v1h-1zM23 29h1v1h-1zM21 30h1v1h-1zM24 31h1v1h-1zM17 32h1v1h-1zM26 33h1v1h-1zM18 34h1v1h-1zM25 34h1v1h-1zM32 34h1v1h-1zM15 36h1v1h-1zM26 36h1v1h-1zM30 36h1v1h-1zM8 38h1v1h-1zM27 38h1v1h-1zM10 39h1v1h-1zM23 39h1v1h-1z"/>
<path fill="#080808" d="M16 0h1v1h-1zM1 2h1v1h-1zM7 2h1v1h-1zM29 2h1v1h-1zM10 4h1v1h-1zM2 5h1v1h-1zM11 5h1v1h-1zM29 8h1v1h-1zM3 10h1v1h-1zM32 11h1v1h-1zM24 13h1v1h-1zM25 14h1v1h-1zM31 14h1v1h-1zM28 15h1v1h-1zM17 16h1v1h-1zM4 17h1v1h-1zM18 17h1v1h-1zM7 18h1v1h-1zM10 18h1v1h-1zM2 19h1v1h-1zM16 19h1v1h-1zM19 19h1v1h-1zM7 20h1v1h-1zM27 20h1v1h-1zM2 21h1v1h-1zM1 22h1v1h-1zM26 22h1v1h-1zM31 22h1v1h-1zM8 23h1v1h-1zM11 23h1v1h-1zM30 24h1v1h-1zM5 25h1v1h-1zM12 25h1v1h-1zM16 25h1v1h-1zM2 26h1v1h-1zM6 26h1v1h-1zM14 26h1v1h-1zM17 27h2v1h-2zM14 28h1v1h-1zM3 29h1v1h-1zM9 30h1v1h-1zM30 30h1v1h-1zM21 31h1v1h-1zM30 31h1v1h-1zM11 32h1v1h-1zM26 32h1v1h-1zM9 33h1v1h-1zM17 33h1v1h-1zM0 34h1v1h-1zM31 34h1v1h-1zM13 35h1v1h-1zM5 36h2v1h-2zM26 39h1v1h-1zM30 39h1v1h-1z"/>
<path fill="#0c0c0c" d="M0 4h1v1h-1zM8 4h1v1h-1zM9 5h1v1h-1zM31 5h1v1h-1zM14 6h1v1h-1zM27 6h1v1h-1zM4 7h1v1h-1zM14 7h1v1h-1zM21 8h1v1h-1zM28 8h1v1h-1zM3 9h1v1h-1zM12 9h1v1h-1zM21 9h1v1h-1zM0 10h1v1h-1zM25 10h1v1h-1zM12 11h1v1h-1zM11 12h1v1h-1zM13 13h1v1h-1zM18 13h1v1h-1zM6 15h1v1h-1zM18 15h1v1h-1zM2 16h1v1h-1zM24 16h1v1h-1zM30 17h1v1h-1zM11 18h1v1h-1zM22 19h1v1h-1zM9 20h1v1h-1zM7 21h1v1h-1zM24 22h1v1h-1zM28 22h1v1h-1zM15 23h1v1h-1zM27 23h1v1h-1zM27 24h1v1h-1zM29 24h1v1h-1zM30 25h1v1h-1zM0 27h1v1h-1zM2 29h1v1h-1zM32 31h1v1h-1zM16 32h1v1h-1zM0 33h2v1h-2zM6 33h1v1h-1zM22 33h1v1h-1zM13 34h2v1h-2zM8 35h1v1h-1zM14 35h1v1h-1zM24 36h1v1h-1zM26 38h1v1h-1zM7 39h1v1h-1zM31 39h1v1h-1z"/>
<path fill="#101010" d="M2 0h1v1h-1zM24 0h1v1h-1zM17 1h1v1h-1zM6 2h1v1h-1zM17 2h1v1h-1zM21 2h1v1h-1zM26 2h1v1h-1zM31 2h1v1h-1zM6 4h1v1h-1zM30 6h1v1h-1zM28 9h1v1h-1zM3 11h1v1h-1zM14 11h1v1h-1zM16 11h1v1h-1zM31 11h1v1h-1zM6 12h1v1h-1zM3 13h1v1h-1zM23 13h1v1h-1zM27 13h1v1h-1zM23 14h1v1h-1zM0 15h1v1h-1zM32 18h1v1h-1zM26 19h1v1h-1zM31 19h1v1h-1zM2 20h1v1h-1zM32 21h1v1h-1zM1 23h1v1h-1zM20 23h1v1h-1zM8 24h1v1h-1zM10 25h1v1h-1zM25 28h1v1h-1zM6 29h1v1h-1zM15 29h2v1h-2zM26 30h1v1h-1zM3 32h1v1h-1zM15 33h1v1h-1zM31 33h1v1h-1zM3 34h1v1h-1zM6 35h1v1h-1zM9 36h1v1h-1zM1 37h1v1h-1zM3 38h2v1h-2zM19 38h1v1h-1zM24 38h1v1h-1z"/>
<path fill="#141414" d="M25 0h1v1h-1zM23 2h1v1h-1zM7 3h1v1h-1zM25 4h1v1h-1zM21 5h1v1h-1zM8 7h1v1h-1zM2 8h1v1h-1zM9 8h1v1h-1zM13 9h1v1h-1zM10 11h1v1h-1zM16 14h1v1h-1zM3 15h1v1h-1zM14 16h1v1h-1zM10 17h1v1h-1zM8 18h1v1h-1zM18 20h1v1h-1zM8 21h1v1h-1zM12 22h1v1h-1zM22 23h1v1h-1zM30 23h1v1h-1zM6 25h1v1h-1zM13 28h1v1h-1zM25 29h1v1h-1zM19 33h1v1h-1zM11 34h1v1h-1zM19 36h1v1h-1zM27 36h1v1h-1zM25 37h1v1h-1zM5 38h1v1h-1zM13 39h1v1h-1z"/>
<path fill="#181818" d="M11 1h1v1h-1zM15 1h1v1h-1zM4 2h1v1h-1zM8 2h1v1h-1zM16 5h1v1h-1zM28 6h1v1h-1zM18 7h1v1h-1zM27 7h1v1h-1zM32 7h1v1h-1zM27 8h1v1h-1zM29 9h1v1h-1zM0 11h1v1h-1zM22 11h1v1h-1zM0 12h1v1h-1zM9 13h1v1h-1zM32 13h1v1h-1zM17 14h1v1h-1zM20 15h1v1h-1zM27 15h1v1h-1zM6 17h1v1h-1zM12 19h1v1h-1zM23 19h1v1h-1zM23 20h1v1h-1zM0 21h1v1h-1zM3 22h1v1h-1zM11 22h1v1h-1zM15 22h1v1h-1zM19 22h1v1h-1zM23 23h1v1h-1zM2 24h2v1h-2zM11 24h1v1h-1zM31 24h1v1h-1zM0 26h1v1h-1zM5 26h1v1h-1zM30 26h1v1h-1zM32 26h1v1h-1zM7 27h1v1h-1zM29 27h1v1h-1zM19 32h1v1h-1zM30 34h1v1h-1zM9 35h1v1h-1zM15 35h1v1h-1zM3 37h1v1h-1zM13 38h1v1h-1zM27 39h1v1h-1z"/>
<path fill="#1c1c1c" d="M3 1h1v1h-1zM11 2h1v1h-1zM26 3h1v1h-1zM28 3h1v1h-1zM30 3h1v1h-1zM1 7h1v1h-1zM16 9h1v1h-1zM5 12h1v1h-1zM11 13h1v1h-1zM1 18h1v1h-1zM1 19h1v1h-1zM17 20h1v1h-1zM10 21h1v1h-1zM9 22h1v1h-1zM16 22h1v1h-1zM18 22h1v1h-1zM2 23h1v1h-1zM8 25h1v1h-1zM15 25h1v1h-1zM17 26h1v1h-1zM18 28h1v1h-1zM2 30h1v1h-1zM18 30h1v1h-1zM7 31h1v1h-1zM19 31h1v1h-1zM8 32h1v1h-1zM24 32h1v1h-1zM14 33h1v1h-1zM24 33h1v1h-1zM8 34h1v1h-1zM17 34h1v1h-1zM1 35h1v1h-1zM11 35h1v1h-1zM21 35h1v1h-1zM32 35h1v1h-1zM1 38h1v1h-1zM22 38h2v1h-2zM5 39h1v1h-1z"/>
<path fill="#202020" d="M3 0h1v1h-1zM18 2h1v1h-1zM11 4h1v1h-1zM20 6h1v1h-1zM5 7h1v1h-1zM10 7h1v1h-1zM20 7h1v1h-1zM25 8h1v1h-1zM22 10h1v1h-1zM18 12h1v1h-1zM25 13h1v1h-1zM19 15h1v1h-1zM29 15h1v1h-1zM12 21h1v1h-1zM18 21h1v1h-1zM28 23h1v1h-1zM20 24h1v1h-1zM21 25h1v1h-1zM2 27h1v1h-1zM7 29h1v1h-1zM7 30h1v1h-1zM15 32h1v1h-1zM9 34h1v1h-1zM21 34h1v1h-1zM10 35h1v1h-1zM28 35h1v1h-1zM29 36h1v1h-1zM3 39h1v1h-1z"/>
<path fill="#242424" d="M7 1h1v1h-1zM3 3h1v1h-1zM23 3h1v1h-1zM32 3h1v1h-1zM4 4h1v1h-1zM25 7h1v1h-1zM15 10h1v1h-1zM10 12h1v1h-1zM20 13h1v1h-1zM10 23h1v1h-1zM14 23h1v1h-1zM13 25h1v1h-1zM27 29h1v1h-1zM17 35h1v1h-1zM28 39h1v1h-1z"/>
<path fill="#282828" d="M1 0h1v1h-1zM32 2h1v1h-1zM17 5h1v1h-1zM26 9h1v1h-1zM29 12h1v1h-1zM32 12h1v1h-1zM24 15h1v1h-1zM25 18h1v1h-1zM16 21h1v1h-1zM23 21h1v1h-1zM32 22h1v1h-1zM19 24h1v1h-1zM20 29h1v1h-1zM13 33h1v1h-1zM20 33h1v1h-1zM16 34h1v1h-1zM30 35h1v1h-1zM25 39h1v1h-1z"/>
<path fill="#2c2c2c" d="M5 0h1v1h-1zM18 3h1v1h-1zM14 5h1v1h-1zM2 6h1v1h-1zM21 10h1v1h-1zM26 12h1v1h-1zM12 16h1v1h-1zM16 16h1v1h-1zM29 17h1v1h-1zM14 18h1v1h-1zM30 21h1v1h-1zM6 30h1v1h-1zM17 30h1v1h-1zM3 31h1v1h-1zM16 36h1v1h-1z"/>
<path fill="#303030" d="M12 6h1v1h-1zM18 8h1v1h-1zM11 10h1v1h-1zM17 11h1v1h-1zM14 12h1v1h-1zM8 13h1v1h-1zM13 16h1v1h-1zM21 17h1v1h-1zM5 23h1v1h-1zM19 23h1v1h-1zM26 23h1v1h-1zM13 24h1v1h-1zM16 24h1v1h-1zM2 28h1v1h-1zM1 31h1v1h-1zM30 38h1v1h-1z"/>
<path fill="#343434" d="M21 0h1v1h-1zM17 3h1v1h-1zM27 5h1v1h-1zM18 10h1v1h-1zM23 12h1v1h-1zM6 19h1v1h-1zM11 19h1v1h-1zM28 20h1v1h-1zM7 23h1v1h-1zM22 24h1v1h-1zM0 28h1v1h-1zM22 28h1v1h-1zM32 32h1v1h-1zM2 34h1v1h-1zM27 34h1v1h-1zM23 37h1v1h-1zM16 38h1v1h-1z"/>
<path fill="#383838" d="M9 1h1v1h-1zM18 1h1v1h-1zM14 4h1v1h-1zM18 9h1v1h-1zM23 9h1v1h-1zM29 10h1v1h-1zM18 14h1v1h-1zM28 19h1v1h-1zM27 21h1v1h-1zM26 24h1v1h-1zM20 26h1v1h-1zM32 33h1v1h-1zM16 35h1v1h-1zM30 37h1v1h-1zM4 39h1v1h-1zM9 39h1v1h-1z"/>
<path fill="#3c3c3c" d="M29 1h1v1h-1zM16 17h1v1h-1zM2 22h1v1h-1zM3 26h1v1h-1zM12 29h1v1h-1zM0 30h1v1h-1zM8 36h1v1h-1zM32 39h1v1h-1z"/>
<path fill="#404040" d="M28 2h1v1h-1zM19 5h1v1h-1zM9 10h1v1h-1zM28 10h1v1h-1zM21 11h1v1h-1zM5 17h1v1h-1zM17 18h1v1h-1zM18 19h1v1h-1zM31 20h1v1h-1zM11 31h1v1h-1zM27 32h1v1h-1zM10 33h1v1h-1zM20 37h1v1h-1z"/>
<path fill="#444444" d="M18 0h1v1h-1zM12 4h1v1h-1zM6 5h1v1h-1zM32 16h1v1h-1zM18 25h1v1h-1zM26 25h1v1h-1zM6 27h1v1h-1zM10 28h1v1h-1zM32 30h1v1h-1zM29 38h1v1h-1z"/>
<path fill="#484848" d="M32 5h1v1h-1zM24 8h1v1h-1zM26 8h1v1h-1zM30 11h1v1h-1zM5 13h1v1h-1zM7 16h1v1h-1zM20 19h1v1h-1zM15 30h1v1h-1zM25 32h1v1h-1zM26 37h1v1h-1z"/>
<path fill="#4c4c4c" d="M8 1h1v1h-1zM24 2h1v1h-1zM0 3h1v1h-1zM30 4h1v1h-1zM26 5h1v1h-1zM7 6h1v1h-1zM7 7h1v1h-1zM4 8h1v1h-1zM6 8h1v1h-1zM20 9h1v1h-1zM24 20h1v1h-1zM25 21h1v1h-1zM4 24h1v1h-1zM20 27h1v1h-1zM30 27h1v1h-1zM8 28h1v1h-1zM22 35h1v1h-1z"/>
<path fill="#505050" d="M10 16h1v1h-1zM25 27h1v1h-1zM5 32h1v1h-1z"/>
<path fill="#545454" d="M22 14h1v1h-1zM10 26h1v1h-1zM32 28h1v1h-1zM21 33h1v1h-1z"/>
<path fill="#585858" d="M26 14h1v1h-1zM11 15h1v1h-1zM13 20h1v1h-1zM20 20h1v1h-1zM21 32h1v1h-1zM16 37h1v1h-1z"/>
<path fill="#5c5c5c" d="M24 3h1v1h-1zM6 10h1v1h-1zM25 12h1v1h-1zM22 13h1v1h-1zM15 24h1v1h-1zM24 34h1v1h-1z"/>
<path fill="#606060" d="M22 2h1v1h-1zM31 6h1v1h-1zM4 19h1v1h-1zM0 31h1v1h-1zM3 36h1v1h-1z"/>
<path fill="#646464" d="M7 14h1v1h-1zM7 19h1v1h-1zM23 28h1v1h-1zM4 32h1v1h-1z"/>
<path fill="#6c6c6c" d="M24 1h1v1h-1zM22 16h1v1h-1zM22 22h1v1h-1zM9 29h1v1h-1zM8 30h1v1h-1zM22 34h1v1h-1zM24 39h1v1h-1z"/>
<path fill="#707070" d="M13 18h1v1h-1zM19 18h1v1h-1zM27 19h1v1h-1zM0 23h1v1h-1z"/>
<path fill="#747474" d="M28 14h1v1h-1z"/>
<path fill="#787878" d="M10 3h1v1h-1z"/>
<path fill="#7c7c7c" d="M19 10h1v1h-1z"/>
<path fill="#909090" d="M5 15h1v1h-1z"/>
</g></g></g>
<g clip-path="url(#cp6)">
<g filter="url(#hb2)"><g transform="translate(548,27.1) scale(1,8.96000)">
<rect x="-2" y="-2" width="37" height="44" fill="rgb(0,0,0)"/>
<path fill="#040404" d="M7 1h1v1h-1zM16 1h1v1h-1zM9 2h1v1h-1zM22 2h1v1h-1zM27 2h1v1h-1zM1 3h1v1h-1zM5 4h1v1h-1zM28 4h1v1h-1zM30 4h1v1h-1zM3 5h1v1h-1zM10 5h1v1h-1zM22 6h2v1h-2zM27 6h2v1h-2zM13 7h1v1h-1zM24 9h1v1h-1zM10 10h2v1h-2zM7 12h1v1h-1zM11 13h2v1h-2zM23 13h1v1h-1zM24 14h1v1h-1zM5 15h1v1h-1zM23 15h1v1h-1zM31 15h1v1h-1zM31 16h1v1h-1zM0 17h1v1h-1zM6 18h1v1h-1zM15 18h1v1h-1zM21 18h1v1h-1zM2 20h3v1h-3zM12 21h1v1h-1zM18 21h1v1h-1zM27 21h1v1h-1zM2 22h1v1h-1zM11 22h1v1h-1zM30 22h1v1h-1zM6 24h1v1h-1zM9 24h1v1h-1zM15 24h1v1h-1zM29 26h1v1h-1zM32 26h1v1h-1zM14 28h1v1h-1zM21 28h1v1h-1zM29 28h1v1h-1zM8 29h1v1h-1zM22 29h1v1h-1zM29 29h1v1h-1zM32 29h1v1h-1zM5 30h1v1h-1zM23 31h1v1h-1zM7 32h1v1h-1zM16 32h2v1h-2zM12 33h1v1h-1zM12 34h1v1h-1zM15 34h1v1h-1zM31 35h1v1h-1zM19 36h1v1h-1zM16 37h1v1h-1zM23 37h1v1h-1zM25 37h1v1h-1zM9 38h1v1h-1zM19 38h1v1h-1zM32 38h1v1h-1z"/>
<path fill="#080808" d="M10 0h1v1h-1zM0 2h1v1h-1zM6 2h1v1h-1zM14 2h1v1h-1zM25 2h2v1h-2zM5 3h1v1h-1zM2 4h1v1h-1zM13 5h1v1h-1zM18 5h1v1h-1zM15 7h1v1h-1zM26 7h1v1h-1zM14 8h1v1h-1zM28 8h1v1h-1zM30 8h1v1h-1zM1 10h1v1h-1zM5 10h1v1h-1zM7 10h1v1h-1zM21 10h1v1h-1zM19 11h1v1h-1zM24 12h1v1h-1zM4 13h1v1h-1zM30 13h1v1h-1zM2 14h1v1h-1zM16 16h1v1h-1zM30 16h1v1h-1zM9 18h1v1h-1zM19 18h1v1h-1zM27 18h1v1h-1zM30 18h1v1h-1zM8 21h1v1h-1zM30 21h1v1h-1zM7 22h1v1h-1zM18 22h1v1h-1zM4 26h1v1h-1zM6 26h1v1h-1zM26 26h1v1h-1zM2 27h1v1h-1zM19 27h1v1h-1zM8 28h1v1h-1zM4 29h1v1h-1zM23 29h2v1h-2zM28 29h1v1h-1zM8 30h1v1h-1zM7 31h1v1h-1zM23 33h1v1h-1zM1 34h1v1h-1zM6 35h1v1h-1zM22 35h1v1h-1zM18 36h1v1h-1zM30 36h1v1h-1zM31 38h1v1h-1zM2 39h1v1h-1zM6 39h1v1h-1zM17 39h1v1h-1z"/>
<path fill="#0c0c0c" d="M1 1h1v1h-1zM4 2h1v1h-1zM29 2h1v1h-1zM18 4h1v1h-1zM20 4h1v1h-1zM1 6h1v1h-1zM29 8h1v1h-1zM13 9h1v1h-1zM8 10h1v1h-1zM20 10h1v1h-1zM24 11h1v1h-1zM29 11h1v1h-1zM3 12h1v1h-1zM21 12h1v1h-1zM17 14h2v1h-2zM4 15h1v1h-1zM18 15h1v1h-1zM10 16h1v1h-1zM12 16h1v1h-1zM22 17h1v1h-1zM10 19h1v1h-1zM16 19h1v1h-1zM20 19h1v1h-1zM6 20h1v1h-1zM0 21h1v1h-1zM7 21h1v1h-1zM11 21h1v1h-1zM25 22h1v1h-1zM21 23h2v1h-2zM0 25h1v1h-1zM31 25h1v1h-1zM13 26h1v1h-1zM21 27h1v1h-1zM23 28h1v1h-1zM32 28h1v1h-1zM31 29h1v1h-1zM2 30h1v1h-1zM17 31h1v1h-1zM24 31h1v1h-1zM3 32h2v1h-2zM29 32h1v1h-1zM19 35h1v1h-1zM16 36h1v1h-1zM25 36h1v1h-1zM8 37h1v1h-1zM12 39h1v1h-1z"/>
<path fill="#101010" d="M25 1h1v1h-1zM15 6h1v1h-1zM24 7h1v1h-1zM19 8h1v1h-1zM12 9h1v1h-1zM29 10h1v1h-1zM6 11h1v1h-1zM30 11h1v1h-1zM13 12h1v1h-1zM20 13h1v1h-1zM2 15h1v1h-1zM11 15h1v1h-1zM14 15h1v1h-1zM21 16h1v1h-1zM25 16h1v1h-1zM28 17h1v1h-1zM8 18h1v1h-1zM5 19h1v1h-1zM12 19h1v1h-1zM32 19h1v1h-1zM17 20h1v1h-1zM19 22h1v1h-1zM4 23h1v1h-1zM16 23h1v1h-1zM18 23h1v1h-1zM28 23h1v1h-1zM0 24h1v1h-1zM26 24h1v1h-1zM10 26h1v1h-1zM12 30h1v1h-1zM15 30h1v1h-1zM4 31h2v1h-2zM19 31h1v1h-1zM8 32h1v1h-1zM3 33h1v1h-1zM22 34h1v1h-1zM4 35h1v1h-1zM9 35h1v1h-1zM27 35h1v1h-1zM15 36h1v1h-1zM21 36h1v1h-1zM7 37h1v1h-1zM13 37h1v1h-1zM30 37h1v1h-1zM12 38h1v1h-1zM15 38h1v1h-1z"/>
<path fill="#141414" d="M9 0h1v1h-1zM28 2h1v1h-1zM21 3h1v1h-1zM9 4h1v1h-1zM27 5h1v1h-1zM21 6h1v1h-1zM21 7h1v1h-1zM15 10h1v1h-1zM28 10h1v1h-1zM28 13h1v1h-1zM29 16h1v1h-1zM3 17h1v1h-1zM19 17h1v1h-1zM2 19h1v1h-1zM11 19h1v1h-1zM27 20h1v1h-1zM32 20h1v1h-1zM1 22h1v1h-1zM12 24h1v1h-1zM21 24h1v1h-1zM29 24h1v1h-1zM2 26h1v1h-1zM3 28h1v1h-1zM30 30h1v1h-1zM12 31h1v1h-1zM1 35h1v1h-1zM9 37h1v1h-1zM28 38h1v1h-1zM0 39h1v1h-1z"/>
<path fill="#181818" d="M10 3h1v1h-1zM32 3h1v1h-1zM32 4h1v1h-1zM19 5h1v1h-1zM4 8h1v1h-1zM26 9h1v1h-1zM14 11h1v1h-1zM25 12h1v1h-1zM13 14h1v1h-1zM27 15h1v1h-1zM3 16h1v1h-1zM17 16h1v1h-1zM11 17h1v1h-1zM29 18h1v1h-1zM32 18h1v1h-1zM8 20h1v1h-1zM20 21h1v1h-1zM20 23h1v1h-1zM20 25h1v1h-1zM3 26h1v1h-1zM24 27h1v1h-1zM1 29h1v1h-1zM4 30h1v1h-1zM7 30h1v1h-1zM21 30h1v1h-1zM2 31h1v1h-1zM15 31h1v1h-1zM29 31h1v1h-1zM14 32h1v1h-1zM19 32h1v1h-1zM21 34h1v1h-1zM14 35h1v1h-1zM11 36h1v1h-1zM23 36h1v1h-1zM21 39h1v1h-1z"/>
<path fill="#1c1c1c" d="M1 0h1v1h-1zM29 0h1v1h-1zM18 3h1v1h-1zM17 6h1v1h-1zM18 7h1v1h-1zM8 8h1v1h-1zM12 8h1v1h-1zM21 9h1v1h-1zM17 11h1v1h-1zM25 11h1v1h-1zM8 15h1v1h-1zM17 15h1v1h-1zM29 15h1v1h-1zM8 19h1v1h-1zM14 22h1v1h-1zM17 23h1v1h-1zM10 24h1v1h-1zM22 24h1v1h-1zM30 25h1v1h-1zM13 27h1v1h-1zM30 28h1v1h-1zM16 29h1v1h-1zM19 29h1v1h-1zM22 30h2v1h-2zM0 32h1v1h-1zM15 32h1v1h-1zM24 33h1v1h-1zM17 36h1v1h-1zM1 37h1v1h-1zM5 39h1v1h-1z"/>
<path fill="#202020" d="M14 0h1v1h-1zM5 2h1v1h-1zM14 5h1v1h-1zM9 11h1v1h-1zM11 11h1v1h-1zM17 12h1v1h-1zM11 16h1v1h-1zM21 17h1v1h-1zM4 18h1v1h-1zM22 18h1v1h-1zM14 21h1v1h-1zM28 24h1v1h-1zM23 25h1v1h-1zM22 28h1v1h-1zM17 29h1v1h-1zM21 32h1v1h-1zM28 33h1v1h-1zM7 34h1v1h-1zM1 36h1v1h-1zM13 38h1v1h-1zM22 38h1v1h-1zM31 39h1v1h-1z"/>
<path fill="#242424" d="M14 1h1v1h-1zM26 3h1v1h-1zM4 4h1v1h-1zM21 5h1v1h-1zM14 9h1v1h-1zM7 11h1v1h-1zM29 12h1v1h-1zM29 17h1v1h-1zM1 20h1v1h-1zM20 20h1v1h-1zM6 22h1v1h-1zM2 23h1v1h-1zM14 24h1v1h-1zM19 24h1v1h-1zM8 25h1v1h-1zM11 25h1v1h-1zM21 25h1v1h-1zM1 28h1v1h-1zM20 29h1v1h-1zM0 31h1v1h-1zM21 37h1v1h-1zM13 39h1v1h-1z"/>
<path fill="#282828" d="M2 0h1v1h-1zM32 1h1v1h-1zM25 3h1v1h-1zM2 5h1v1h-1zM10 6h1v1h-1zM16 11h1v1h-1zM22 14h1v1h-1zM29 14h1v1h-1zM6 21h1v1h-1zM15 22h1v1h-1zM24 26h1v1h-1zM0 28h1v1h-1zM9 31h1v1h-1zM31 32h1v1h-1zM16 33h1v1h-1zM24 36h1v1h-1zM29 36h1v1h-1zM15 37h1v1h-1zM31 37h1v1h-1zM16 39h1v1h-1z"/>
<path fill="#2c2c2c" d="M24 1h1v1h-1zM12 2h1v1h-1zM20 6h1v1h-1zM13 8h1v1h-1zM18 9h1v1h-1zM6 10h1v1h-1zM18 10h1v1h-1zM30 12h1v1h-1zM5 13h1v1h-1zM9 15h2v1h-2zM13 17h1v1h-1zM7 27h1v1h-1zM12 28h1v1h-1zM11 31h1v1h-1zM30 33h1v1h-1zM0 35h1v1h-1zM7 35h1v1h-1zM3 37h1v1h-1zM5 37h1v1h-1zM16 38h1v1h-1z"/>
<path fill="#303030" d="M13 3h1v1h-1zM23 4h1v1h-1zM8 13h1v1h-1zM26 14h1v1h-1zM0 15h1v1h-1zM20 15h1v1h-1zM15 16h1v1h-1zM5 18h1v1h-1zM0 20h1v1h-1zM3 22h1v1h-1zM11 24h1v1h-1zM16 24h2v1h-2zM9 28h1v1h-1zM14 34h1v1h-1zM29 35h1v1h-1zM4 38h1v1h-1zM29 38h1v1h-1z"/>
<path fill="#343434" d="M2 1h1v1h-1zM6 3h1v1h-1zM2 7h1v1h-1zM2 11h1v1h-1zM1 13h1v1h-1zM14 13h1v1h-1zM32 13h1v1h-1zM26 16h1v1h-1zM1 18h1v1h-1zM7 18h1v1h-1zM1 19h1v1h-1zM12 22h1v1h-1zM16 22h1v1h-1zM12 23h1v1h-1zM18 24h1v1h-1zM14 31h1v1h-1zM25 34h1v1h-1z"/>
<path fill="#383838" d="M13 1h1v1h-1zM19 2h1v1h-1zM5 5h1v1h-1zM11 6h1v1h-1zM6 13h1v1h-1zM20 14h1v1h-1zM31 17h1v1h-1zM19 19h1v1h-1zM27 19h1v1h-1zM2 28h1v1h-1zM18 29h1v1h-1zM29 30h1v1h-1zM17 35h1v1h-1zM0 37h1v1h-1zM29 37h1v1h-1z"/>
<path fill="#3c3c3c" d="M24 4h1v1h-1zM16 6h1v1h-1zM16 7h1v1h-1zM10 17h1v1h-1zM30 19h1v1h-1zM10 22h1v1h-1zM21 29h1v1h-1zM18 34h1v1h-1zM7 36h1v1h-1z"/>
<path fill="#404040" d="M22 1h1v1h-1zM27 1h1v1h-1zM17 3h1v1h-1zM16 9h1v1h-1zM8 17h1v1h-1zM16 17h1v1h-1zM27 17h1v1h-1zM12 20h1v1h-1zM4 25h1v1h-1zM13 35h1v1h-1zM22 37h1v1h-1zM11 39h1v1h-1z"/>
<path fill="#444444" d="M4 5h1v1h-1zM9 5h1v1h-1zM19 9h1v1h-1zM1 12h1v1h-1zM10 13h1v1h-1zM25 13h1v1h-1zM19 16h1v1h-1zM17 22h1v1h-1zM7 25h1v1h-1zM4 34h1v1h-1zM2 37h1v1h-1z"/>
<path fill="#484848" d="M19 7h1v1h-1zM18 11h1v1h-1zM18 18h1v1h-1zM28 19h1v1h-1zM22 21h1v1h-1zM11 26h1v1h-1zM10 30h1v1h-1zM1 31h1v1h-1zM22 31h1v1h-1z"/>
<path fill="#4c4c4c" d="M2 13h1v1h-1zM20 26h1v1h-1zM24 28h1v1h-1zM1 30h1v1h-1zM25 31h1v1h-1zM28 31h1v1h-1zM28 36h1v1h-1zM1 39h1v1h-1z"/>
<path fill="#505050" d="M3 2h1v1h-1zM24 5h1v1h-1zM8 7h1v1h-1zM30 15h1v1h-1zM19 20h1v1h-1zM30 23h1v1h-1zM24 25h1v1h-1zM16 27h1v1h-1zM32 31h1v1h-1zM4 36h1v1h-1zM1 38h1v1h-1z"/>
<path fill="#545454" d="M7 3h1v1h-1zM14 6h1v1h-1zM9 21h1v1h-1zM18 27h1v1h-1z"/>
<path fill="#585858" d="M16 8h1v1h-1zM0 9h1v1h-1zM25 14h1v1h-1zM5 25h1v1h-1zM26 25h1v1h-1zM8 35h1v1h-1z"/>
<path fill="#5c5c5c" d="M25 0h1v1h-1zM4 9h1v1h-1zM22 11h1v1h-1zM22 22h1v1h-1zM8 36h1v1h-1zM27 38h1v1h-1zM18 39h1v1h-1z"/>
<path fill="#606060" d="M7 19h1v1h-1z"/>
<path fill="#646464" d="M29 22h1v1h-1zM23 34h1v1h-1z"/>
<path fill="#686868" d="M13 13h1v1h-1zM26 32h1v1h-1z"/>
<path fill="#6c6c6c" d="M19 21h1v1h-1zM9 29h1v1h-1zM6 37h1v1h-1z"/>
<path fill="#707070" d="M31 20h1v1h-1z"/>
<path fill="#747474" d="M29 20h1v1h-1zM8 22h1v1h-1zM16 31h1v1h-1zM6 32h1v1h-1z"/>
<path fill="#787878" d="M5 8h1v1h-1z"/>
<path fill="#7c7c7c" d="M23 17h1v1h-1z"/>
<path fill="#808080" d="M20 2h1v1h-1z"/>
<path fill="#848484" d="M29 1h1v1h-1zM22 13h1v1h-1zM6 38h1v1h-1z"/>
<path fill="#888888" d="M27 23h1v1h-1z"/>
<path fill="#9c9c9c" d="M27 22h1v1h-1z"/>
</g></g></g>
<rect x="61.3" y="27.1" width="32.9" height="358.4" fill="none" stroke="#000" stroke-width="1"/>
<path d="M56.9 27.1H61.3M56.9 71.9H61.3M56.9 116.7H61.3M56.9 161.5H61.3M56.9 206.3H61.3M56.9 251.1H61.3M56.9 295.9H61.3M56.9 340.7H61.3M56.9 385.5H61.3M61.3 385.5v4.4M94.2 385.5v4.4" stroke="#000" stroke-width="1" fill="none"/>
<text transform="translate(52.0,32.1) scale(1,1.06)" text-anchor="end" class="t">40</text>
<text transform="translate(52.0,76.9) scale(1,1.06)" text-anchor="end" class="t">35</text>
<text transform="translate(52.0,121.7) scale(1,1.06)" text-anchor="end" class="t">30</text>
<text transform="translate(52.0,166.5) scale(1,1.06)" text-anchor="end" class="t">25</text>
<text transform="translate(52.0,211.3) scale(1,1.06)" text-anchor="end" class="t">20</text>
<text transform="translate(52.0,256.1) scale(1,1.06)" text-anchor="end" class="t">15</text>
<text transform="translate(52.0,300.9) scale(1,1.06)" text-anchor="end" class="t">10</text>
<text transform="translate(52.0,345.7) scale(1,1.06)" text-anchor="end" class="t">5</text>
<text transform="translate(52.0,390.5) scale(1,1.06)" text-anchor="end" class="t">0</text>
<text transform="translate(61.3,404.8) scale(1,1.06)" text-anchor="middle" class="t">0</text>
<text transform="translate(94.2,404.8) scale(1,1.06)" text-anchor="middle" class="t">81</text>
<text transform="translate(77.8,423.2) scale(1,1.07)" text-anchor="middle" class="tk">Tasks</text>
<text transform="translate(77.8,14.0) scale(1,1.03)" text-anchor="middle" class="ti">Ep: 1</text>
<rect x="142.4" y="27.1" width="32.9" height="358.4" fill="none" stroke="#000" stroke-width="1"/>
<path d="M138.0 27.1H142.4M138.0 71.9H142.4M138.0 116.7H142.4M138.0 161.5H142.4M138.0 206.3H142.4M138.0 251.1H142.4M138.0 295.9H142.4M138.0 340.7H142.4M138.0 385.5H142.4M142.4 385.5v4.4M175.3 385.5v4.4" stroke="#000" stroke-width="1" fill="none"/>
<text transform="translate(133.1,32.1) scale(1,1.06)" text-anchor="end" class="t">40</text>
<text transform="translate(133.1,76.9) scale(1,1.06)" text-anchor="end" class="t">35</text>
<text transform="translate(133.1,121.7) scale(1,1.06)" text-anchor="end" class="t">30</text>
<text transform="translate(133.1,166.5) scale(1,1.06)" text-anchor="end" class="t">25</text>
<text transform="translate(133.1,211.3) scale(1,1.06)" text-anchor="end" class="t">20</text>
<text transform="translate(133.1,256.1) scale(1,1.06)" text-anchor="end" class="t">15</text>
<text transform="translate(133.1,300.9) scale(1,1.06)" text-anchor="end" class="t">10</text>
<text transform="translate(133.1,345.7) scale(1,1.06)" text-anchor="end" class="t">5</text>
<text transform="translate(133.1,390.5) scale(1,1.06)" text-anchor="end" class="t">0</text>
<text transform="translate(142.4,404.8) scale(1,1.06)" text-anchor="middle" class="t">0</text>
<text transform="translate(175.3,404.8) scale(1,1.06)" text-anchor="middle" class="t">81</text>
<text transform="translate(158.8,423.2) scale(1,1.07)" text-anchor="middle" class="tk">Tasks</text>
<text transform="translate(158.8,14.0) scale(1,1.03)" text-anchor="middle" class="ti">Ep: 5</text>
<rect x="223.5" y="27.1" width="32.9" height="358.4" fill="none" stroke="#000" stroke-width="1"/>
<path d="M219.1 27.1H223.5M219.1 71.9H223.5M219.1 116.7H223.5M219.1 161.5H223.5M219.1 206.3H223.5M219.1 251.1H223.5M219.1 295.9H223.5M219.1 340.7H223.5M219.1 385.5H223.5M223.5 385.5v4.4M256.4 385.5v4.4" stroke="#000" stroke-width="1" fill="none"/>
<text transform="translate(214.2,32.1) scale(1,1.06)" text-anchor="end" class="t">40</text>
<text transform="translate(214.2,76.9) scale(1,1.06)" text-anchor="end" class="t">35</text>
<text transform="translate(214.2,121.7) scale(1,1.06)" text-anchor="end" class="t">30</text>
<text transform="translate(214.2,166.5) scale(1,1.06)" text-anchor="end" class="t">25</text>
<text transform="translate(214.2,211.3) scale(1,1.06)" text-anchor="end" class="t">20</text>
<text transform="translate(214.2,256.1) scale(1,1.06)" text-anchor="end" class="t">15</text>
<text transform="translate(214.2,300.9) scale(1,1.06)" text-anchor="end" class="t">10</text>
<text transform="translate(214.2,345.7) scale(1,1.06)" text-anchor="end" class="t">5</text>
<text transform="translate(214.2,390.5) scale(1,1.06)" text-anchor="end" class="t">0</text>
<text transform="translate(223.5,404.8) scale(1,1.06)" text-anchor="middle" class="t">0</text>
<text transform="translate(256.4,404.8) scale(1,1.06)" text-anchor="middle" class="t">81</text>
<text transform="translate(239.9,423.2) scale(1,1.07)" text-anchor="middle" class="tk">Tasks</text>
<text transform="translate(239.9,14.0) scale(1,1.03)" text-anchor="middle" class="ti">Ep: 10</text>
<rect x="304.6" y="27.1" width="32.9" height="358.4" fill="none" stroke="#000" stroke-width="1"/>
<path d="M300.2 27.1H304.6M300.2 71.9H304.6M300.2 116.7H304.6M300.2 161.5H304.6M300.2 206.3H304.6M300.2 251.1H304.6M300.2 295.9H304.6M300.2 340.7H304.6M300.2 385.5H304.6M304.6 385.5v4.4M337.5 385.5v4.4" stroke="#000" stroke-width="1" fill="none"/>
<text transform="translate(295.3,32.1) scale(1,1.06)" text-anchor="end" class="t">40</text>
<text transform="translate(295.3,76.9) scale(1,1.06)" text-anchor="end" class="t">35</text>
<text transform="translate(295.3,121.7) scale(1,1.06)" text-anchor="end" class="t">30</text>
<text transform="translate(295.3,166.5) scale(1,1.06)" text-anchor="end" class="t">25</text>
<text transform="translate(295.3,211.3) scale(1,1.06)" text-anchor="end" class="t">20</text>
<text transform="translate(295.3,256.1) scale(1,1.06)" text-anchor="end" class="t">15</text>
<text transform="translate(295.3,300.9) scale(1,1.06)" text-anchor="end" class="t">10</text>
<text transform="translate(295.3,345.7) scale(1,1.06)" text-anchor="end" class="t">5</text>
<text transform="translate(295.3,390.5) scale(1,1.06)" text-anchor="end" class="t">0</text>
<text transform="translate(304.6,404.8) scale(1,1.06)" text-anchor="middle" class="t">0</text>
<text transform="translate(337.5,404.8) scale(1,1.06)" text-anchor="middle" class="t">81</text>
<text transform="translate(321.0,423.2) scale(1,1.07)" text-anchor="middle" class="tk">Tasks</text>
<text transform="translate(321.0,14.0) scale(1,1.03)" text-anchor="middle" class="ti">Ep: 15</text>
<rect x="385.7" y="27.1" width="32.9" height="358.4" fill="none" stroke="#000" stroke-width="1"/>
<path d="M381.3 27.1H385.7M381.3 71.9H385.7M381.3 116.7H385.7M381.3 161.5H385.7M381.3 206.3H385.7M381.3 251.1H385.7M381.3 295.9H385.7M381.3 340.7H385.7M381.3 385.5H385.7M385.7 385.5v4.4M418.6 385.5v4.4" stroke="#000" stroke-width="1" fill="none"/>
<text transform="translate(376.4,32.1) scale(1,1.06)" text-anchor="end" class="t">40</text>
<text transform="translate(376.4,76.9) scale(1,1.06)" text-anchor="end" class="t">35</text>
<text transform="translate(376.4,121.7) scale(1,1.06)" text-anchor="end" class="t">30</text>
<text transform="translate(376.4,166.5) scale(1,1.06)" text-anchor="end" class="t">25</text>
<text transform="translate(376.4,211.3) scale(1,1.06)" text-anchor="end" class="t">20</text>
<text transform="translate(376.4,256.1) scale(1,1.06)" text-anchor="end" class="t">15</text>
<text transform="translate(376.4,300.9) scale(1,1.06)" text-anchor="end" class="t">10</text>
<text transform="translate(376.4,345.7) scale(1,1.06)" text-anchor="end" class="t">5</text>
<text transform="translate(376.4,390.5) scale(1,1.06)" text-anchor="end" class="t">0</text>
<text transform="translate(385.7,404.8) scale(1,1.06)" text-anchor="middle" class="t">0</text>
<text transform="translate(418.6,404.8) scale(1,1.06)" text-anchor="middle" class="t">81</text>
<text transform="translate(402.1,423.2) scale(1,1.07)" text-anchor="middle" class="tk">Tasks</text>
<text transform="translate(402.1,14.0) scale(1,1.03)" text-anchor="middle" class="ti">Ep: 20</text>
<rect x="466.8" y="27.1" width="32.9" height="358.4" fill="none" stroke="#000" stroke-width="1"/>
<path d="M462.4 27.1H466.8M462.4 71.9H466.8M462.4 116.7H466.8M462.4 161.5H466.8M462.4 206.3H466.8M462.4 251.1H466.8M462.4 295.9H466.8M462.4 340.7H466.8M462.4 385.5H466.8M466.8 385.5v4.4M499.7 385.5v4.4" stroke="#000" stroke-width="1" fill="none"/>
<text transform="translate(457.5,32.1) scale(1,1.06)" text-anchor="end" class="t">40</text>
<text transform="translate(457.5,76.9) scale(1,1.06)" text-anchor="end" class="t">35</text>
<text transform="translate(457.5,121.7) scale(1,1.06)" text-anchor="end" class="t">30</text>
<text transform="translate(457.5,166.5) scale(1,1.06)" text-anchor="end" class="t">25</text>
<text transform="translate(457.5,211.3) scale(1,1.06)" text-anchor="end" class="t">20</text>
<text transform="translate(457.5,256.1) scale(1,1.06)" text-anchor="end" class="t">15</text>
<text transform="translate(457.5,300.9) scale(1,1.06)" text-anchor="end" class="t">10</text>
<text transform="translate(457.5,345.7) scale(1,1.06)" text-anchor="end" class="t">5</text>
<text transform="translate(457.5,390.5) scale(1,1.06)" text-anchor="end" class="t">0</text>
<text transform="translate(466.8,404.8) scale(1,1.06)" text-anchor="middle" class="t">0</text>
<text transform="translate(499.7,404.8) scale(1,1.06)" text-anchor="middle" class="t">81</text>
<text transform="translate(483.2,423.2) scale(1,1.07)" text-anchor="middle" class="tk">Tasks</text>
<text transform="translate(483.2,14.0) scale(1,1.03)" text-anchor="middle" class="ti">Ep: 25</text>
<rect x="547.9" y="27.1" width="32.9" height="358.4" fill="none" stroke="#000" stroke-width="1"/>
<path d="M543.5 27.1H547.9M543.5 71.9H547.9M543.5 116.7H547.9M543.5 161.5H547.9M543.5 206.3H547.9M543.5 251.1H547.9M543.5 295.9H547.9M543.5 340.7H547.9M543.5 385.5H547.9M547.9 385.5v4.4M580.8 385.5v4.4" stroke="#000" stroke-width="1" fill="none"/>
<text transform="translate(538.6,32.1) scale(1,1.06)" text-anchor="end" class="t">40</text>
<text transform="translate(538.6,76.9) scale(1,1.06)" text-anchor="end" class="t">35</text>
<text transform="translate(538.6,121.7) scale(1,1.06)" text-anchor="end" class="t">30</text>
<text transform="translate(538.6,166.5) scale(1,1.06)" text-anchor="end" class="t">25</text>
<text transform="translate(538.6,211.3) scale(1,1.06)" text-anchor="end" class="t">20</text>
<text transform="translate(538.6,256.1) scale(1,1.06)" text-anchor="end" class="t">15</text>
<text transform="translate(538.6,300.9) scale(1,1.06)" text-anchor="end" class="t">10</text>
<text transform="translate(538.6,345.7) scale(1,1.06)" text-anchor="end" class="t">5</text>
<text transform="translate(538.6,390.5) scale(1,1.06)" text-anchor="end" class="t">0</text>
<text transform="translate(547.9,404.8) scale(1,1.06)" text-anchor="middle" class="t">0</text>
<text transform="translate(580.8,404.8) scale(1,1.06)" text-anchor="middle" class="t">81</text>
<text transform="translate(564.4,423.2) scale(1,1.07)" text-anchor="middle" class="tk">Tasks</text>
<text transform="translate(564.4,14.0) scale(1,1.03)" text-anchor="middle" class="ti">Ep: 30</text>
<text transform="translate(26.4,206.8) rotate(-90)" text-anchor="middle" class="ap">Apps</text>
<rect x="639.5" y="266.33" width="12.3" height="37.92" fill="#000080"/>
<rect x="639.5" y="228.47" width="12.3" height="37.92" fill="#2f4bff"/>
<rect x="639.5" y="190.60" width="12.3" height="37.92" fill="#8dfcd0"/>
<rect x="639.5" y="152.73" width="12.3" height="37.92" fill="#dcfc48"/>
<rect x="639.5" y="114.87" width="12.3" height="37.92" fill="#e0661a"/>
<rect x="639.5" y="77.00" width="12.3" height="37.92" fill="#6e0000"/>
<rect x="639.5" y="77.0" width="12.3" height="227.2" fill="none" stroke="#000" stroke-width="1"/>
<path d="M635.1 285.3H639.5" stroke="#000" stroke-width="1"/>
<text x="629.9" y="291.8" text-anchor="end" class="cb">1</text>
<path d="M635.1 247.4H639.5" stroke="#000" stroke-width="1"/>
<text x="629.9" y="253.9" text-anchor="end" class="cb">10</text>
<path d="M635.1 209.5H639.5" stroke="#000" stroke-width="1"/>
<text x="629.9" y="216.0" text-anchor="end" class="cb">20</text>
<path d="M635.1 171.7H639.5" stroke="#000" stroke-width="1"/>
<text x="629.9" y="178.2" text-anchor="end" class="cb">30</text>
<path d="M635.1 133.8H639.5" stroke="#000" stroke-width="1"/>
<text x="629.9" y="140.3" text-anchor="end" class="cb">40</text>
<path d="M635.1 95.9H639.5" stroke="#000" stroke-width="1"/>
<text x="629.9" y="102.4" text-anchor="end" class="cb">50</text>
<text transform="translate(669.3,190.5) rotate(-90)" text-anchor="middle" class="cb">Latency scale</text>
<text x="339.5" y="460.8" text-anchor="middle" class="cap">(a)</text>
<text x="95.7" y="743.5" text-anchor="middle" class="cap">(b)</text>
<text x="302.1" y="743.5" text-anchor="middle" class="cap">(c)</text>
<text x="546.2" y="743.5" text-anchor="middle" class="cap">(d)</text>
<rect x="20.3" y="517.4" width="175.4" height="175.8" fill="#fff"/>
<rect x="20.80" y="517.90" width="18.49" height="18.53" fill="#000080"/>
<rect x="40.29" y="517.90" width="18.49" height="18.53" fill="#e0661a"/>
<rect x="59.78" y="517.90" width="18.49" height="18.53" fill="#6e0000"/>
<rect x="79.27" y="517.90" width="18.49" height="18.53" fill="#8dfcd0"/>
<rect x="98.76" y="517.90" width="18.49" height="18.53" fill="#e0661a"/>
<rect x="118.24" y="517.90" width="18.49" height="18.53" fill="#8dfcd0"/>
<rect x="137.73" y="517.90" width="18.49" height="18.53" fill="#2f4bff"/>
<rect x="157.22" y="517.90" width="18.49" height="18.53" fill="#6e0000"/>
<rect x="176.71" y="517.90" width="18.49" height="18.53" fill="#2f4bff"/>
<rect x="20.80" y="537.43" width="18.49" height="18.53" fill="#6e0000"/>
<rect x="40.29" y="537.43" width="18.49" height="18.53" fill="#8dfcd0"/>
<rect x="59.78" y="537.43" width="18.49" height="18.53" fill="#8dfcd0"/>
<rect x="79.27" y="537.43" width="18.49" height="18.53" fill="#000080"/>
<rect x="98.76" y="537.43" width="18.49" height="18.53" fill="#6e0000"/>
<rect x="118.24" y="537.43" width="18.49" height="18.53" fill="#dcfc48"/>
<rect x="137.73" y="537.43" width="18.49" height="18.53" fill="#8dfcd0"/>
<rect x="157.22" y="537.43" width="18.49" height="18.53" fill="#2f4bff"/>
<rect x="176.71" y="537.43" width="18.49" height="18.53" fill="#dcfc48"/>
<rect x="20.80" y="556.97" width="18.49" height="18.53" fill="#e0661a"/>
<rect x="40.29" y="556.97" width="18.49" height="18.53" fill="#2f4bff"/>
<rect x="59.78" y="556.97" width="18.49" height="18.53" fill="#8dfcd0"/>
<rect x="79.27" y="556.97" width="18.49" height="18.53" fill="#8dfcd0"/>
<rect x="98.76" y="556.97" width="18.49" height="18.53" fill="#dcfc48"/>
<rect x="118.24" y="556.97" width="18.49" height="18.53" fill="#8dfcd0"/>
<rect x="137.73" y="556.97" width="18.49" height="18.53" fill="#000080"/>
<rect x="157.22" y="556.97" width="18.49" height="18.53" fill="#6e0000"/>
<rect x="176.71" y="556.97" width="18.49" height="18.53" fill="#e0661a"/>
<rect x="20.80" y="576.50" width="18.49" height="18.53" fill="#6e0000"/>
<rect x="40.29" y="576.50" width="18.49" height="18.53" fill="#2f4bff"/>
<rect x="59.78" y="576.50" width="18.49" height="18.53" fill="#8dfcd0"/>
<rect x="79.27" y="576.50" width="18.49" height="18.53" fill="#2f4bff"/>
<rect x="98.76" y="576.50" width="18.49" height="18.53" fill="#6e0000"/>
<rect x="118.24" y="576.50" width="18.49" height="18.53" fill="#000080"/>
<rect x="137.73" y="576.50" width="18.49" height="18.53" fill="#6e0000"/>
<rect x="157.22" y="576.50" width="18.49" height="18.53" fill="#2f4bff"/>
<rect x="176.71" y="576.50" width="18.49" height="18.53" fill="#000080"/>
<rect x="20.80" y="596.03" width="18.49" height="18.53" fill="#000080"/>
<rect x="40.29" y="596.03" width="18.49" height="18.53" fill="#6e0000"/>
<rect x="59.78" y="596.03" width="18.49" height="18.53" fill="#dcfc48"/>
<rect x="79.27" y="596.03" width="18.49" height="18.53" fill="#e0661a"/>
<rect x="98.76" y="596.03" width="18.49" height="18.53" fill="#8dfcd0"/>
<rect x="118.24" y="596.03" width="18.49" height="18.53" fill="#dcfc48"/>
<rect x="137.73" y="596.03" width="18.49" height="18.53" fill="#000080"/>
<rect x="157.22" y="596.03" width="18.49" height="18.53" fill="#8dfcd0"/>
<rect x="176.71" y="596.03" width="18.49" height="18.53" fill="#2f4bff"/>
<rect x="20.80" y="615.57" width="18.49" height="18.53" fill="#8dfcd0"/>
<rect x="40.29" y="615.57" width="18.49" height="18.53" fill="#6e0000"/>
<rect x="59.78" y="615.57" width="18.49" height="18.53" fill="#2f4bff"/>
<rect x="79.27" y="615.57" width="18.49" height="18.53" fill="#6e0000"/>
<rect x="98.76" y="615.57" width="18.49" height="18.53" fill="#2f4bff"/>
<rect x="118.24" y="615.57" width="18.49" height="18.53" fill="#000080"/>
<rect x="137.73" y="615.57" width="18.49" height="18.53" fill="#8dfcd0"/>
<rect x="157.22" y="615.57" width="18.49" height="18.53" fill="#000080"/>
<rect x="176.71" y="615.57" width="18.49" height="18.53" fill="#6e0000"/>
<rect x="20.80" y="635.10" width="18.49" height="18.53" fill="#dcfc48"/>
<rect x="40.29" y="635.10" width="18.49" height="18.53" fill="#2f4bff"/>
<rect x="59.78" y="635.10" width="18.49" height="18.53" fill="#6e0000"/>
<rect x="79.27" y="635.10" width="18.49" height="18.53" fill="#6e0000"/>
<rect x="98.76" y="635.10" width="18.49" height="18.53" fill="#2f4bff"/>
<rect x="118.24" y="635.10" width="18.49" height="18.53" fill="#6e0000"/>
<rect x="137.73" y="635.10" width="18.49" height="18.53" fill="#e0661a"/>
<rect x="157.22" y="635.10" width="18.49" height="18.53" fill="#e0661a"/>
<rect x="176.71" y="635.10" width="18.49" height="18.53" fill="#dcfc48"/>
<rect x="20.80" y="654.63" width="18.49" height="18.53" fill="#000080"/>
<rect x="40.29" y="654.63" width="18.49" height="18.53" fill="#8dfcd0"/>
<rect x="59.78" y="654.63" width="18.49" height="18.53" fill="#e0661a"/>
<rect x="79.27" y="654.63" width="18.49" height="18.53" fill="#e0661a"/>
<rect x="98.76" y="654.63" width="18.49" height="18.53" fill="#000080"/>
<rect x="118.24" y="654.63" width="18.49" height="18.53" fill="#e0661a"/>
<rect x="137.73" y="654.63" width="18.49" height="18.53" fill="#000080"/>
<rect x="157.22" y="654.63" width="18.49" height="18.53" fill="#000080"/>
<rect x="176.71" y="654.63" width="18.49" height="18.53" fill="#8dfcd0"/>
<rect x="20.80" y="674.17" width="18.49" height="18.53" fill="#8dfcd0"/>
<rect x="40.29" y="674.17" width="18.49" height="18.53" fill="#000080"/>
<rect x="59.78" y="674.17" width="18.49" height="18.53" fill="#000080"/>
<rect x="79.27" y="674.17" width="18.49" height="18.53" fill="#8dfcd0"/>
<rect x="98.76" y="674.17" width="18.49" height="18.53" fill="#8dfcd0"/>
<rect x="118.24" y="674.17" width="18.49" height="18.53" fill="#8dfcd0"/>
<rect x="137.73" y="674.17" width="18.49" height="18.53" fill="#e0661a"/>
<rect x="157.22" y="674.17" width="18.49" height="18.53" fill="#8dfcd0"/>
<rect x="176.71" y="674.17" width="18.49" height="18.53" fill="#e0661a"/>
<rect x="20.3" y="517.4" width="175.4" height="175.8" fill="none" stroke="#666" stroke-width="0.8"/>
<path d="M30.0 693.2v2.4M20.3 527.2h-2.4M49.5 693.2v2.4M20.3 546.7h-2.4M69.0 693.2v2.4M20.3 566.2h-2.4M88.5 693.2v2.4M20.3 585.8h-2.4M108.0 693.2v2.4M20.3 605.3h-2.4M127.5 693.2v2.4M20.3 624.8h-2.4M147.0 693.2v2.4M20.3 644.4h-2.4M166.5 693.2v2.4M20.3 663.9h-2.4M186.0 693.2v2.4M20.3 683.4h-2.4M20.3 693.2v1.2M20.3 517.4h-1.2M39.8 693.2v1.2M20.3 536.9h-1.2M59.3 693.2v1.2M20.3 556.5h-1.2M78.8 693.2v1.2M20.3 576.0h-1.2M98.3 693.2v1.2M20.3 595.5h-1.2M117.7 693.2v1.2M20.3 615.1h-1.2M137.2 693.2v1.2M20.3 634.6h-1.2M156.7 693.2v1.2M20.3 654.1h-1.2M176.2 693.2v1.2M20.3 673.7h-1.2M195.7 693.2v1.2M20.3 693.2h-1.2" stroke="#333" stroke-width="0.6" fill="none"/>
<text x="30.0" y="702.5" text-anchor="middle" class="g">1</text>
<text x="16.4" y="530.2" text-anchor="end" class="g">1</text>
<text x="49.5" y="702.5" text-anchor="middle" class="g">2</text>
<text x="16.4" y="549.7" text-anchor="end" class="g">2</text>
<text x="69.0" y="702.5" text-anchor="middle" class="g">3</text>
<text x="16.4" y="569.2" text-anchor="end" class="g">3</text>
<text x="88.5" y="702.5" text-anchor="middle" class="g">4</text>
<text x="16.4" y="588.8" text-anchor="end" class="g">4</text>
<text x="108.0" y="702.5" text-anchor="middle" class="g">5</text>
<text x="16.4" y="608.3" text-anchor="end" class="g">5</text>
<text x="127.5" y="702.5" text-anchor="middle" class="g">6</text>
<text x="16.4" y="627.8" text-anchor="end" class="g">6</text>
<text x="147.0" y="702.5" text-anchor="middle" class="g">7</text>
<text x="16.4" y="647.4" text-anchor="end" class="g">7</text>
<text x="166.5" y="702.5" text-anchor="middle" class="g">8</text>
<text x="16.4" y="666.9" text-anchor="end" class="g">8</text>
<text x="186.0" y="702.5" text-anchor="middle" class="g">9</text>
<text x="16.4" y="686.4" text-anchor="end" class="g">9</text>
<text x="108.0" y="711.5" text-anchor="middle" class="gl">Task<tspan font-size="5" dy="1.4">i</tspan></text>
<text transform="translate(7.3,605.3) rotate(-90)" text-anchor="middle" class="gl">Task<tspan font-size="5" dy="1.4">j</tspan></text>
<rect x="227.0" y="517.4" width="175.9" height="175.8" fill="#fff"/>
<rect x="227.50" y="517.90" width="18.54" height="18.53" fill="#000080"/>
<rect x="247.04" y="517.90" width="18.54" height="18.53" fill="#6e0000"/>
<rect x="266.59" y="517.90" width="18.54" height="18.53" fill="#2f4bff"/>
<rect x="286.13" y="517.90" width="18.54" height="18.53" fill="#000080"/>
<rect x="305.68" y="517.90" width="18.54" height="18.53" fill="#2f4bff"/>
<rect x="325.22" y="517.90" width="18.54" height="18.53" fill="#000080"/>
<rect x="344.77" y="517.90" width="18.54" height="18.53" fill="#000080"/>
<rect x="364.31" y="517.90" width="18.54" height="18.53" fill="#000080"/>
<rect x="383.86" y="517.90" width="18.54" height="18.53" fill="#000080"/>
<rect x="227.50" y="537.43" width="18.54" height="18.53" fill="#2f4bff"/>
<rect x="247.04" y="537.43" width="18.54" height="18.53" fill="#2f4bff"/>
<rect x="266.59" y="537.43" width="18.54" height="18.53" fill="#2f4bff"/>
<rect x="286.13" y="537.43" width="18.54" height="18.53" fill="#000080"/>
<rect x="305.68" y="537.43" width="18.54" height="18.53" fill="#000080"/>
<rect x="325.22" y="537.43" width="18.54" height="18.53" fill="#000080"/>
<rect x="344.77" y="537.43" width="18.54" height="18.53" fill="#2f4bff"/>
<rect x="364.31" y="537.43" width="18.54" height="18.53" fill="#2f4bff"/>
<rect x="383.86" y="537.43" width="18.54" height="18.53" fill="#000080"/>
<rect x="227.50" y="556.97" width="18.54" height="18.53" fill="#000080"/>
<rect x="247.04" y="556.97" width="18.54" height="18.53" fill="#2f4bff"/>
<rect x="266.59" y="556.97" width="18.54" height="18.53" fill="#000080"/>
<rect x="286.13" y="556.97" width="18.54" height="18.53" fill="#000080"/>
<rect x="305.68" y="556.97" width="18.54" height="18.53" fill="#2f4bff"/>
<rect x="325.22" y="556.97" width="18.54" height="18.53" fill="#000080"/>
<rect x="344.77" y="556.97" width="18.54" height="18.53" fill="#000080"/>
<rect x="364.31" y="556.97" width="18.54" height="18.53" fill="#8dfcd0"/>
<rect x="383.86" y="556.97" width="18.54" height="18.53" fill="#8dfcd0"/>
<rect x="227.50" y="576.50" width="18.54" height="18.53" fill="#000080"/>
<rect x="247.04" y="576.50" width="18.54" height="18.53" fill="#000080"/>
<rect x="266.59" y="576.50" width="18.54" height="18.53" fill="#000080"/>
<rect x="286.13" y="576.50" width="18.54" height="18.53" fill="#2f4bff"/>
<rect x="305.68" y="576.50" width="18.54" height="18.53" fill="#2f4bff"/>
<rect x="325.22" y="576.50" width="18.54" height="18.53" fill="#8dfcd0"/>
<rect x="344.77" y="576.50" width="18.54" height="18.53" fill="#000080"/>
<rect x="364.31" y="576.50" width="18.54" height="18.53" fill="#000080"/>
<rect x="383.86" y="576.50" width="18.54" height="18.53" fill="#000080"/>
<rect x="227.50" y="596.03" width="18.54" height="18.53" fill="#2f4bff"/>
<rect x="247.04" y="596.03" width="18.54" height="18.53" fill="#2f4bff"/>
<rect x="266.59" y="596.03" width="18.54" height="18.53" fill="#2f4bff"/>
<rect x="286.13" y="596.03" width="18.54" height="18.53" fill="#000080"/>
<rect x="305.68" y="596.03" width="18.54" height="18.53" fill="#000080"/>
<rect x="325.22" y="596.03" width="18.54" height="18.53" fill="#000080"/>
<rect x="344.77" y="596.03" width="18.54" height="18.53" fill="#2f4bff"/>
<rect x="364.31" y="596.03" width="18.54" height="18.53" fill="#000080"/>
<rect x="383.86" y="596.03" width="18.54" height="18.53" fill="#2f4bff"/>
<rect x="227.50" y="615.57" width="18.54" height="18.53" fill="#2f4bff"/>
<rect x="247.04" y="615.57" width="18.54" height="18.53" fill="#2f4bff"/>
<rect x="266.59" y="615.57" width="18.54" height="18.53" fill="#000080"/>
<rect x="286.13" y="615.57" width="18.54" height="18.53" fill="#000080"/>
<rect x="305.68" y="615.57" width="18.54" height="18.53" fill="#000080"/>
<rect x="325.22" y="615.57" width="18.54" height="18.53" fill="#000080"/>
<rect x="344.77" y="615.57" width="18.54" height="18.53" fill="#dcfc48"/>
<rect x="364.31" y="615.57" width="18.54" height="18.53" fill="#000080"/>
<rect x="383.86" y="615.57" width="18.54" height="18.53" fill="#000080"/>
<rect x="227.50" y="635.10" width="18.54" height="18.53" fill="#2f4bff"/>
<rect x="247.04" y="635.10" width="18.54" height="18.53" fill="#2f4bff"/>
<rect x="266.59" y="635.10" width="18.54" height="18.53" fill="#2f4bff"/>
<rect x="286.13" y="635.10" width="18.54" height="18.53" fill="#2f4bff"/>
<rect x="305.68" y="635.10" width="18.54" height="18.53" fill="#000080"/>
<rect x="325.22" y="635.10" width="18.54" height="18.53" fill="#000080"/>
<rect x="344.77" y="635.10" width="18.54" height="18.53" fill="#000080"/>
<rect x="364.31" y="635.10" width="18.54" height="18.53" fill="#000080"/>
<rect x="383.86" y="635.10" width="18.54" height="18.53" fill="#000080"/>
<rect x="227.50" y="654.63" width="18.54" height="18.53" fill="#8dfcd0"/>
<rect x="247.04" y="654.63" width="18.54" height="18.53" fill="#000080"/>
<rect x="266.59" y="654.63" width="18.54" height="18.53" fill="#000080"/>
<rect x="286.13" y="654.63" width="18.54" height="18.53" fill="#000080"/>
<rect x="305.68" y="654.63" width="18.54" height="18.53" fill="#000080"/>
<rect x="325.22" y="654.63" width="18.54" height="18.53" fill="#000080"/>
<rect x="344.77" y="654.63" width="18.54" height="18.53" fill="#8dfcd0"/>
<rect x="364.31" y="654.63" width="18.54" height="18.53" fill="#000080"/>
<rect x="383.86" y="654.63" width="18.54" height="18.53" fill="#000080"/>
<rect x="227.50" y="674.17" width="18.54" height="18.53" fill="#000080"/>
<rect x="247.04" y="674.17" width="18.54" height="18.53" fill="#000080"/>
<rect x="266.59" y="674.17" width="18.54" height="18.53" fill="#000080"/>
<rect x="286.13" y="674.17" width="18.54" height="18.53" fill="#000080"/>
<rect x="305.68" y="674.17" width="18.54" height="18.53" fill="#2f4bff"/>
<rect x="325.22" y="674.17" width="18.54" height="18.53" fill="#000080"/>
<rect x="344.77" y="674.17" width="18.54" height="18.53" fill="#000080"/>
<rect x="364.31" y="674.17" width="18.54" height="18.53" fill="#000080"/>
<rect x="383.86" y="674.17" width="18.54" height="18.53" fill="#000080"/>
<rect x="227.0" y="517.4" width="175.9" height="175.8" fill="none" stroke="#666" stroke-width="0.8"/>
<path d="M236.8 693.2v2.4M227.0 527.2h-2.4M256.3 693.2v2.4M227.0 546.7h-2.4M275.9 693.2v2.4M227.0 566.2h-2.4M295.4 693.2v2.4M227.0 585.8h-2.4M314.9 693.2v2.4M227.0 605.3h-2.4M334.5 693.2v2.4M227.0 624.8h-2.4M354.0 693.2v2.4M227.0 644.4h-2.4M373.6 693.2v2.4M227.0 663.9h-2.4M393.1 693.2v2.4M227.0 683.4h-2.4M227.0 693.2v1.2M227.0 517.4h-1.2M246.5 693.2v1.2M227.0 536.9h-1.2M266.1 693.2v1.2M227.0 556.5h-1.2M285.6 693.2v1.2M227.0 576.0h-1.2M305.2 693.2v1.2M227.0 595.5h-1.2M324.7 693.2v1.2M227.0 615.1h-1.2M344.3 693.2v1.2M227.0 634.6h-1.2M363.8 693.2v1.2M227.0 654.1h-1.2M383.4 693.2v1.2M227.0 673.7h-1.2M402.9 693.2v1.2M227.0 693.2h-1.2" stroke="#333" stroke-width="0.6" fill="none"/>
<text x="236.8" y="702.5" text-anchor="middle" class="g">1</text>
<text x="223.1" y="530.2" text-anchor="end" class="g">1</text>
<text x="256.3" y="702.5" text-anchor="middle" class="g">2</text>
<text x="223.1" y="549.7" text-anchor="end" class="g">2</text>
<text x="275.9" y="702.5" text-anchor="middle" class="g">3</text>
<text x="223.1" y="569.2" text-anchor="end" class="g">3</text>
<text x="295.4" y="702.5" text-anchor="middle" class="g">4</text>
<text x="223.1" y="588.8" text-anchor="end" class="g">4</text>
<text x="314.9" y="702.5" text-anchor="middle" class="g">5</text>
<text x="223.1" y="608.3" text-anchor="end" class="g">5</text>
<text x="334.5" y="702.5" text-anchor="middle" class="g">6</text>
<text x="223.1" y="627.8" text-anchor="end" class="g">6</text>
<text x="354.0" y="702.5" text-anchor="middle" class="g">7</text>
<text x="223.1" y="647.4" text-anchor="end" class="g">7</text>
<text x="373.6" y="702.5" text-anchor="middle" class="g">8</text>
<text x="223.1" y="666.9" text-anchor="end" class="g">8</text>
<text x="393.1" y="702.5" text-anchor="middle" class="g">9</text>
<text x="223.1" y="686.4" text-anchor="end" class="g">9</text>
<text x="314.9" y="711.5" text-anchor="middle" class="gl">Task<tspan font-size="5" dy="1.4">i</tspan></text>
<text transform="translate(214.0,605.3) rotate(-90)" text-anchor="middle" class="gl">Task<tspan font-size="5" dy="1.4">j</tspan></text>
<path d="M419.7 598.5L446.0 493.8M419.7 598.5L445.5 522.0M419.7 598.5L444.5 550.0M419.7 598.5L442.6 576.9M419.7 598.5L440.6 599.9M419.7 598.5L442.9 623.5M419.7 598.5L444.7 650.6M419.7 598.5L445.6 678.7M419.7 598.5L446.1 706.9" stroke="#444" stroke-width="0.55" fill="none"/>
<path d="M446.8 490.7L447.3 494.1L444.8 493.5zM446.5 519.0L446.7 522.4L444.3 521.6zM446.0 547.1L445.7 550.6L443.4 549.4zM444.9 574.7L443.5 577.9L441.7 576.0zM443.8 600.1L440.5 601.2L440.7 598.6zM445.1 625.8L441.9 624.4L443.9 622.6zM446.1 653.5L443.5 651.2L445.9 650.1zM446.6 681.7L444.4 679.1L446.8 678.3zM446.9 710.0L444.8 707.2L447.4 706.6z" fill="#111"/>
<circle cx="419.7" cy="598.5" r="6.7" fill="#dcdcdc"/>
<path d="M457.1 627.2L469.9 627.2M485.5 627.2L498.2 627.2M513.8 627.2L526.6 627.2M542.2 627.2L555.0 627.2M570.6 627.2L583.4 627.2M598.9 627.2L611.7 627.2M627.3 627.2L640.1 627.2M655.7 627.2L668.5 627.2" stroke="#8a8aff" stroke-width="1.7" fill="none"/>
<path d="M457.1 485.3L469.9 485.3M485.5 485.3L498.2 485.3M513.8 485.3L526.6 485.3M542.2 485.3L555.0 485.3M570.6 485.3L583.4 485.3M598.9 485.3L611.7 485.3M627.3 485.3L640.1 485.3M655.7 485.3L668.5 485.3M457.1 513.7L469.9 513.7M485.5 513.7L498.2 513.7M513.8 513.7L526.6 513.7M542.2 513.7L555.0 513.7M570.6 513.7L583.4 513.7M598.9 513.7L611.7 513.7M627.3 513.7L640.1 513.7M655.7 513.7L668.5 513.7M457.1 542.1L469.9 542.1M485.5 542.1L498.2 542.1M513.8 542.1L526.6 542.1M542.2 542.1L555.0 542.1M570.6 542.1L583.4 542.1M598.9 542.1L611.7 542.1M627.3 542.1L640.1 542.1M655.7 542.1L668.5 542.1M457.1 570.5L469.9 570.5M485.5 570.5L498.2 570.5M513.8 570.5L526.6 570.5M542.2 570.5L555.0 570.5M570.6 570.5L583.4 570.5M598.9 570.5L611.7 570.5M627.3 570.5L640.1 570.5M655.7 570.5L668.5 570.5M457.1 598.9L469.9 598.9M485.5 598.9L498.2 598.9M513.8 598.9L526.6 598.9M542.2 598.9L555.0 598.9M570.6 598.9L583.4 598.9M598.9 598.9L611.7 598.9M627.3 598.9L640.1 598.9M655.7 598.9L668.5 598.9M457.1 655.6L469.9 655.6M485.5 655.6L498.2 655.6M513.8 655.6L526.6 655.6M542.2 655.6L555.0 655.6M570.6 655.6L583.4 655.6M598.9 655.6L611.7 655.6M627.3 655.6L640.1 655.6M655.7 655.6L668.5 655.6M457.1 684.0L469.9 684.0M485.5 684.0L498.2 684.0M513.8 684.0L526.6 684.0M542.2 684.0L555.0 684.0M570.6 684.0L583.4 684.0M598.9 684.0L611.7 684.0M627.3 684.0L640.1 684.0M655.7 684.0L668.5 684.0M457.1 712.4L469.9 712.4M485.5 712.4L498.2 712.4M513.8 712.4L526.6 712.4M542.2 712.4L555.0 712.4M570.6 712.4L583.4 712.4M598.9 712.4L611.7 712.4M627.3 712.4L640.1 712.4M655.7 712.4L668.5 712.4M536.9 490.6L536.9 503.4M560.3 487.0L489.9 510.4M594.4 490.5L620.6 673.8M624.0 490.2L674.9 617.7M674.0 487.7L517.8 565.9M483.9 517.4L586.4 620.0M619.7 518.4L598.3 561.3M510.9 546.8L560.7 646.4M565.3 547.4L565.3 588.6M590.7 546.5L542.6 618.7M675.8 546.5L627.7 618.7M676.4 546.8L598.3 703.2M504.8 602.6L487.5 620.0M617.1 600.8L489.7 651.8M616.8 628.1L462.0 653.9" stroke="#3a3aff" stroke-width="1" fill="none"/>
<path d="M474.9 485.3L469.9 487.6L469.9 483.0zM503.2 485.3L498.2 487.6L498.2 483.0zM531.6 485.3L526.6 487.6L526.6 483.0zM560.0 485.3L555.0 487.6L555.0 483.0zM588.4 485.3L583.4 487.6L583.4 483.0zM616.7 485.3L611.7 487.6L611.7 483.0zM645.1 485.3L640.1 487.6L640.1 483.0zM673.5 485.3L668.5 487.6L668.5 483.0zM474.9 513.7L469.9 516.0L469.9 511.4zM503.2 513.7L498.2 516.0L498.2 511.4zM531.6 513.7L526.6 516.0L526.6 511.4zM560.0 513.7L555.0 516.0L555.0 511.4zM588.4 513.7L583.4 516.0L583.4 511.4zM616.7 513.7L611.7 516.0L611.7 511.4zM645.1 513.7L640.1 516.0L640.1 511.4zM673.5 513.7L668.5 516.0L668.5 511.4zM474.9 542.1L469.9 544.4L469.9 539.8zM503.2 542.1L498.2 544.4L498.2 539.8zM531.6 542.1L526.6 544.4L526.6 539.8zM560.0 542.1L555.0 544.4L555.0 539.8zM588.4 542.1L583.4 544.4L583.4 539.8zM616.7 542.1L611.7 544.4L611.7 539.8zM645.1 542.1L640.1 544.4L640.1 539.8zM673.5 542.1L668.5 544.4L668.5 539.8zM474.9 570.5L469.9 572.8L469.9 568.2zM503.2 570.5L498.2 572.8L498.2 568.2zM531.6 570.5L526.6 572.8L526.6 568.2zM560.0 570.5L555.0 572.8L555.0 568.2zM588.4 570.5L583.4 572.8L583.4 568.2zM616.7 570.5L611.7 572.8L611.7 568.2zM645.1 570.5L640.1 572.8L640.1 568.2zM673.5 570.5L668.5 572.8L668.5 568.2zM474.9 598.9L469.9 601.2L469.9 596.6zM503.2 598.9L498.2 601.2L498.2 596.6zM531.6 598.9L526.6 601.2L526.6 596.6zM560.0 598.9L555.0 601.2L555.0 596.6zM588.4 598.9L583.4 601.2L583.4 596.6zM616.7 598.9L611.7 601.2L611.7 596.6zM645.1 598.9L640.1 601.2L640.1 596.6zM673.5 598.9L668.5 601.2L668.5 596.6zM474.9 627.2L469.9 629.5L469.9 625.0zM503.2 627.2L498.2 629.5L498.2 625.0zM531.6 627.2L526.6 629.5L526.6 625.0zM560.0 627.2L555.0 629.5L555.0 625.0zM588.4 627.2L583.4 629.5L583.4 625.0zM616.7 627.2L611.7 629.5L611.7 625.0zM645.1 627.2L640.1 629.5L640.1 625.0zM673.5 627.2L668.5 629.5L668.5 625.0zM474.9 655.6L469.9 657.9L469.9 653.3zM503.2 655.6L498.2 657.9L498.2 653.3zM531.6 655.6L526.6 657.9L526.6 653.3zM560.0 655.6L555.0 657.9L555.0 653.3zM588.4 655.6L583.4 657.9L583.4 653.3zM616.7 655.6L611.7 657.9L611.7 653.3zM645.1 655.6L640.1 657.9L640.1 653.3zM673.5 655.6L668.5 657.9L668.5 653.3zM474.9 684.0L469.9 686.3L469.9 681.7zM503.2 684.0L498.2 686.3L498.2 681.7zM531.6 684.0L526.6 686.3L526.6 681.7zM560.0 684.0L555.0 686.3L555.0 681.7zM588.4 684.0L583.4 686.3L583.4 681.7zM616.7 684.0L611.7 686.3L611.7 681.7zM645.1 684.0L640.1 686.3L640.1 681.7zM673.5 684.0L668.5 686.3L668.5 681.7zM474.9 712.4L469.9 714.7L469.9 710.1zM503.2 712.4L498.2 714.7L498.2 710.1zM531.6 712.4L526.6 714.7L526.6 710.1zM560.0 712.4L555.0 714.7L555.0 710.1zM588.4 712.4L583.4 714.7L583.4 710.1zM616.7 712.4L611.7 714.7L611.7 710.1zM645.1 712.4L640.1 714.7L640.1 710.1zM673.5 712.4L668.5 714.7L668.5 710.1zM536.9 508.4L534.6 503.4L539.2 503.4zM485.2 512.0L489.2 508.2L490.7 512.6zM621.3 678.8L618.3 674.2L622.8 673.5zM676.8 622.3L672.8 618.5L677.1 616.8zM513.3 568.1L516.7 563.8L518.8 567.9zM589.9 623.5L584.7 621.6L588.0 618.3zM596.0 565.7L596.2 560.2L600.3 562.3zM562.9 650.9L558.6 647.5L562.7 645.4zM565.3 593.6L563.0 588.6L567.6 588.6zM539.8 622.8L540.7 617.4L544.5 620.0zM625.0 622.8L625.8 617.4L629.6 620.0zM596.0 707.7L596.2 702.2L600.3 704.2zM483.9 623.5L485.8 618.3L489.1 621.6zM485.1 653.7L488.9 649.7L490.6 653.9zM457.0 654.8L461.6 651.7L462.3 656.2z" fill="#1010ff"/>
<circle cx="451.8" cy="485.3" r="5.3"/>
<text x="451.8" y="487.8" text-anchor="middle" class="n">0</text>
<circle cx="480.2" cy="485.3" r="5.3"/>
<text x="480.2" y="487.8" text-anchor="middle" class="n">1</text>
<circle cx="508.5" cy="485.3" r="5.3"/>
<text x="508.5" y="487.8" text-anchor="middle" class="n">2</text>
<circle cx="536.9" cy="485.3" r="5.3"/>
<text x="536.9" y="487.8" text-anchor="middle" class="n">3</text>
<circle cx="565.3" cy="485.3" r="5.3"/>
<text x="565.3" y="487.8" text-anchor="middle" class="n">4</text>
<circle cx="593.6" cy="485.3" r="5.3"/>
<text x="593.6" y="487.8" text-anchor="middle" class="n">5</text>
<circle cx="622.0" cy="485.3" r="5.3"/>
<text x="622.0" y="487.8" text-anchor="middle" class="n">6</text>
<circle cx="650.4" cy="485.3" r="5.3"/>
<text x="650.4" y="487.8" text-anchor="middle" class="n">7</text>
<circle cx="678.8" cy="485.3" r="5.3"/>
<text x="678.8" y="487.8" text-anchor="middle" class="n">8</text>
<circle cx="451.8" cy="513.7" r="5.3"/>
<text x="451.8" y="516.2" text-anchor="middle" class="n">9</text>
<circle cx="480.2" cy="513.7" r="5.3"/>
<text x="480.2" y="516.2" text-anchor="middle" class="n">10</text>
<circle cx="508.5" cy="513.7" r="5.3"/>
<text x="508.5" y="516.2" text-anchor="middle" class="n">11</text>
<circle cx="536.9" cy="513.7" r="5.3"/>
<text x="536.9" y="516.2" text-anchor="middle" class="n">12</text>
<circle cx="565.3" cy="513.7" r="5.3"/>
<text x="565.3" y="516.2" text-anchor="middle" class="n">13</text>
<circle cx="593.6" cy="513.7" r="5.3"/>
<text x="593.6" y="516.2" text-anchor="middle" class="n">14</text>
<circle cx="622.0" cy="513.7" r="5.3"/>
<text x="622.0" y="516.2" text-anchor="middle" class="n">15</text>
<circle cx="650.4" cy="513.7" r="5.3"/>
<text x="650.4" y="516.2" text-anchor="middle" class="n">16</text>
<circle cx="678.8" cy="513.7" r="5.3"/>
<text x="678.8" y="516.2" text-anchor="middle" class="n">17</text>
<circle cx="451.8" cy="542.1" r="5.3"/>
<text x="451.8" y="544.6" text-anchor="middle" class="n">18</text>
<circle cx="480.2" cy="542.1" r="5.3"/>
<text x="480.2" y="544.6" text-anchor="middle" class="n">19</text>
<circle cx="508.5" cy="542.1" r="5.3"/>
<text x="508.5" y="544.6" text-anchor="middle" class="n">20</text>
<circle cx="536.9" cy="542.1" r="5.3"/>
<text x="536.9" y="544.6" text-anchor="middle" class="n">21</text>
<circle cx="565.3" cy="542.1" r="5.3"/>
<text x="565.3" y="544.6" text-anchor="middle" class="n">22</text>
<circle cx="593.6" cy="542.1" r="5.3"/>
<text x="593.6" y="544.6" text-anchor="middle" class="n">23</text>
<circle cx="622.0" cy="542.1" r="5.3"/>
<text x="622.0" y="544.6" text-anchor="middle" class="n">24</text>
<circle cx="650.4" cy="542.1" r="5.3"/>
<text x="650.4" y="544.6" text-anchor="middle" class="n">25</text>
<circle cx="678.8" cy="542.1" r="5.3"/>
<text x="678.8" y="544.6" text-anchor="middle" class="n">26</text>
<circle cx="451.8" cy="570.5" r="5.3"/>
<text x="451.8" y="573.0" text-anchor="middle" class="n">27</text>
<circle cx="480.2" cy="570.5" r="5.3"/>
<text x="480.2" y="573.0" text-anchor="middle" class="n">28</text>
<circle cx="508.5" cy="570.5" r="5.3"/>
<text x="508.5" y="573.0" text-anchor="middle" class="n">29</text>
<circle cx="536.9" cy="570.5" r="5.3"/>
<text x="536.9" y="573.0" text-anchor="middle" class="n">30</text>
<circle cx="565.3" cy="570.5" r="5.3"/>
<text x="565.3" y="573.0" text-anchor="middle" class="n">31</text>
<circle cx="593.6" cy="570.5" r="5.3"/>
<text x="593.6" y="573.0" text-anchor="middle" class="n">32</text>
<circle cx="622.0" cy="570.5" r="5.3"/>
<text x="622.0" y="573.0" text-anchor="middle" class="n">33</text>
<circle cx="650.4" cy="570.5" r="5.3"/>
<text x="650.4" y="573.0" text-anchor="middle" class="n">34</text>
<circle cx="678.8" cy="570.5" r="5.3"/>
<text x="678.8" y="573.0" text-anchor="middle" class="n">35</text>
<circle cx="451.8" cy="598.9" r="5.3"/>
<text x="451.8" y="601.4" text-anchor="middle" class="n">36</text>
<circle cx="480.2" cy="598.9" r="5.3"/>
<text x="480.2" y="601.4" text-anchor="middle" class="n">37</text>
<circle cx="508.5" cy="598.9" r="5.3"/>
<text x="508.5" y="601.4" text-anchor="middle" class="n">38</text>
<circle cx="536.9" cy="598.9" r="5.3"/>
<text x="536.9" y="601.4" text-anchor="middle" class="n">39</text>
<circle cx="565.3" cy="598.9" r="5.3"/>
<text x="565.3" y="601.4" text-anchor="middle" class="n">40</text>
<circle cx="593.6" cy="598.9" r="5.3"/>
<text x="593.6" y="601.4" text-anchor="middle" class="n">41</text>
<circle cx="622.0" cy="598.9" r="5.3"/>
<text x="622.0" y="601.4" text-anchor="middle" class="n">42</text>
<circle cx="650.4" cy="598.9" r="5.3"/>
<text x="650.4" y="601.4" text-anchor="middle" class="n">43</text>
<circle cx="678.8" cy="598.9" r="5.3"/>
<text x="678.8" y="601.4" text-anchor="middle" class="n">44</text>
<circle cx="451.8" cy="627.2" r="5.3"/>
<text x="451.8" y="629.8" text-anchor="middle" class="n">45</text>
<circle cx="480.2" cy="627.2" r="5.3"/>
<text x="480.2" y="629.8" text-anchor="middle" class="n">46</text>
<circle cx="508.5" cy="627.2" r="5.3"/>
<text x="508.5" y="629.8" text-anchor="middle" class="n">47</text>
<circle cx="536.9" cy="627.2" r="5.3"/>
<text x="536.9" y="629.8" text-anchor="middle" class="n">48</text>
<circle cx="565.3" cy="627.2" r="5.3"/>
<text x="565.3" y="629.8" text-anchor="middle" class="n">49</text>
<circle cx="593.6" cy="627.2" r="5.3"/>
<text x="593.6" y="629.8" text-anchor="middle" class="n">50</text>
<circle cx="622.0" cy="627.2" r="5.3"/>
<text x="622.0" y="629.8" text-anchor="middle" class="n">51</text>
<circle cx="650.4" cy="627.2" r="5.3"/>
<text x="650.4" y="629.8" text-anchor="middle" class="n">52</text>
<circle cx="678.8" cy="627.2" r="5.3"/>
<text x="678.8" y="629.8" text-anchor="middle" class="n">53</text>
<circle cx="451.8" cy="655.6" r="5.3"/>
<text x="451.8" y="658.1" text-anchor="middle" class="n">54</text>
<circle cx="480.2" cy="655.6" r="5.3"/>
<text x="480.2" y="658.1" text-anchor="middle" class="n">55</text>
<circle cx="508.5" cy="655.6" r="5.3"/>
<text x="508.5" y="658.1" text-anchor="middle" class="n">56</text>
<circle cx="536.9" cy="655.6" r="5.3"/>
<text x="536.9" y="658.1" text-anchor="middle" class="n">57</text>
<circle cx="565.3" cy="655.6" r="5.3"/>
<text x="565.3" y="658.1" text-anchor="middle" class="n">58</text>
<circle cx="593.6" cy="655.6" r="5.3"/>
<text x="593.6" y="658.1" text-anchor="middle" class="n">59</text>
<circle cx="622.0" cy="655.6" r="5.3"/>
<text x="622.0" y="658.1" text-anchor="middle" class="n">60</text>
<circle cx="650.4" cy="655.6" r="5.3"/>
<text x="650.4" y="658.1" text-anchor="middle" class="n">61</text>
<circle cx="678.8" cy="655.6" r="5.3"/>
<text x="678.8" y="658.1" text-anchor="middle" class="n">62</text>
<circle cx="451.8" cy="684.0" r="5.3"/>
<text x="451.8" y="686.5" text-anchor="middle" class="n">63</text>
<circle cx="480.2" cy="684.0" r="5.3"/>
<text x="480.2" y="686.5" text-anchor="middle" class="n">64</text>
<circle cx="508.5" cy="684.0" r="5.3"/>
<text x="508.5" y="686.5" text-anchor="middle" class="n">65</text>
<circle cx="536.9" cy="684.0" r="5.3"/>
<text x="536.9" y="686.5" text-anchor="middle" class="n">66</text>
<circle cx="565.3" cy="684.0" r="5.3"/>
<text x="565.3" y="686.5" text-anchor="middle" class="n">67</text>
<circle cx="593.6" cy="684.0" r="5.3"/>
<text x="593.6" y="686.5" text-anchor="middle" class="n">68</text>
<circle cx="622.0" cy="684.0" r="5.3"/>
<text x="622.0" y="686.5" text-anchor="middle" class="n">69</text>
<circle cx="650.4" cy="684.0" r="5.3"/>
<text x="650.4" y="686.5" text-anchor="middle" class="n">70</text>
<circle cx="678.8" cy="684.0" r="5.3"/>
<text x="678.8" y="686.5" text-anchor="middle" class="n">71</text>
<circle cx="451.8" cy="712.4" r="5.3"/>
<text x="451.8" y="714.9" text-anchor="middle" class="n">72</text>
<circle cx="480.2" cy="712.4" r="5.3"/>
<text x="480.2" y="714.9" text-anchor="middle" class="n">73</text>
<circle cx="508.5" cy="712.4" r="5.3"/>
<text x="508.5" y="714.9" text-anchor="middle" class="n">74</text>
<circle cx="536.9" cy="712.4" r="5.3"/>
<text x="536.9" y="714.9" text-anchor="middle" class="n">75</text>
<circle cx="565.3" cy="712.4" r="5.3"/>
<text x="565.3" y="714.9" text-anchor="middle" class="n">76</text>
<circle cx="593.6" cy="712.4" r="5.3"/>
<text x="593.6" y="714.9" text-anchor="middle" class="n">77</text>
<circle cx="622.0" cy="712.4" r="5.3"/>
<text x="622.0" y="714.9" text-anchor="middle" class="n">78</text>
<circle cx="650.4" cy="712.4" r="5.3"/>
<text x="650.4" y="714.9" text-anchor="middle" class="n">79</text>
<circle cx="678.8" cy="712.4" r="5.3"/>
<text x="678.8" y="714.9" text-anchor="middle" class="n">80</text>
</svg></body></html>
